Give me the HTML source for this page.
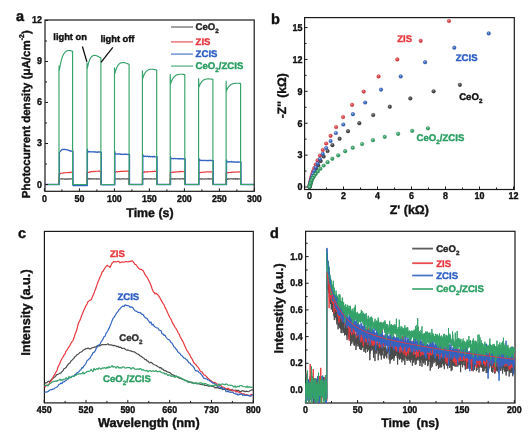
<!DOCTYPE html>
<html><head><meta charset="utf-8"><style>
html,body{margin:0;padding:0;background:#fff;}
svg{display:block;font-family:"Liberation Sans", sans-serif;filter:blur(0.3px);}
</style></head><body>
<svg width="531" height="434" viewBox="0 0 531 434" text-rendering="geometricPrecision">
<rect width="531" height="434" fill="#fff"/>
<defs>
<radialGradient id="gk" cx="0.4" cy="0.35" r="0.65"><stop offset="0" stop-color="#9a9a9a"/><stop offset="0.45" stop-color="#505050"/><stop offset="1" stop-color="#303030"/></radialGradient>
<radialGradient id="gr" cx="0.4" cy="0.35" r="0.65"><stop offset="0" stop-color="#f4a0a4"/><stop offset="0.45" stop-color="#e4474f"/><stop offset="1" stop-color="#c8333b"/></radialGradient>
<radialGradient id="gb" cx="0.4" cy="0.35" r="0.65"><stop offset="0" stop-color="#a8c0ec"/><stop offset="0.45" stop-color="#3f6ec6"/><stop offset="1" stop-color="#2d58a8"/></radialGradient>
<radialGradient id="gg" cx="0.4" cy="0.35" r="0.65"><stop offset="0" stop-color="#a4dcbc"/><stop offset="0.45" stop-color="#3ca56a"/><stop offset="1" stop-color="#2c8a56"/></radialGradient>
<clipPath id="clipA"><rect x="45.0" y="20.0" width="209.2" height="171.3"/></clipPath>
<clipPath id="clipC"><rect x="44.4" y="231.4" width="208.9" height="171.49999999999997"/></clipPath>
<clipPath id="clipD"><rect x="305.6" y="231.3" width="209.39999999999998" height="171.7"/></clipPath>
</defs>
<g clip-path="url(#clipA)">
<polyline points="45.00,184.50 59.00,184.50 59.00,178.90 59.34,178.85 59.68,178.94 60.02,179.04 60.36,178.97 60.70,179.06 61.04,178.89 61.38,178.68 61.72,178.98 62.06,179.00 62.40,178.81 62.74,178.84 63.08,178.88 63.42,179.05 63.76,178.90 64.10,178.78 64.44,179.12 64.78,178.97 65.12,179.21 65.46,179.11 65.80,179.20 66.14,178.93 66.48,179.10 66.82,178.85 67.16,178.87 67.50,178.93 67.84,179.31 68.18,178.98 68.52,178.90 68.86,178.88 69.20,179.15 69.54,178.97 69.88,179.06 70.22,179.03 70.56,178.72 70.90,179.03 71.24,178.90 71.58,178.75 71.92,178.99 72.26,178.91 72.60,178.88 72.60,184.50 87.00,184.50 87.00,184.50 87.00,178.88 87.35,179.10 87.69,178.88 88.04,178.67 88.39,179.15 88.74,178.75 89.09,178.88 89.43,179.00 89.78,178.57 90.13,178.77 90.47,179.09 90.82,178.88 91.17,178.80 91.52,178.93 91.87,178.78 92.21,178.91 92.56,178.79 92.91,178.66 93.25,179.01 93.60,178.86 93.95,178.97 94.30,178.87 94.65,179.09 94.99,178.99 95.34,178.93 95.69,178.75 96.03,178.71 96.38,179.11 96.73,179.03 97.08,178.79 97.43,179.22 97.77,178.97 98.12,178.91 98.47,178.69 98.81,178.78 99.16,178.95 99.51,178.96 99.86,178.94 100.21,178.65 100.55,178.97 100.90,178.95 100.90,184.50 114.50,184.50 114.50,184.50 114.50,178.84 114.86,178.92 115.23,178.93 115.59,179.08 115.96,178.90 116.33,178.97 116.69,178.70 117.05,178.79 117.42,178.90 117.78,178.79 118.15,178.95 118.52,178.72 118.88,178.90 119.25,178.80 119.61,179.11 119.97,178.84 120.34,179.17 120.70,179.23 121.07,178.95 121.44,179.04 121.80,178.87 122.16,178.53 122.53,179.03 122.89,179.00 123.26,178.86 123.62,178.81 123.99,178.92 124.35,178.93 124.72,178.78 125.08,178.81 125.45,179.06 125.81,178.91 126.18,178.89 126.55,179.07 126.91,178.85 127.27,179.04 127.64,178.74 128.00,178.86 128.37,178.88 128.73,178.99 129.10,178.91 129.10,184.50 142.40,184.50 142.40,184.50 142.40,179.22 142.76,179.08 143.12,178.84 143.47,179.24 143.83,178.76 144.19,179.18 144.55,178.77 144.90,179.03 145.26,178.77 145.62,178.87 145.97,179.15 146.33,178.69 146.69,178.66 147.05,178.91 147.41,178.94 147.76,178.92 148.12,179.06 148.48,178.72 148.84,178.98 149.19,178.90 149.55,179.03 149.91,179.00 150.26,179.10 150.62,178.69 150.98,178.92 151.34,178.74 151.69,178.89 152.05,179.01 152.41,178.95 152.77,178.99 153.12,178.89 153.48,178.96 153.84,178.94 154.20,179.12 154.55,179.03 154.91,178.62 155.27,179.01 155.63,179.07 155.98,178.84 156.34,178.66 156.70,179.13 156.70,184.50 170.20,184.50 170.20,184.50 170.20,178.93 170.56,179.00 170.93,179.18 171.29,178.77 171.66,178.90 172.02,178.88 172.39,179.02 172.75,178.82 173.12,178.98 173.48,178.92 173.85,179.08 174.22,179.09 174.58,178.68 174.94,178.98 175.31,178.85 175.68,178.90 176.04,178.97 176.41,178.98 176.77,178.79 177.13,178.94 177.50,178.92 177.87,178.89 178.23,178.70 178.59,178.78 178.96,178.83 179.32,178.99 179.69,179.12 180.06,178.74 180.42,178.74 180.78,178.92 181.15,178.81 181.52,178.77 181.88,178.76 182.25,178.74 182.61,178.97 182.98,178.65 183.34,179.10 183.71,178.75 184.07,178.81 184.44,178.75 184.80,178.59 184.80,184.50 198.60,184.50 198.60,184.50 198.60,178.65 198.96,179.08 199.31,179.17 199.67,178.76 200.03,179.06 200.39,178.90 200.75,178.76 201.10,179.16 201.46,179.24 201.82,178.85 202.18,178.89 202.53,178.94 202.89,178.89 203.25,179.04 203.60,179.14 203.96,178.92 204.32,179.05 204.68,179.16 205.03,178.81 205.39,178.91 205.75,178.83 206.11,179.06 206.47,179.00 206.82,179.06 207.18,179.04 207.54,178.86 207.90,179.02 208.25,178.84 208.61,178.84 208.97,178.56 209.32,179.12 209.68,178.75 210.04,178.91 210.40,178.90 210.75,179.13 211.11,178.97 211.47,178.77 211.83,178.91 212.19,178.88 212.54,178.94 212.90,178.71 212.90,184.50 226.10,184.50 226.10,184.50 226.10,178.90 226.46,179.26 226.82,179.01 227.19,179.22 227.55,179.43 227.91,178.98 228.28,178.68 228.64,178.89 229.00,179.09 229.36,179.05 229.72,178.71 230.09,178.87 230.45,178.89 230.81,178.90 231.17,178.89 231.54,178.76 231.90,178.80 232.26,178.86 232.62,179.07 232.99,178.81 233.35,179.01 233.71,178.72 234.07,179.10 234.44,178.92 234.80,178.90 235.16,179.11 235.53,178.61 235.89,178.66 236.25,178.97 236.61,178.77 236.97,178.83 237.34,179.32 237.70,178.85 238.06,178.91 238.42,178.88 238.79,179.07 239.15,178.94 239.51,178.92 239.88,178.70 240.24,178.84 240.60,178.90 240.60,184.50 254.20,184.50" fill="none" stroke="#4d4d4d" stroke-width="1.1" stroke-linejoin="round" opacity="1.0"/>
<polyline points="45.00,184.50 59.00,184.50 59.00,173.72 59.34,173.96 59.68,173.83 60.02,173.97 60.36,173.32 60.70,173.34 61.04,173.26 61.38,173.23 61.72,173.25 62.06,173.17 62.40,173.18 62.74,173.12 63.08,173.02 63.42,172.73 63.76,172.84 64.10,172.90 64.44,172.94 64.78,172.91 65.12,172.50 65.46,172.65 65.80,172.69 66.14,172.72 66.48,172.82 66.82,172.62 67.16,172.44 67.50,172.63 67.84,172.58 68.18,172.55 68.52,172.48 68.86,172.74 69.20,172.50 69.54,172.58 69.88,172.28 70.22,172.54 70.56,172.31 70.90,172.14 71.24,172.43 71.58,172.46 71.92,172.32 72.26,172.34 72.60,172.50 72.60,184.50 87.00,184.50 87.00,184.50 87.00,172.67 87.35,172.30 87.69,172.58 88.04,172.47 88.39,172.52 88.74,172.21 89.09,172.39 89.43,172.29 89.78,171.83 90.13,172.12 90.47,171.74 90.82,171.61 91.17,171.76 91.52,171.66 91.87,171.38 92.21,171.69 92.56,171.71 92.91,171.80 93.25,171.53 93.60,171.26 93.95,171.31 94.30,171.59 94.65,171.55 94.99,171.46 95.34,171.31 95.69,171.36 96.03,171.27 96.38,171.24 96.73,171.32 97.08,171.26 97.43,171.20 97.77,171.23 98.12,171.12 98.47,170.88 98.81,171.07 99.16,171.15 99.51,171.42 99.86,171.07 100.21,171.44 100.55,171.34 100.90,170.96 100.90,184.50 114.50,184.50 114.50,184.50 114.50,172.08 114.86,172.15 115.23,172.34 115.59,172.05 115.96,172.04 116.33,171.77 116.69,171.45 117.05,171.74 117.42,171.86 117.78,171.88 118.15,171.65 118.52,171.63 118.88,171.76 119.25,171.52 119.61,171.69 119.97,171.29 120.34,171.27 120.70,171.24 121.07,171.47 121.44,171.28 121.80,171.37 122.16,171.39 122.53,171.36 122.89,171.50 123.26,171.51 123.62,171.13 123.99,171.27 124.35,171.19 124.72,171.05 125.08,171.48 125.45,171.32 125.81,171.15 126.18,171.10 126.55,171.22 126.91,170.98 127.27,171.10 127.64,171.33 128.00,171.28 128.37,170.98 128.73,171.03 129.10,171.41 129.10,184.50 142.40,184.50 142.40,184.50 142.40,172.25 142.76,172.30 143.12,172.11 143.47,172.33 143.83,172.26 144.19,172.34 144.55,171.68 144.90,172.08 145.26,171.74 145.62,172.06 145.97,171.89 146.33,172.15 146.69,171.90 147.05,171.65 147.41,171.98 147.76,171.57 148.12,171.66 148.48,171.86 148.84,171.75 149.19,171.72 149.55,171.63 149.91,171.69 150.26,171.72 150.62,171.61 150.98,171.71 151.34,171.74 151.69,171.52 152.05,171.35 152.41,171.74 152.77,171.47 153.12,171.57 153.48,171.61 153.84,171.30 154.20,171.52 154.55,171.18 154.91,171.54 155.27,171.34 155.63,171.43 155.98,171.51 156.34,171.29 156.70,171.40 156.70,184.50 170.20,184.50 170.20,184.50 170.20,172.51 170.56,172.54 170.93,172.65 171.29,172.42 171.66,172.34 172.02,172.13 172.39,172.38 172.75,172.19 173.12,172.42 173.48,171.99 173.85,172.23 174.22,172.31 174.58,171.99 174.94,171.76 175.31,172.16 175.68,172.06 176.04,171.98 176.41,172.01 176.77,171.74 177.13,171.91 177.50,171.88 177.87,171.64 178.23,171.84 178.59,171.63 178.96,171.84 179.32,171.86 179.69,171.95 180.06,171.33 180.42,171.68 180.78,171.57 181.15,171.60 181.52,171.56 181.88,171.57 182.25,171.25 182.61,171.73 182.98,171.80 183.34,171.71 183.71,171.75 184.07,171.40 184.44,171.39 184.80,171.67 184.80,184.50 198.60,184.50 198.60,184.50 198.60,172.97 198.96,172.74 199.31,172.39 199.67,173.03 200.03,172.43 200.39,172.64 200.75,172.25 201.10,172.55 201.46,172.38 201.82,172.54 202.18,172.42 202.53,172.00 202.89,172.06 203.25,172.23 203.60,172.28 203.96,172.42 204.32,172.15 204.68,172.07 205.03,172.05 205.39,172.03 205.75,172.18 206.11,171.99 206.47,171.97 206.82,171.74 207.18,171.63 207.54,171.94 207.90,172.03 208.25,171.90 208.61,171.98 208.97,171.99 209.32,171.87 209.68,172.02 210.04,171.74 210.40,171.85 210.75,171.78 211.11,171.85 211.47,171.93 211.83,171.96 212.19,171.84 212.54,171.88 212.90,171.75 212.90,184.50 226.10,184.50 226.10,184.50 226.10,172.88 226.46,173.04 226.82,172.75 227.19,172.92 227.55,172.75 227.91,172.65 228.28,172.89 228.64,172.50 229.00,172.45 229.36,172.46 229.72,172.47 230.09,172.42 230.45,172.49 230.81,172.34 231.17,172.36 231.54,172.23 231.90,172.42 232.26,172.16 232.62,172.15 232.99,172.18 233.35,172.21 233.71,172.03 234.07,172.37 234.44,172.01 234.80,172.03 235.16,172.01 235.53,171.98 235.89,172.14 236.25,172.06 236.61,171.90 236.97,171.93 237.34,171.95 237.70,172.23 238.06,171.88 238.42,171.77 238.79,171.79 239.15,171.91 239.51,172.20 239.88,171.78 240.24,171.95 240.60,172.34 240.60,184.50 254.20,184.50" fill="none" stroke="#e8393f" stroke-width="1.1" stroke-linejoin="round" opacity="1.0"/>
<polyline points="45.00,184.50 59.40,184.50 59.40,152.04 59.74,151.99 60.08,151.61 60.42,151.16 60.76,150.53 61.10,150.50 61.44,150.12 61.78,149.65 62.12,149.47 62.46,149.59 62.80,149.50 63.14,149.60 63.48,149.48 63.82,149.31 64.16,149.34 64.50,149.43 64.84,149.32 65.18,149.66 65.52,149.59 65.86,149.52 66.20,149.61 66.54,149.59 66.88,149.77 67.22,149.96 67.56,149.92 67.90,150.22 68.24,150.41 68.58,150.13 68.92,150.32 69.26,150.35 69.60,150.77 69.94,150.65 70.28,150.79 70.62,150.93 70.96,151.26 71.30,151.05 71.64,150.96 71.98,151.15 72.32,151.42 72.66,151.44 73.00,151.43 73.00,185.59 87.40,185.59 87.40,185.59 87.40,149.23 87.75,152.29 88.09,151.86 88.44,151.76 88.79,151.74 89.14,151.58 89.49,151.68 89.83,151.83 90.18,151.83 90.53,151.76 90.88,151.99 91.22,151.91 91.57,151.76 91.92,151.60 92.27,151.95 92.61,151.94 92.96,151.91 93.31,151.72 93.66,151.96 94.00,151.72 94.35,152.12 94.70,152.00 95.05,152.01 95.39,151.86 95.74,151.82 96.09,152.25 96.44,152.16 96.78,151.96 97.13,152.13 97.48,152.28 97.83,151.86 98.17,151.96 98.52,151.97 98.87,152.13 99.22,151.89 99.56,152.11 99.91,151.89 100.26,152.23 100.61,152.23 100.95,152.06 101.30,152.22 101.30,184.77 114.90,184.77 114.90,184.77 114.90,151.69 115.27,153.92 115.63,153.99 116.00,154.20 116.36,154.04 116.73,154.12 117.09,153.93 117.45,154.19 117.82,154.17 118.19,153.91 118.55,153.75 118.92,153.80 119.28,154.13 119.65,154.11 120.01,153.91 120.38,154.19 120.74,154.34 121.11,154.17 121.47,154.13 121.84,154.35 122.20,154.49 122.56,154.47 122.93,154.13 123.30,154.38 123.66,154.29 124.03,154.24 124.39,154.18 124.75,154.35 125.12,154.22 125.48,154.46 125.85,154.38 126.22,154.50 126.58,154.16 126.95,154.36 127.31,154.49 127.67,154.43 128.04,154.42 128.41,154.28 128.77,154.67 129.13,154.59 129.50,154.49 129.50,184.50 142.80,184.50 142.80,184.50 142.80,154.43 143.16,155.93 143.52,156.20 143.87,156.39 144.23,156.26 144.59,156.05 144.95,156.44 145.30,156.47 145.66,156.22 146.02,156.35 146.38,156.33 146.73,156.54 147.09,156.15 147.45,156.19 147.81,156.39 148.16,156.38 148.52,156.84 148.88,156.41 149.24,156.56 149.59,156.46 149.95,156.43 150.31,156.61 150.66,156.84 151.02,156.52 151.38,156.71 151.74,156.65 152.09,156.71 152.45,156.67 152.81,157.01 153.17,156.44 153.53,156.61 153.88,156.48 154.24,156.34 154.60,156.67 154.95,156.98 155.31,156.85 155.67,156.91 156.03,156.80 156.38,156.72 156.74,157.07 157.10,156.69 157.10,184.50 170.60,184.50 170.60,184.50 170.60,156.89 170.97,158.79 171.33,158.50 171.69,158.58 172.06,158.62 172.43,158.59 172.79,158.68 173.16,158.70 173.52,158.89 173.88,158.62 174.25,158.33 174.62,158.31 174.98,158.43 175.34,158.54 175.71,158.78 176.07,158.44 176.44,158.70 176.81,158.71 177.17,158.76 177.53,158.71 177.90,158.80 178.27,158.76 178.63,158.93 179.00,158.82 179.36,158.40 179.73,158.79 180.09,158.83 180.46,158.72 180.82,158.70 181.19,159.01 181.55,158.87 181.92,158.69 182.28,158.81 182.65,158.85 183.01,158.62 183.38,159.00 183.74,158.88 184.11,158.99 184.47,158.67 184.84,159.25 185.20,159.05 185.20,184.50 199.00,184.50 199.00,184.50 199.00,158.53 199.36,160.40 199.72,160.21 200.07,160.23 200.43,160.10 200.79,160.60 201.15,160.22 201.50,160.40 201.86,160.47 202.22,160.28 202.57,160.52 202.93,160.72 203.29,160.45 203.65,160.64 204.00,160.51 204.36,160.35 204.72,160.36 205.08,160.16 205.44,160.46 205.79,160.69 206.15,160.56 206.51,160.60 206.87,160.65 207.22,160.39 207.58,160.57 207.94,160.80 208.30,160.37 208.65,160.51 209.01,160.44 209.37,160.48 209.73,160.41 210.08,160.51 210.44,160.32 210.80,160.46 211.16,160.47 211.51,160.48 211.87,160.79 212.23,160.58 212.59,160.61 212.94,160.54 213.30,160.80 213.30,184.50 226.50,184.50 226.50,184.50 226.50,159.89 226.86,161.41 227.22,161.67 227.59,161.90 227.95,161.99 228.31,161.77 228.68,161.75 229.04,161.86 229.40,161.74 229.76,161.87 230.12,161.68 230.49,161.90 230.85,161.80 231.21,161.64 231.57,161.39 231.94,161.99 232.30,161.91 232.66,161.98 233.03,161.73 233.39,162.05 233.75,161.96 234.11,161.89 234.47,162.06 234.84,162.06 235.20,162.00 235.56,162.27 235.93,162.17 236.29,162.02 236.65,161.93 237.01,162.00 237.38,162.27 237.74,162.07 238.10,161.87 238.46,161.92 238.82,162.03 239.19,162.18 239.55,161.94 239.91,162.15 240.28,162.25 240.64,162.20 241.00,161.84 241.00,184.50 254.20,184.50" fill="none" stroke="#3565c0" stroke-width="1.3" stroke-linejoin="round" opacity="1.0"/>
<polyline points="45.00,184.50 59.00,184.50 59.00,65.98 59.34,70.13 59.68,68.05 60.02,66.15 60.36,64.43 60.70,62.86 61.04,61.43 61.38,60.14 61.72,58.97 62.06,57.91 62.40,56.96 62.74,56.10 63.08,55.32 63.42,54.63 63.76,54.01 64.10,53.46 64.44,52.97 64.78,52.54 65.12,52.16 65.46,51.83 65.80,51.55 66.14,51.30 66.48,51.10 66.82,50.93 67.16,50.79 67.50,50.68 67.84,50.60 68.18,50.54 68.52,50.51 68.86,50.50 69.20,50.50 69.54,50.53 69.88,50.57 70.22,50.62 70.56,50.70 70.90,50.78 71.24,50.87 71.58,50.98 71.92,51.10 72.26,51.22 72.60,51.35 72.60,184.50 87.00,184.50 87.00,184.50 87.00,62.84 87.35,68.39 87.69,66.64 88.04,65.08 88.39,63.69 88.74,62.46 89.09,61.38 89.43,60.42 89.78,59.58 90.13,58.84 90.47,58.20 90.82,57.65 91.17,57.17 91.52,56.77 91.87,56.43 92.21,56.15 92.56,55.92 92.91,55.73 93.25,55.59 93.60,55.49 93.95,55.43 94.30,55.39 94.65,55.39 94.99,55.41 95.34,55.46 95.69,55.52 96.03,55.61 96.38,55.71 96.73,55.83 97.08,55.96 97.43,56.11 97.77,56.26 98.12,56.43 98.47,56.61 98.81,56.79 99.16,56.99 99.51,57.19 99.86,57.40 100.21,57.61 100.55,57.83 100.90,58.05 100.90,184.50 114.50,184.50 114.50,184.50 114.50,67.76 114.86,73.65 115.23,72.19 115.59,70.89 115.96,69.74 116.33,68.71 116.69,67.80 117.05,66.99 117.42,66.28 117.78,65.66 118.15,65.12 118.52,64.64 118.88,64.23 119.25,63.88 119.61,63.58 119.97,63.33 120.34,63.12 120.70,62.94 121.07,62.81 121.44,62.70 121.80,62.63 122.16,62.58 122.53,62.55 122.89,62.55 123.26,62.56 123.62,62.60 123.99,62.64 124.35,62.71 124.72,62.78 125.08,62.87 125.45,62.97 125.81,63.07 126.18,63.19 126.55,63.31 126.91,63.44 127.27,63.58 127.64,63.72 128.00,63.87 128.37,64.02 128.73,64.18 129.10,64.34 129.10,184.50 142.40,184.50 142.40,184.50 142.40,70.77 142.76,78.51 143.12,77.36 143.47,76.34 143.83,75.42 144.19,74.60 144.55,73.87 144.90,73.22 145.26,72.64 145.62,72.13 145.97,71.68 146.33,71.29 146.69,70.94 147.05,70.64 147.41,70.37 147.76,70.15 148.12,69.95 148.48,69.79 148.84,69.65 149.19,69.54 149.55,69.45 149.91,69.37 150.26,69.32 150.62,69.28 150.98,69.26 151.34,69.25 151.69,69.26 152.05,69.27 152.41,69.29 152.77,69.33 153.12,69.37 153.48,69.42 153.84,69.47 154.20,69.53 154.55,69.60 154.91,69.67 155.27,69.74 155.63,69.82 155.98,69.91 156.34,69.99 156.70,70.08 156.70,184.50 170.20,184.50 170.20,184.50 170.20,74.59 170.56,83.87 170.93,82.74 171.29,81.73 171.66,80.83 172.02,80.01 172.39,79.29 172.75,78.63 173.12,78.05 173.48,77.54 173.85,77.07 174.22,76.66 174.58,76.30 174.94,75.98 175.31,75.70 175.68,75.45 176.04,75.23 176.41,75.04 176.77,74.88 177.13,74.74 177.50,74.62 177.87,74.52 178.23,74.44 178.59,74.37 178.96,74.32 179.32,74.28 179.69,74.25 180.06,74.23 180.42,74.22 180.78,74.22 181.15,74.23 181.52,74.24 181.88,74.26 182.25,74.29 182.61,74.32 182.98,74.36 183.34,74.40 183.71,74.44 184.07,74.49 184.44,74.54 184.80,74.59 184.80,184.50 198.60,184.50 198.60,184.50 198.60,78.69 198.96,87.17 199.31,86.18 199.67,85.30 200.03,84.51 200.39,83.80 200.75,83.17 201.10,82.60 201.46,82.10 201.82,81.65 202.18,81.26 202.53,80.90 202.89,80.59 203.25,80.32 203.60,80.08 203.96,79.87 204.32,79.69 204.68,79.53 205.03,79.40 205.39,79.29 205.75,79.19 206.11,79.12 206.47,79.05 206.82,79.00 207.18,78.97 207.54,78.94 207.90,78.93 208.25,78.92 208.61,78.92 208.97,78.93 209.32,78.95 209.68,78.97 210.04,79.00 210.40,79.04 210.75,79.07 211.11,79.12 211.47,79.16 211.83,79.21 212.19,79.26 212.54,79.32 212.90,79.38 212.90,184.50 226.10,184.50 226.10,184.50 226.10,81.15 226.46,90.96 226.82,90.07 227.19,89.28 227.55,88.56 227.91,87.91 228.28,87.34 228.64,86.82 229.00,86.36 229.36,85.94 229.72,85.58 230.09,85.25 230.45,84.96 230.81,84.70 231.17,84.47 231.54,84.27 231.90,84.10 232.26,83.95 232.62,83.81 232.99,83.70 233.35,83.60 233.71,83.52 234.07,83.45 234.44,83.39 234.80,83.34 235.16,83.31 235.53,83.28 235.89,83.26 236.25,83.25 236.61,83.24 236.97,83.24 237.34,83.25 237.70,83.26 238.06,83.27 238.42,83.29 238.79,83.32 239.15,83.34 239.51,83.37 239.88,83.41 240.24,83.44 240.60,83.48 240.60,184.50 254.20,184.50" fill="none" stroke="#36a36a" stroke-width="1.15" stroke-linejoin="round" opacity="1.0"/>
</g>
<rect x="45.00" y="20.00" width="209.20" height="171.30" fill="none" stroke="#1a1a1a" stroke-width="1.2"/>
<line x1="44.40" y1="191.30" x2="44.40" y2="188.30" stroke="#1a1a1a" stroke-width="1"/>
<line x1="79.40" y1="191.30" x2="79.40" y2="188.30" stroke="#1a1a1a" stroke-width="1"/>
<line x1="114.40" y1="191.30" x2="114.40" y2="188.30" stroke="#1a1a1a" stroke-width="1"/>
<line x1="149.40" y1="191.30" x2="149.40" y2="188.30" stroke="#1a1a1a" stroke-width="1"/>
<line x1="184.40" y1="191.30" x2="184.40" y2="188.30" stroke="#1a1a1a" stroke-width="1"/>
<line x1="219.40" y1="191.30" x2="219.40" y2="188.30" stroke="#1a1a1a" stroke-width="1"/>
<line x1="254.40" y1="191.30" x2="254.40" y2="188.30" stroke="#1a1a1a" stroke-width="1"/>
<line x1="61.90" y1="191.30" x2="61.90" y2="189.30" stroke="#1a1a1a" stroke-width="1"/>
<line x1="96.90" y1="191.30" x2="96.90" y2="189.30" stroke="#1a1a1a" stroke-width="1"/>
<line x1="131.90" y1="191.30" x2="131.90" y2="189.30" stroke="#1a1a1a" stroke-width="1"/>
<line x1="166.90" y1="191.30" x2="166.90" y2="189.30" stroke="#1a1a1a" stroke-width="1"/>
<line x1="201.90" y1="191.30" x2="201.90" y2="189.30" stroke="#1a1a1a" stroke-width="1"/>
<line x1="236.90" y1="191.30" x2="236.90" y2="189.30" stroke="#1a1a1a" stroke-width="1"/>
<line x1="45.00" y1="184.50" x2="48.00" y2="184.50" stroke="#1a1a1a" stroke-width="1"/>
<line x1="45.00" y1="143.49" x2="48.00" y2="143.49" stroke="#1a1a1a" stroke-width="1"/>
<line x1="45.00" y1="102.48" x2="48.00" y2="102.48" stroke="#1a1a1a" stroke-width="1"/>
<line x1="45.00" y1="61.47" x2="48.00" y2="61.47" stroke="#1a1a1a" stroke-width="1"/>
<line x1="45.00" y1="20.46" x2="48.00" y2="20.46" stroke="#1a1a1a" stroke-width="1"/>
<line x1="45.00" y1="164.00" x2="47.00" y2="164.00" stroke="#1a1a1a" stroke-width="1"/>
<line x1="45.00" y1="122.98" x2="47.00" y2="122.98" stroke="#1a1a1a" stroke-width="1"/>
<line x1="45.00" y1="81.97" x2="47.00" y2="81.97" stroke="#1a1a1a" stroke-width="1"/>
<line x1="45.00" y1="40.97" x2="47.00" y2="40.97" stroke="#1a1a1a" stroke-width="1"/>
<text transform="translate(44.40,201.80) scale(0.9,1)" text-rendering="geometricPrecision" font-size="9.9" text-anchor="middle" fill="#111" stroke="#111" stroke-width="0.4" font-weight="bold">0</text>
<text transform="translate(79.40,201.80) scale(0.9,1)" text-rendering="geometricPrecision" font-size="9.9" text-anchor="middle" fill="#111" stroke="#111" stroke-width="0.4" font-weight="bold">50</text>
<text transform="translate(114.40,201.80) scale(0.9,1)" text-rendering="geometricPrecision" font-size="9.9" text-anchor="middle" fill="#111" stroke="#111" stroke-width="0.4" font-weight="bold">100</text>
<text transform="translate(149.40,201.80) scale(0.9,1)" text-rendering="geometricPrecision" font-size="9.9" text-anchor="middle" fill="#111" stroke="#111" stroke-width="0.4" font-weight="bold">150</text>
<text transform="translate(184.40,201.80) scale(0.9,1)" text-rendering="geometricPrecision" font-size="9.9" text-anchor="middle" fill="#111" stroke="#111" stroke-width="0.4" font-weight="bold">200</text>
<text transform="translate(219.40,201.80) scale(0.9,1)" text-rendering="geometricPrecision" font-size="9.9" text-anchor="middle" fill="#111" stroke="#111" stroke-width="0.4" font-weight="bold">250</text>
<text transform="translate(254.40,201.80) scale(0.9,1)" text-rendering="geometricPrecision" font-size="9.9" text-anchor="middle" fill="#111" stroke="#111" stroke-width="0.4" font-weight="bold">300</text>
<text transform="translate(42.00,187.50) scale(0.9,1)" text-rendering="geometricPrecision" font-size="9.9" text-anchor="end" fill="#111" stroke="#111" stroke-width="0.4" font-weight="bold">0</text>
<text transform="translate(42.00,146.49) scale(0.9,1)" text-rendering="geometricPrecision" font-size="9.9" text-anchor="end" fill="#111" stroke="#111" stroke-width="0.4" font-weight="bold">3</text>
<text transform="translate(42.00,105.48) scale(0.9,1)" text-rendering="geometricPrecision" font-size="9.9" text-anchor="end" fill="#111" stroke="#111" stroke-width="0.4" font-weight="bold">6</text>
<text transform="translate(42.00,64.47) scale(0.9,1)" text-rendering="geometricPrecision" font-size="9.9" text-anchor="end" fill="#111" stroke="#111" stroke-width="0.4" font-weight="bold">9</text>
<text transform="translate(42.00,23.46) scale(0.9,1)" text-rendering="geometricPrecision" font-size="9.9" text-anchor="end" fill="#111" stroke="#111" stroke-width="0.4" font-weight="bold">12</text>
<text x="126.30" y="216.70" font-size="12.4" text-anchor="start" fill="#111" stroke="#111" stroke-width="0.4" font-weight="bold" >Time (s)</text>
<text transform="translate(30.3,198.2) rotate(-90)" font-size="11.5" font-weight="bold" fill="#111" stroke="#111" stroke-width="0.4">Photocurrent density (μA/cm<tspan font-size="7" dy="-6.2">-2</tspan><tspan dy="6.2">)</tspan></text>
<text x="16.00" y="21.20" font-size="14.5" text-anchor="start" fill="#111" stroke="#111" stroke-width="0.4" font-weight="bold" >a</text>
<line x1="171" y1="27.0" x2="193" y2="27.0" stroke="#4d4d4d" stroke-width="1.4" stroke-opacity="0.75"/>
<text x="195.60" y="30.20" font-size="9.6" text-anchor="start" fill="#262626" stroke="#262626" stroke-width="0.4" font-weight="bold" >CeO<tspan font-size="6.2" dy="3">2</tspan></text>
<line x1="171" y1="41.9" x2="193" y2="41.9" stroke="#e8393f" stroke-width="1.4" stroke-opacity="0.75"/>
<text x="195.60" y="45.10" font-size="9.6" text-anchor="start" fill="#e63a40" stroke="#e63a40" stroke-width="0.4" font-weight="bold" >ZIS</text>
<line x1="171" y1="54.1" x2="193" y2="54.1" stroke="#3565c0" stroke-width="1.4" stroke-opacity="0.75"/>
<text x="195.60" y="57.30" font-size="9.6" text-anchor="start" fill="#2f5fc4" stroke="#2f5fc4" stroke-width="0.4" font-weight="bold" >ZCIS</text>
<line x1="171" y1="66.1" x2="193" y2="66.1" stroke="#36a36a" stroke-width="1.4" stroke-opacity="0.75"/>
<text x="195.60" y="69.30" font-size="9.6" text-anchor="start" fill="#2c9e62" stroke="#2c9e62" stroke-width="0.4" font-weight="bold" >CeO<tspan font-size="6.2" dy="3">2</tspan><tspan dy="-3">/ZCIS</tspan></text>
<text x="53.30" y="40.10" font-size="9.3" text-anchor="start" fill="#111" stroke="#111" stroke-width="0.4" font-weight="bold" >light on</text>
<text x="100.40" y="41.60" font-size="9.3" text-anchor="start" fill="#111" stroke="#111" stroke-width="0.4" font-weight="bold" >light off</text>
<line x1="82.4" y1="46.5" x2="86.9" y2="61.9" stroke="#111" stroke-width="1.3"/>
<line x1="112.8" y1="47.3" x2="101" y2="62.4" stroke="#111" stroke-width="1.3"/>
<rect x="304.60" y="17.60" width="209.70" height="171.90" fill="none" stroke="#1a1a1a" stroke-width="1.2"/>
<line x1="309.50" y1="189.50" x2="309.50" y2="186.50" stroke="#1a1a1a" stroke-width="1"/>
<line x1="343.50" y1="189.50" x2="343.50" y2="186.50" stroke="#1a1a1a" stroke-width="1"/>
<line x1="377.50" y1="189.50" x2="377.50" y2="186.50" stroke="#1a1a1a" stroke-width="1"/>
<line x1="411.50" y1="189.50" x2="411.50" y2="186.50" stroke="#1a1a1a" stroke-width="1"/>
<line x1="445.50" y1="189.50" x2="445.50" y2="186.50" stroke="#1a1a1a" stroke-width="1"/>
<line x1="479.50" y1="189.50" x2="479.50" y2="186.50" stroke="#1a1a1a" stroke-width="1"/>
<line x1="513.50" y1="189.50" x2="513.50" y2="186.50" stroke="#1a1a1a" stroke-width="1"/>
<line x1="326.50" y1="189.50" x2="326.50" y2="187.50" stroke="#1a1a1a" stroke-width="1"/>
<line x1="360.50" y1="189.50" x2="360.50" y2="187.50" stroke="#1a1a1a" stroke-width="1"/>
<line x1="394.50" y1="189.50" x2="394.50" y2="187.50" stroke="#1a1a1a" stroke-width="1"/>
<line x1="428.50" y1="189.50" x2="428.50" y2="187.50" stroke="#1a1a1a" stroke-width="1"/>
<line x1="462.50" y1="189.50" x2="462.50" y2="187.50" stroke="#1a1a1a" stroke-width="1"/>
<line x1="496.50" y1="189.50" x2="496.50" y2="187.50" stroke="#1a1a1a" stroke-width="1"/>
<line x1="304.60" y1="187.00" x2="307.60" y2="187.00" stroke="#1a1a1a" stroke-width="1"/>
<line x1="304.60" y1="155.11" x2="307.60" y2="155.11" stroke="#1a1a1a" stroke-width="1"/>
<line x1="304.60" y1="123.22" x2="307.60" y2="123.22" stroke="#1a1a1a" stroke-width="1"/>
<line x1="304.60" y1="91.33" x2="307.60" y2="91.33" stroke="#1a1a1a" stroke-width="1"/>
<line x1="304.60" y1="59.44" x2="307.60" y2="59.44" stroke="#1a1a1a" stroke-width="1"/>
<line x1="304.60" y1="27.55" x2="307.60" y2="27.55" stroke="#1a1a1a" stroke-width="1"/>
<line x1="304.60" y1="171.06" x2="306.60" y2="171.06" stroke="#1a1a1a" stroke-width="1"/>
<line x1="304.60" y1="139.16" x2="306.60" y2="139.16" stroke="#1a1a1a" stroke-width="1"/>
<line x1="304.60" y1="107.27" x2="306.60" y2="107.27" stroke="#1a1a1a" stroke-width="1"/>
<line x1="304.60" y1="75.38" x2="306.60" y2="75.38" stroke="#1a1a1a" stroke-width="1"/>
<line x1="304.60" y1="43.49" x2="306.60" y2="43.49" stroke="#1a1a1a" stroke-width="1"/>
<text transform="translate(309.50,199.30) scale(0.9,1)" text-rendering="geometricPrecision" font-size="9.9" text-anchor="middle" fill="#111" stroke="#111" stroke-width="0.4" font-weight="bold">0</text>
<text transform="translate(343.50,199.30) scale(0.9,1)" text-rendering="geometricPrecision" font-size="9.9" text-anchor="middle" fill="#111" stroke="#111" stroke-width="0.4" font-weight="bold">2</text>
<text transform="translate(377.50,199.30) scale(0.9,1)" text-rendering="geometricPrecision" font-size="9.9" text-anchor="middle" fill="#111" stroke="#111" stroke-width="0.4" font-weight="bold">4</text>
<text transform="translate(411.50,199.30) scale(0.9,1)" text-rendering="geometricPrecision" font-size="9.9" text-anchor="middle" fill="#111" stroke="#111" stroke-width="0.4" font-weight="bold">6</text>
<text transform="translate(445.50,199.30) scale(0.9,1)" text-rendering="geometricPrecision" font-size="9.9" text-anchor="middle" fill="#111" stroke="#111" stroke-width="0.4" font-weight="bold">8</text>
<text transform="translate(479.50,199.30) scale(0.9,1)" text-rendering="geometricPrecision" font-size="9.9" text-anchor="middle" fill="#111" stroke="#111" stroke-width="0.4" font-weight="bold">10</text>
<text transform="translate(513.50,199.30) scale(0.9,1)" text-rendering="geometricPrecision" font-size="9.9" text-anchor="middle" fill="#111" stroke="#111" stroke-width="0.4" font-weight="bold">12</text>
<text transform="translate(302.50,190.30) scale(0.9,1)" text-rendering="geometricPrecision" font-size="9.9" text-anchor="end" fill="#111" stroke="#111" stroke-width="0.4" font-weight="bold">0</text>
<text transform="translate(302.50,158.41) scale(0.9,1)" text-rendering="geometricPrecision" font-size="9.9" text-anchor="end" fill="#111" stroke="#111" stroke-width="0.4" font-weight="bold">3</text>
<text transform="translate(302.50,126.52) scale(0.9,1)" text-rendering="geometricPrecision" font-size="9.9" text-anchor="end" fill="#111" stroke="#111" stroke-width="0.4" font-weight="bold">6</text>
<text transform="translate(302.50,94.63) scale(0.9,1)" text-rendering="geometricPrecision" font-size="9.9" text-anchor="end" fill="#111" stroke="#111" stroke-width="0.4" font-weight="bold">9</text>
<text transform="translate(302.50,62.74) scale(0.9,1)" text-rendering="geometricPrecision" font-size="9.9" text-anchor="end" fill="#111" stroke="#111" stroke-width="0.4" font-weight="bold">12</text>
<text transform="translate(302.50,30.85) scale(0.9,1)" text-rendering="geometricPrecision" font-size="9.9" text-anchor="end" fill="#111" stroke="#111" stroke-width="0.4" font-weight="bold">15</text>
<text x="389.80" y="213.50" font-size="12.4" text-anchor="start" fill="#111" stroke="#111" stroke-width="0.4" font-weight="bold" >Z' (kΩ)</text>
<text transform="translate(285.8,118.2) rotate(-90)" font-size="12.1" font-weight="bold" fill="#111" stroke="#111" stroke-width="0.4">-Z'' (kΩ)</text>
<text x="271.00" y="23.60" font-size="14.5" text-anchor="start" fill="#111" stroke="#111" stroke-width="0.4" font-weight="bold" >b</text>
<circle cx="459.90" cy="84.80" r="1.85" fill="url(#gk)" stroke="#2a2a2a" stroke-width="0.3"/>
<circle cx="433.60" cy="91.30" r="1.85" fill="url(#gk)" stroke="#2a2a2a" stroke-width="0.3"/>
<circle cx="410.30" cy="98.40" r="1.85" fill="url(#gk)" stroke="#2a2a2a" stroke-width="0.3"/>
<circle cx="389.80" cy="106.70" r="1.85" fill="url(#gk)" stroke="#2a2a2a" stroke-width="0.3"/>
<circle cx="373.20" cy="115.00" r="1.85" fill="url(#gk)" stroke="#2a2a2a" stroke-width="0.3"/>
<circle cx="359.30" cy="123.20" r="1.85" fill="url(#gk)" stroke="#2a2a2a" stroke-width="0.3"/>
<circle cx="348.00" cy="131.20" r="1.85" fill="url(#gk)" stroke="#2a2a2a" stroke-width="0.3"/>
<circle cx="339.60" cy="138.70" r="1.85" fill="url(#gk)" stroke="#2a2a2a" stroke-width="0.3"/>
<circle cx="332.40" cy="145.20" r="1.85" fill="url(#gk)" stroke="#2a2a2a" stroke-width="0.3"/>
<circle cx="327.60" cy="151.00" r="1.85" fill="url(#gk)" stroke="#2a2a2a" stroke-width="0.3"/>
<circle cx="323.70" cy="156.50" r="1.85" fill="url(#gk)" stroke="#2a2a2a" stroke-width="0.3"/>
<circle cx="320.70" cy="161.10" r="1.85" fill="url(#gk)" stroke="#2a2a2a" stroke-width="0.3"/>
<circle cx="318.20" cy="165.20" r="1.85" fill="url(#gk)" stroke="#2a2a2a" stroke-width="0.3"/>
<circle cx="316.13" cy="168.84" r="1.85" fill="url(#gk)" stroke="#2a2a2a" stroke-width="0.3"/>
<circle cx="314.55" cy="172.01" r="1.85" fill="url(#gk)" stroke="#2a2a2a" stroke-width="0.3"/>
<circle cx="313.34" cy="174.78" r="1.85" fill="url(#gk)" stroke="#2a2a2a" stroke-width="0.3"/>
<circle cx="312.39" cy="177.22" r="1.85" fill="url(#gk)" stroke="#2a2a2a" stroke-width="0.3"/>
<circle cx="311.63" cy="179.38" r="1.85" fill="url(#gk)" stroke="#2a2a2a" stroke-width="0.3"/>
<circle cx="311.05" cy="181.23" r="1.85" fill="url(#gk)" stroke="#2a2a2a" stroke-width="0.3"/>
<circle cx="310.59" cy="182.81" r="1.85" fill="url(#gk)" stroke="#2a2a2a" stroke-width="0.3"/>
<circle cx="310.22" cy="184.19" r="1.85" fill="url(#gk)" stroke="#2a2a2a" stroke-width="0.3"/>
<circle cx="309.92" cy="185.40" r="1.85" fill="url(#gk)" stroke="#2a2a2a" stroke-width="0.3"/>
<circle cx="309.68" cy="186.45" r="1.85" fill="url(#gk)" stroke="#2a2a2a" stroke-width="0.3"/>
<circle cx="309.60" cy="186.80" r="1.85" fill="url(#gk)" stroke="#2a2a2a" stroke-width="0.3"/>
<circle cx="449.00" cy="21.00" r="1.85" fill="url(#gr)" stroke="#b8323a" stroke-width="0.3"/>
<circle cx="420.70" cy="40.80" r="1.85" fill="url(#gr)" stroke="#b8323a" stroke-width="0.3"/>
<circle cx="397.30" cy="59.40" r="1.85" fill="url(#gr)" stroke="#b8323a" stroke-width="0.3"/>
<circle cx="378.60" cy="76.40" r="1.85" fill="url(#gr)" stroke="#b8323a" stroke-width="0.3"/>
<circle cx="363.70" cy="91.60" r="1.85" fill="url(#gr)" stroke="#b8323a" stroke-width="0.3"/>
<circle cx="352.10" cy="104.80" r="1.85" fill="url(#gr)" stroke="#b8323a" stroke-width="0.3"/>
<circle cx="343.10" cy="117.00" r="1.85" fill="url(#gr)" stroke="#b8323a" stroke-width="0.3"/>
<circle cx="336.10" cy="127.00" r="1.85" fill="url(#gr)" stroke="#b8323a" stroke-width="0.3"/>
<circle cx="330.60" cy="135.80" r="1.85" fill="url(#gr)" stroke="#b8323a" stroke-width="0.3"/>
<circle cx="326.20" cy="143.50" r="1.85" fill="url(#gr)" stroke="#b8323a" stroke-width="0.3"/>
<circle cx="322.80" cy="150.00" r="1.85" fill="url(#gr)" stroke="#b8323a" stroke-width="0.3"/>
<circle cx="319.90" cy="155.60" r="1.85" fill="url(#gr)" stroke="#b8323a" stroke-width="0.3"/>
<circle cx="317.50" cy="160.40" r="1.85" fill="url(#gr)" stroke="#b8323a" stroke-width="0.3"/>
<circle cx="315.70" cy="164.50" r="1.85" fill="url(#gr)" stroke="#b8323a" stroke-width="0.3"/>
<circle cx="314.23" cy="168.09" r="1.85" fill="url(#gr)" stroke="#b8323a" stroke-width="0.3"/>
<circle cx="313.12" cy="171.19" r="1.85" fill="url(#gr)" stroke="#b8323a" stroke-width="0.3"/>
<circle cx="312.25" cy="173.95" r="1.85" fill="url(#gr)" stroke="#b8323a" stroke-width="0.3"/>
<circle cx="311.60" cy="176.29" r="1.85" fill="url(#gr)" stroke="#b8323a" stroke-width="0.3"/>
<circle cx="311.10" cy="178.32" r="1.85" fill="url(#gr)" stroke="#b8323a" stroke-width="0.3"/>
<circle cx="310.71" cy="180.08" r="1.85" fill="url(#gr)" stroke="#b8323a" stroke-width="0.3"/>
<circle cx="310.41" cy="181.63" r="1.85" fill="url(#gr)" stroke="#b8323a" stroke-width="0.3"/>
<circle cx="310.17" cy="182.96" r="1.85" fill="url(#gr)" stroke="#b8323a" stroke-width="0.3"/>
<circle cx="309.99" cy="184.06" r="1.85" fill="url(#gr)" stroke="#b8323a" stroke-width="0.3"/>
<circle cx="309.84" cy="185.04" r="1.85" fill="url(#gr)" stroke="#b8323a" stroke-width="0.3"/>
<circle cx="309.71" cy="185.92" r="1.85" fill="url(#gr)" stroke="#b8323a" stroke-width="0.3"/>
<circle cx="309.62" cy="186.62" r="1.85" fill="url(#gr)" stroke="#b8323a" stroke-width="0.3"/>
<circle cx="309.60" cy="186.80" r="1.85" fill="url(#gr)" stroke="#b8323a" stroke-width="0.3"/>
<circle cx="488.70" cy="33.40" r="1.85" fill="url(#gb)" stroke="#2a4f98" stroke-width="0.3"/>
<circle cx="454.30" cy="47.70" r="1.85" fill="url(#gb)" stroke="#2a4f98" stroke-width="0.3"/>
<circle cx="425.10" cy="62.20" r="1.85" fill="url(#gb)" stroke="#2a4f98" stroke-width="0.3"/>
<circle cx="400.70" cy="76.40" r="1.85" fill="url(#gb)" stroke="#2a4f98" stroke-width="0.3"/>
<circle cx="381.00" cy="89.60" r="1.85" fill="url(#gb)" stroke="#2a4f98" stroke-width="0.3"/>
<circle cx="365.20" cy="102.50" r="1.85" fill="url(#gb)" stroke="#2a4f98" stroke-width="0.3"/>
<circle cx="352.90" cy="114.20" r="1.85" fill="url(#gb)" stroke="#2a4f98" stroke-width="0.3"/>
<circle cx="343.30" cy="124.50" r="1.85" fill="url(#gb)" stroke="#2a4f98" stroke-width="0.3"/>
<circle cx="335.90" cy="133.00" r="1.85" fill="url(#gb)" stroke="#2a4f98" stroke-width="0.3"/>
<circle cx="330.60" cy="141.00" r="1.85" fill="url(#gb)" stroke="#2a4f98" stroke-width="0.3"/>
<circle cx="326.20" cy="148.00" r="1.85" fill="url(#gb)" stroke="#2a4f98" stroke-width="0.3"/>
<circle cx="322.80" cy="153.90" r="1.85" fill="url(#gb)" stroke="#2a4f98" stroke-width="0.3"/>
<circle cx="319.90" cy="159.00" r="1.85" fill="url(#gb)" stroke="#2a4f98" stroke-width="0.3"/>
<circle cx="317.60" cy="163.40" r="1.85" fill="url(#gb)" stroke="#2a4f98" stroke-width="0.3"/>
<circle cx="315.80" cy="167.30" r="1.85" fill="url(#gb)" stroke="#2a4f98" stroke-width="0.3"/>
<circle cx="314.31" cy="170.73" r="1.85" fill="url(#gb)" stroke="#2a4f98" stroke-width="0.3"/>
<circle cx="313.17" cy="173.69" r="1.85" fill="url(#gb)" stroke="#2a4f98" stroke-width="0.3"/>
<circle cx="312.29" cy="176.26" r="1.85" fill="url(#gb)" stroke="#2a4f98" stroke-width="0.3"/>
<circle cx="311.59" cy="178.51" r="1.85" fill="url(#gb)" stroke="#2a4f98" stroke-width="0.3"/>
<circle cx="311.04" cy="180.44" r="1.85" fill="url(#gb)" stroke="#2a4f98" stroke-width="0.3"/>
<circle cx="310.61" cy="182.14" r="1.85" fill="url(#gb)" stroke="#2a4f98" stroke-width="0.3"/>
<circle cx="310.26" cy="183.60" r="1.85" fill="url(#gb)" stroke="#2a4f98" stroke-width="0.3"/>
<circle cx="309.99" cy="184.86" r="1.85" fill="url(#gb)" stroke="#2a4f98" stroke-width="0.3"/>
<circle cx="309.77" cy="185.93" r="1.85" fill="url(#gb)" stroke="#2a4f98" stroke-width="0.3"/>
<circle cx="309.60" cy="186.80" r="1.85" fill="url(#gb)" stroke="#2a4f98" stroke-width="0.3"/>
<circle cx="427.90" cy="128.30" r="1.85" fill="url(#gg)" stroke="#2a8050" stroke-width="0.3"/>
<circle cx="412.20" cy="130.80" r="1.85" fill="url(#gg)" stroke="#2a8050" stroke-width="0.3"/>
<circle cx="398.10" cy="133.80" r="1.85" fill="url(#gg)" stroke="#2a8050" stroke-width="0.3"/>
<circle cx="384.70" cy="136.80" r="1.85" fill="url(#gg)" stroke="#2a8050" stroke-width="0.3"/>
<circle cx="372.90" cy="140.20" r="1.85" fill="url(#gg)" stroke="#2a8050" stroke-width="0.3"/>
<circle cx="362.10" cy="144.00" r="1.85" fill="url(#gg)" stroke="#2a8050" stroke-width="0.3"/>
<circle cx="352.70" cy="147.70" r="1.85" fill="url(#gg)" stroke="#2a8050" stroke-width="0.3"/>
<circle cx="345.20" cy="151.20" r="1.85" fill="url(#gg)" stroke="#2a8050" stroke-width="0.3"/>
<circle cx="338.20" cy="155.30" r="1.85" fill="url(#gg)" stroke="#2a8050" stroke-width="0.3"/>
<circle cx="332.30" cy="158.70" r="1.85" fill="url(#gg)" stroke="#2a8050" stroke-width="0.3"/>
<circle cx="327.60" cy="162.20" r="1.85" fill="url(#gg)" stroke="#2a8050" stroke-width="0.3"/>
<circle cx="323.70" cy="165.50" r="1.85" fill="url(#gg)" stroke="#2a8050" stroke-width="0.3"/>
<circle cx="320.40" cy="168.70" r="1.85" fill="url(#gg)" stroke="#2a8050" stroke-width="0.3"/>
<circle cx="317.80" cy="171.40" r="1.85" fill="url(#gg)" stroke="#2a8050" stroke-width="0.3"/>
<circle cx="315.70" cy="173.90" r="1.85" fill="url(#gg)" stroke="#2a8050" stroke-width="0.3"/>
<circle cx="314.00" cy="176.14" r="1.85" fill="url(#gg)" stroke="#2a8050" stroke-width="0.3"/>
<circle cx="312.74" cy="178.19" r="1.85" fill="url(#gg)" stroke="#2a8050" stroke-width="0.3"/>
<circle cx="311.78" cy="180.07" r="1.85" fill="url(#gg)" stroke="#2a8050" stroke-width="0.3"/>
<circle cx="311.09" cy="181.69" r="1.85" fill="url(#gg)" stroke="#2a8050" stroke-width="0.3"/>
<circle cx="310.56" cy="183.16" r="1.85" fill="url(#gg)" stroke="#2a8050" stroke-width="0.3"/>
<circle cx="310.18" cy="184.39" r="1.85" fill="url(#gg)" stroke="#2a8050" stroke-width="0.3"/>
<circle cx="309.89" cy="185.51" r="1.85" fill="url(#gg)" stroke="#2a8050" stroke-width="0.3"/>
<circle cx="309.67" cy="186.47" r="1.85" fill="url(#gg)" stroke="#2a8050" stroke-width="0.3"/>
<circle cx="309.60" cy="186.80" r="1.85" fill="url(#gg)" stroke="#2a8050" stroke-width="0.3"/>
<text x="397.20" y="42.00" font-size="9.6" text-anchor="start" fill="#e63a40" stroke="#e63a40" stroke-width="0.4" font-weight="bold" >ZIS</text>
<text x="455.70" y="61.10" font-size="9.6" text-anchor="start" fill="#2f5fc4" stroke="#2f5fc4" stroke-width="0.4" font-weight="bold" >ZCIS</text>
<text x="459.20" y="100.30" font-size="9.6" text-anchor="start" fill="#111" stroke="#111" stroke-width="0.4" font-weight="bold" >CeO<tspan font-size="6.2" dy="3">2</tspan></text>
<text x="416.60" y="141.10" font-size="9.6" text-anchor="start" fill="#2c9e62" stroke="#2c9e62" stroke-width="0.4" font-weight="bold" >CeO<tspan font-size="6.2" dy="3">2</tspan><tspan dy="-3">/ZCIS</tspan></text>
<rect x="44.40" y="231.40" width="208.90" height="171.50" fill="none" stroke="#1a1a1a" stroke-width="1.2"/>
<line x1="44.20" y1="402.90" x2="44.20" y2="399.90" stroke="#1a1a1a" stroke-width="1"/>
<line x1="86.02" y1="402.90" x2="86.02" y2="399.90" stroke="#1a1a1a" stroke-width="1"/>
<line x1="127.84" y1="402.90" x2="127.84" y2="399.90" stroke="#1a1a1a" stroke-width="1"/>
<line x1="169.66" y1="402.90" x2="169.66" y2="399.90" stroke="#1a1a1a" stroke-width="1"/>
<line x1="211.48" y1="402.90" x2="211.48" y2="399.90" stroke="#1a1a1a" stroke-width="1"/>
<line x1="253.30" y1="402.90" x2="253.30" y2="399.90" stroke="#1a1a1a" stroke-width="1"/>
<line x1="65.11" y1="402.90" x2="65.11" y2="400.90" stroke="#1a1a1a" stroke-width="1"/>
<line x1="106.93" y1="402.90" x2="106.93" y2="400.90" stroke="#1a1a1a" stroke-width="1"/>
<line x1="148.75" y1="402.90" x2="148.75" y2="400.90" stroke="#1a1a1a" stroke-width="1"/>
<line x1="190.57" y1="402.90" x2="190.57" y2="400.90" stroke="#1a1a1a" stroke-width="1"/>
<line x1="232.39" y1="402.90" x2="232.39" y2="400.90" stroke="#1a1a1a" stroke-width="1"/>
<text transform="translate(44.20,412.80) scale(0.9,1)" text-rendering="geometricPrecision" font-size="9.9" text-anchor="middle" fill="#111" stroke="#111" stroke-width="0.4" font-weight="bold">450</text>
<text transform="translate(86.02,412.80) scale(0.9,1)" text-rendering="geometricPrecision" font-size="9.9" text-anchor="middle" fill="#111" stroke="#111" stroke-width="0.4" font-weight="bold">520</text>
<text transform="translate(127.84,412.80) scale(0.9,1)" text-rendering="geometricPrecision" font-size="9.9" text-anchor="middle" fill="#111" stroke="#111" stroke-width="0.4" font-weight="bold">590</text>
<text transform="translate(169.66,412.80) scale(0.9,1)" text-rendering="geometricPrecision" font-size="9.9" text-anchor="middle" fill="#111" stroke="#111" stroke-width="0.4" font-weight="bold">660</text>
<text transform="translate(211.48,412.80) scale(0.9,1)" text-rendering="geometricPrecision" font-size="9.9" text-anchor="middle" fill="#111" stroke="#111" stroke-width="0.4" font-weight="bold">730</text>
<text transform="translate(253.30,412.80) scale(0.9,1)" text-rendering="geometricPrecision" font-size="9.9" text-anchor="middle" fill="#111" stroke="#111" stroke-width="0.4" font-weight="bold">800</text>
<text x="97.90" y="427.00" font-size="12.7" text-anchor="start" fill="#111" stroke="#111" stroke-width="0.4" font-weight="bold" >Wavelength (nm)</text>
<text transform="translate(30.1,355.8) rotate(-90)" font-size="12.75" font-weight="bold" fill="#111" stroke="#111" stroke-width="0.4">Intensity (a.u.)</text>
<text x="18.00" y="237.80" font-size="14.5" text-anchor="start" fill="#111" stroke="#111" stroke-width="0.4" font-weight="bold" >c</text>
<g clip-path="url(#clipC)">
<polyline points="44.00,383.78 45.00,383.61 46.00,382.55 47.00,382.55 48.00,381.52 49.00,381.19 50.00,381.59 51.00,380.15 52.00,378.88 53.00,378.20 54.00,377.51 55.00,376.99 56.00,375.59 57.00,374.48 58.00,374.32 59.00,373.75 60.00,373.11 61.00,372.86 62.00,371.64 63.00,370.65 64.00,368.81 65.00,368.33 66.00,367.59 67.00,365.96 68.00,364.64 69.00,363.50 70.00,362.97 71.00,360.92 72.00,360.11 73.00,359.20 74.00,358.20 75.00,356.69 76.00,355.85 77.00,354.77 78.00,354.20 79.00,353.39 80.00,352.32 81.00,352.00 82.00,351.60 83.00,350.24 84.00,349.77 85.00,349.38 86.00,348.47 87.00,348.72 88.00,348.09 89.00,348.67 90.00,348.89 91.00,348.59 92.00,347.62 93.00,347.76 94.00,347.24 95.00,346.92 96.00,347.12 97.00,345.81 98.00,346.34 99.00,345.65 100.00,345.85 101.00,345.12 102.00,344.51 103.00,344.60 104.00,344.76 105.00,344.51 106.00,344.67 107.00,344.32 108.00,343.75 109.00,344.82 110.00,344.74 111.00,344.82 112.00,345.07 113.00,345.68 114.00,345.43 115.00,345.62 116.00,346.07 117.00,346.83 118.00,346.22 119.00,347.46 120.00,347.15 121.00,347.33 122.00,348.49 123.00,348.35 124.00,348.27 125.00,348.94 126.00,349.73 127.00,350.14 128.00,349.90 129.00,350.52 130.00,350.95 131.00,350.80 132.00,351.48 133.00,351.67 134.00,351.81 135.00,352.34 136.00,353.13 137.00,353.70 138.00,354.09 139.00,354.73 140.00,355.85 141.00,356.13 142.00,356.96 143.00,357.74 144.00,358.34 145.00,359.73 146.00,359.46 147.00,360.84 148.00,361.19 149.00,362.44 150.00,362.88 151.00,362.10 152.00,362.93 153.00,364.00 154.00,364.54 155.00,365.01 156.00,365.26 157.00,366.04 158.00,366.71 159.00,367.06 160.00,368.05 161.00,367.50 162.00,369.11 163.00,369.13 164.00,370.43 165.00,370.62 166.00,370.94 167.00,371.88 168.00,371.93 169.00,372.43 170.00,372.70 171.00,373.74 172.00,374.42 173.00,375.11 174.00,375.20 175.00,376.11 176.00,376.24 177.00,376.69 178.00,377.42 179.00,378.08 180.00,378.09 181.00,378.62 182.00,379.05 183.00,379.52 184.00,379.56 185.00,380.62 186.00,380.51 187.00,381.19 188.00,381.13 189.00,381.93 190.00,382.13 191.00,382.04 192.00,383.09 193.00,382.71 194.00,383.39 195.00,383.30 196.00,382.93 197.00,383.22 198.00,383.70 199.00,383.79 200.00,384.11 201.00,384.31 202.00,384.10 203.00,384.92 204.00,384.42 205.00,385.53 206.00,385.35 207.00,385.55 208.00,385.92 209.00,386.30 210.00,385.90 211.00,385.99 212.00,386.43 213.00,386.29 214.00,386.86 215.00,387.96 216.00,387.23 217.00,388.03 218.00,387.52 219.00,388.31 220.00,388.29 221.00,388.59 222.00,389.01 223.00,389.63 224.00,389.29 225.00,389.45 226.00,389.16 227.00,389.80 228.00,389.60 229.00,390.07 230.00,389.86 231.00,390.58 232.00,389.37 233.00,390.06 234.00,390.58 235.00,390.25 236.00,390.21 237.00,390.50 238.00,390.21 239.00,390.85 240.00,391.76 241.00,391.40 242.00,390.71 243.00,390.88 244.00,391.14 245.00,391.73 246.00,391.18 247.00,391.32 248.00,391.75 249.00,391.48 250.00,390.78 251.00,390.26 252.00,389.85 253.00,389.88" fill="none" stroke="#4d4d4d" stroke-width="1.2" stroke-linejoin="round" opacity="1.0"/>
<polyline points="44.00,386.82 45.00,387.03 46.00,385.72 47.00,385.28 48.00,384.93 49.00,383.86 50.00,382.13 51.00,381.18 52.00,379.62 53.00,377.29 54.00,375.56 55.00,374.19 56.00,371.87 57.00,370.58 58.00,366.86 59.00,364.95 60.00,362.88 61.00,360.54 62.00,358.59 63.00,356.97 64.00,355.14 65.00,353.95 66.00,351.14 67.00,350.23 68.00,348.32 69.00,346.95 70.00,345.32 71.00,343.27 72.00,341.70 73.00,340.54 74.00,337.83 75.00,334.32 76.00,332.12 77.00,329.06 78.00,324.59 79.00,322.05 80.00,320.25 81.00,317.32 82.00,314.79 83.00,312.32 84.00,309.87 85.00,307.81 86.00,305.67 87.00,304.09 88.00,301.67 89.00,300.87 90.00,300.14 91.00,300.08 92.00,297.69 93.00,295.44 94.00,293.36 95.00,290.42 96.00,287.70 97.00,284.89 98.00,282.02 99.00,279.62 100.00,277.23 101.00,275.27 102.00,272.29 103.00,271.30 104.00,269.51 105.00,267.90 106.00,266.66 107.00,265.26 108.00,266.06 109.00,266.25 110.00,267.40 111.00,265.23 112.00,263.20 113.00,262.24 114.00,261.47 115.00,261.84 116.00,261.90 117.00,261.61 118.00,261.20 119.00,261.69 120.00,262.87 121.00,262.21 122.00,261.85 123.00,261.97 124.00,262.21 125.00,261.84 126.00,261.54 127.00,261.72 128.00,261.91 129.00,261.59 130.00,261.19 131.00,261.33 132.00,260.74 133.00,261.68 134.00,262.73 135.00,264.52 136.00,264.53 137.00,266.03 138.00,267.27 139.00,268.53 140.00,269.35 141.00,269.41 142.00,269.89 143.00,270.50 144.00,272.34 145.00,274.43 146.00,275.85 147.00,277.09 148.00,279.07 149.00,280.96 150.00,282.88 151.00,285.46 152.00,288.55 153.00,290.97 154.00,292.45 155.00,293.92 156.00,293.08 157.00,294.23 158.00,294.93 159.00,296.33 160.00,297.91 161.00,299.91 162.00,301.66 163.00,303.37 164.00,304.76 165.00,307.39 166.00,309.16 167.00,311.29 168.00,313.57 169.00,315.68 170.00,317.72 171.00,319.20 172.00,321.65 173.00,323.64 174.00,325.40 175.00,327.26 176.00,328.49 177.00,330.25 178.00,332.50 179.00,333.75 180.00,336.33 181.00,338.09 182.00,340.16 183.00,341.68 184.00,343.95 185.00,346.24 186.00,348.54 187.00,350.55 188.00,351.97 189.00,353.68 190.00,355.21 191.00,357.39 192.00,358.91 193.00,360.88 194.00,362.95 195.00,363.99 196.00,364.71 197.00,366.17 198.00,367.19 199.00,368.51 200.00,370.62 201.00,371.48 202.00,371.87 203.00,373.63 204.00,374.84 205.00,375.27 206.00,376.16 207.00,377.28 208.00,378.25 209.00,379.12 210.00,380.06 211.00,380.82 212.00,381.56 213.00,382.38 214.00,382.63 215.00,382.36 216.00,383.35 217.00,384.01 218.00,384.27 219.00,385.22 220.00,385.28 221.00,385.59 222.00,386.93 223.00,387.17 224.00,387.52 225.00,388.26 226.00,388.68 227.00,388.79 228.00,388.18 229.00,389.17 230.00,389.61 231.00,389.78 232.00,390.44 233.00,391.04 234.00,390.71 235.00,390.73 236.00,392.08 237.00,391.48 238.00,391.59 239.00,392.49 240.00,392.94 241.00,392.92 242.00,393.83 243.00,393.75 244.00,393.85 245.00,394.49 246.00,394.94 247.00,394.70 248.00,395.29 249.00,395.33 250.00,395.94 251.00,394.30 252.00,394.63" fill="none" stroke="#e8393f" stroke-width="1.2" stroke-linejoin="round" opacity="1.0"/>
<polyline points="44.00,392.48 45.00,392.07 46.00,392.08 47.00,391.79 48.00,391.58 49.00,390.79 50.00,390.00 51.00,389.66 52.00,389.71 53.00,389.12 54.00,388.86 55.00,387.80 56.00,387.47 57.00,387.06 58.00,385.83 59.00,384.47 60.00,383.94 61.00,383.07 62.00,383.68 63.00,381.82 64.00,382.00 65.00,380.95 66.00,380.71 67.00,379.63 68.00,378.51 69.00,377.97 70.00,377.60 71.00,377.15 72.00,376.34 73.00,376.07 74.00,376.32 75.00,374.33 76.00,374.42 77.00,372.89 78.00,372.38 79.00,371.68 80.00,370.27 81.00,369.65 82.00,367.58 83.00,367.80 84.00,365.70 85.00,364.85 86.00,363.24 87.00,360.59 88.00,360.00 89.00,359.03 90.00,358.22 91.00,356.25 92.00,354.82 93.00,352.66 94.00,352.47 95.00,351.17 96.00,348.90 97.00,347.32 98.00,345.21 99.00,344.87 100.00,344.22 101.00,341.88 102.00,340.68 103.00,338.92 104.00,336.79 105.00,336.39 106.00,333.42 107.00,331.99 108.00,330.31 109.00,328.40 110.00,325.94 111.00,323.67 112.00,320.91 113.00,318.42 114.00,317.54 115.00,315.70 116.00,313.94 117.00,312.47 118.00,311.38 119.00,309.77 120.00,308.99 121.00,307.46 122.00,306.78 123.00,305.94 124.00,306.56 125.00,304.88 126.00,305.14 127.00,305.75 128.00,305.50 129.00,305.94 130.00,307.34 131.00,306.91 132.00,307.03 133.00,307.86 134.00,309.69 135.00,310.76 136.00,311.08 137.00,311.50 138.00,312.43 139.00,312.69 140.00,312.39 141.00,313.29 142.00,314.34 143.00,314.36 144.00,316.10 145.00,317.51 146.00,318.14 147.00,318.36 148.00,320.11 149.00,321.49 150.00,322.78 151.00,322.00 152.00,325.08 153.00,324.21 154.00,325.95 155.00,326.88 156.00,327.56 157.00,327.99 158.00,328.20 159.00,329.97 160.00,330.35 161.00,330.52 162.00,333.91 163.00,333.94 164.00,335.42 165.00,335.21 166.00,337.30 167.00,338.37 168.00,339.38 169.00,339.69 170.00,340.63 171.00,342.56 172.00,343.12 173.00,344.81 174.00,347.04 175.00,347.58 176.00,348.97 177.00,350.02 178.00,351.95 179.00,352.77 180.00,353.45 181.00,355.30 182.00,355.69 183.00,356.84 184.00,358.27 185.00,358.17 186.00,359.47 187.00,359.87 188.00,361.39 189.00,362.93 190.00,363.03 191.00,364.63 192.00,365.30 193.00,366.35 194.00,367.48 195.00,369.85 196.00,371.01 197.00,370.92 198.00,371.13 199.00,372.52 200.00,372.80 201.00,374.06 202.00,375.33 203.00,376.83 204.00,378.47 205.00,378.44 206.00,379.02 207.00,378.93 208.00,380.00 209.00,380.06 210.00,381.13 211.00,381.39 212.00,382.48 213.00,383.25 214.00,383.03 215.00,383.92 216.00,384.48 217.00,385.74 218.00,386.68 219.00,386.81 220.00,386.78 221.00,388.10 222.00,387.28 223.00,389.25 224.00,388.90 225.00,388.56 226.00,391.62 227.00,391.76 228.00,391.16 229.00,391.95 230.00,392.03 231.00,392.42 232.00,391.96 233.00,392.57 234.00,393.34 235.00,393.48 236.00,394.16 237.00,393.91 238.00,395.18 239.00,394.05 240.00,394.73 241.00,393.88 242.00,394.32 243.00,395.61 244.00,394.72 245.00,395.52 246.00,395.39 247.00,395.10 248.00,395.57 249.00,395.65 250.00,395.82 251.00,396.11 252.00,395.50 253.00,394.40" fill="none" stroke="#3565c0" stroke-width="1.2" stroke-linejoin="round" opacity="1.0"/>
<polyline points="44.00,385.36 45.00,385.67 46.00,385.05 47.00,385.33 48.00,385.91 49.00,384.42 50.00,383.50 51.00,383.02 52.00,382.21 53.00,381.79 54.00,381.33 55.00,381.30 56.00,380.88 57.00,381.27 58.00,380.28 59.00,380.09 60.00,379.18 61.00,380.59 62.00,379.60 63.00,380.06 64.00,379.16 65.00,379.27 66.00,377.92 67.00,378.20 68.00,379.08 69.00,376.43 70.00,377.57 71.00,377.59 72.00,376.52 73.00,376.43 74.00,376.44 75.00,374.97 76.00,375.33 77.00,374.25 78.00,374.07 79.00,373.81 80.00,373.80 81.00,373.67 82.00,373.55 83.00,372.09 84.00,373.87 85.00,373.06 86.00,372.48 87.00,371.51 88.00,371.36 89.00,371.45 90.00,371.05 91.00,369.46 92.00,370.65 93.00,371.68 94.00,368.45 95.00,369.89 96.00,369.20 97.00,368.62 98.00,369.43 99.00,367.76 100.00,368.49 101.00,369.19 102.00,368.06 103.00,367.82 104.00,368.04 105.00,367.57 106.00,368.67 107.00,367.02 108.00,367.99 109.00,366.55 110.00,367.60 111.00,367.04 112.00,365.54 113.00,367.16 114.00,366.54 115.00,366.95 116.00,368.20 117.00,366.59 118.00,366.65 119.00,368.19 120.00,367.37 121.00,368.25 122.00,367.50 123.00,366.76 124.00,367.26 125.00,368.10 126.00,368.02 127.00,367.54 128.00,367.68 129.00,367.68 130.00,367.49 131.00,369.14 132.00,368.11 133.00,367.61 134.00,368.21 135.00,369.16 136.00,369.31 137.00,369.03 138.00,368.91 139.00,369.48 140.00,368.53 141.00,368.86 142.00,370.26 143.00,369.57 144.00,370.20 145.00,370.82 146.00,370.61 147.00,370.37 148.00,371.81 149.00,371.06 150.00,370.58 151.00,371.38 152.00,371.30 153.00,370.65 154.00,371.35 155.00,371.32 156.00,370.34 157.00,371.57 158.00,371.63 159.00,371.65 160.00,371.12 161.00,372.24 162.00,372.77 163.00,373.19 164.00,372.75 165.00,374.17 166.00,373.37 167.00,374.31 168.00,375.58 169.00,374.68 170.00,375.12 171.00,376.43 172.00,375.81 173.00,376.11 174.00,376.67 175.00,377.42 176.00,375.66 177.00,376.75 178.00,376.89 179.00,377.08 180.00,377.60 181.00,378.02 182.00,379.13 183.00,378.80 184.00,379.83 185.00,380.41 186.00,380.13 187.00,381.06 188.00,382.40 189.00,382.00 190.00,381.67 191.00,382.29 192.00,382.04 193.00,383.03 194.00,383.66 195.00,382.90 196.00,383.27 197.00,384.08 198.00,383.09 199.00,383.52 200.00,382.77 201.00,382.90 202.00,383.09 203.00,384.81 204.00,383.45 205.00,383.58 206.00,383.76 207.00,384.20 208.00,384.89 209.00,384.81 210.00,386.13 211.00,385.13 212.00,385.98 213.00,385.39 214.00,385.69 215.00,384.57 216.00,385.46 217.00,385.61 218.00,385.39 219.00,383.91 220.00,385.40 221.00,384.30 222.00,383.94 223.00,384.16 224.00,384.30 225.00,384.79 226.00,383.90 227.00,384.22 228.00,385.07 229.00,385.24 230.00,385.17 231.00,385.31 232.00,385.40 233.00,386.11 234.00,387.11 235.00,385.77 236.00,387.31 237.00,386.91 238.00,386.13 239.00,386.87 240.00,385.52 241.00,385.50 242.00,385.90 243.00,386.56 244.00,386.75 245.00,386.77 246.00,387.27 247.00,386.03 248.00,387.70 249.00,386.65 250.00,387.20 251.00,387.45 252.00,387.10 253.00,387.07" fill="none" stroke="#36a36a" stroke-width="1.2" stroke-linejoin="round" opacity="1.0"/>
</g>
<text x="110.00" y="256.90" font-size="9.6" text-anchor="start" fill="#e63a40" stroke="#e63a40" stroke-width="0.4" font-weight="bold" >ZIS</text>
<text x="117.40" y="300.00" font-size="9.6" text-anchor="start" fill="#2f5fc4" stroke="#2f5fc4" stroke-width="0.4" font-weight="bold" >ZCIS</text>
<text x="119.30" y="341.10" font-size="9.6" text-anchor="start" fill="#333" stroke="#333" stroke-width="0.4" font-weight="bold" >CeO<tspan font-size="6.2" dy="3">2</tspan></text>
<text x="103.10" y="381.90" font-size="9.6" text-anchor="start" fill="#2c9e62" stroke="#2c9e62" stroke-width="0.4" font-weight="bold" >CeO<tspan font-size="6.2" dy="3">2</tspan><tspan dy="-3">/ZCIS</tspan></text>
<rect x="305.60" y="231.30" width="209.40" height="171.70" fill="none" stroke="#1a1a1a" stroke-width="1.2"/>
<line x1="305.40" y1="403.00" x2="305.40" y2="400.00" stroke="#1a1a1a" stroke-width="1"/>
<line x1="357.62" y1="403.00" x2="357.62" y2="400.00" stroke="#1a1a1a" stroke-width="1"/>
<line x1="409.85" y1="403.00" x2="409.85" y2="400.00" stroke="#1a1a1a" stroke-width="1"/>
<line x1="462.07" y1="403.00" x2="462.07" y2="400.00" stroke="#1a1a1a" stroke-width="1"/>
<line x1="514.30" y1="403.00" x2="514.30" y2="400.00" stroke="#1a1a1a" stroke-width="1"/>
<line x1="331.51" y1="403.00" x2="331.51" y2="401.00" stroke="#1a1a1a" stroke-width="1"/>
<line x1="383.74" y1="403.00" x2="383.74" y2="401.00" stroke="#1a1a1a" stroke-width="1"/>
<line x1="435.96" y1="403.00" x2="435.96" y2="401.00" stroke="#1a1a1a" stroke-width="1"/>
<line x1="488.19" y1="403.00" x2="488.19" y2="401.00" stroke="#1a1a1a" stroke-width="1"/>
<line x1="305.60" y1="389.90" x2="308.60" y2="389.90" stroke="#1a1a1a" stroke-width="1"/>
<line x1="305.60" y1="363.24" x2="308.60" y2="363.24" stroke="#1a1a1a" stroke-width="1"/>
<line x1="305.60" y1="336.58" x2="308.60" y2="336.58" stroke="#1a1a1a" stroke-width="1"/>
<line x1="305.60" y1="309.92" x2="308.60" y2="309.92" stroke="#1a1a1a" stroke-width="1"/>
<line x1="305.60" y1="283.26" x2="308.60" y2="283.26" stroke="#1a1a1a" stroke-width="1"/>
<line x1="305.60" y1="256.60" x2="308.60" y2="256.60" stroke="#1a1a1a" stroke-width="1"/>
<line x1="305.60" y1="376.57" x2="307.60" y2="376.57" stroke="#1a1a1a" stroke-width="1"/>
<line x1="305.60" y1="349.91" x2="307.60" y2="349.91" stroke="#1a1a1a" stroke-width="1"/>
<line x1="305.60" y1="323.25" x2="307.60" y2="323.25" stroke="#1a1a1a" stroke-width="1"/>
<line x1="305.60" y1="296.59" x2="307.60" y2="296.59" stroke="#1a1a1a" stroke-width="1"/>
<line x1="305.60" y1="269.93" x2="307.60" y2="269.93" stroke="#1a1a1a" stroke-width="1"/>
<line x1="305.60" y1="243.27" x2="307.60" y2="243.27" stroke="#1a1a1a" stroke-width="1"/>
<text transform="translate(305.40,412.80) scale(0.9,1)" text-rendering="geometricPrecision" font-size="9.9" text-anchor="middle" fill="#111" stroke="#111" stroke-width="0.4" font-weight="bold">0</text>
<text transform="translate(357.62,412.80) scale(0.9,1)" text-rendering="geometricPrecision" font-size="9.9" text-anchor="middle" fill="#111" stroke="#111" stroke-width="0.4" font-weight="bold">50</text>
<text transform="translate(409.85,412.80) scale(0.9,1)" text-rendering="geometricPrecision" font-size="9.9" text-anchor="middle" fill="#111" stroke="#111" stroke-width="0.4" font-weight="bold">100</text>
<text transform="translate(462.07,412.80) scale(0.9,1)" text-rendering="geometricPrecision" font-size="9.9" text-anchor="middle" fill="#111" stroke="#111" stroke-width="0.4" font-weight="bold">150</text>
<text transform="translate(514.30,412.80) scale(0.9,1)" text-rendering="geometricPrecision" font-size="9.9" text-anchor="middle" fill="#111" stroke="#111" stroke-width="0.4" font-weight="bold">200</text>
<text transform="translate(302.70,393.10) scale(0.9,1)" text-rendering="geometricPrecision" font-size="9.9" text-anchor="end" fill="#111" stroke="#111" stroke-width="0.4" font-weight="bold">0.0</text>
<text transform="translate(302.70,366.44) scale(0.9,1)" text-rendering="geometricPrecision" font-size="9.9" text-anchor="end" fill="#111" stroke="#111" stroke-width="0.4" font-weight="bold">0.2</text>
<text transform="translate(302.70,339.78) scale(0.9,1)" text-rendering="geometricPrecision" font-size="9.9" text-anchor="end" fill="#111" stroke="#111" stroke-width="0.4" font-weight="bold">0.4</text>
<text transform="translate(302.70,313.12) scale(0.9,1)" text-rendering="geometricPrecision" font-size="9.9" text-anchor="end" fill="#111" stroke="#111" stroke-width="0.4" font-weight="bold">0.6</text>
<text transform="translate(302.70,286.46) scale(0.9,1)" text-rendering="geometricPrecision" font-size="9.9" text-anchor="end" fill="#111" stroke="#111" stroke-width="0.4" font-weight="bold">0.8</text>
<text transform="translate(302.70,259.80) scale(0.9,1)" text-rendering="geometricPrecision" font-size="9.9" text-anchor="end" fill="#111" stroke="#111" stroke-width="0.4" font-weight="bold">1.0</text>
<text x="381.3" y="427.3" font-size="12.3" font-weight="bold" fill="#111" stroke="#111" stroke-width="0.4" xml:space="preserve">Time  (ns)</text>
<text transform="translate(282.9,353.6) rotate(-90)" font-size="12.7" font-weight="bold" fill="#111" stroke="#111" stroke-width="0.4">Intenstity (a.u.)</text>
<text x="270.00" y="238.10" font-size="14.5" text-anchor="start" fill="#111" stroke="#111" stroke-width="0.4" font-weight="bold" >d</text>
<g clip-path="url(#clipD)">
<polyline points="305.40,395.93 305.50,389.97 305.61,386.36 305.71,386.52 305.82,395.87 305.92,394.65 306.03,395.42 306.13,387.20 306.24,402.12 306.34,382.47 306.44,392.81 306.55,394.60 306.65,387.86 306.76,377.51 306.86,385.79 306.97,383.59 307.07,389.09 307.18,382.52 307.28,382.43 307.38,390.50 307.49,381.27 307.59,388.91 307.70,389.38 307.80,395.43 307.91,391.63 308.01,385.24 308.12,397.77 308.22,386.00 308.32,387.81 308.43,388.24 308.53,403.14 308.64,390.52 308.74,386.01 308.85,394.48 308.95,389.36 309.06,404.16 309.16,385.87 309.26,393.87 309.37,384.67 309.47,400.95 309.58,385.75 309.68,391.32 309.79,385.06 309.89,395.45 310.00,393.61 310.10,376.45 310.20,394.88 310.31,394.14 310.41,391.56 310.52,396.03 310.62,382.76 310.73,379.55 310.83,394.12 310.94,400.25 311.04,382.87 311.14,383.25 311.25,384.97 311.35,382.96 311.46,395.10 311.56,390.91 311.67,398.20 311.77,398.41 311.88,384.01 311.98,393.93 312.08,376.23 312.19,389.46 312.29,393.74 312.40,385.11 312.50,379.10 312.61,386.98 312.71,397.20 312.82,387.67 312.92,381.65 313.02,392.86 313.13,399.18 313.23,383.80 313.34,389.06 313.44,403.13 313.55,392.18 313.65,398.97 313.76,388.12 313.86,389.24 313.96,383.00 314.07,385.64 314.17,399.28 314.28,387.46 314.38,379.14 314.49,387.17 314.59,383.72 314.70,393.20 314.80,395.60 314.90,384.32 315.01,396.29 315.11,402.85 315.22,383.75 315.32,394.24 315.43,391.74 315.53,398.29 315.64,397.85 315.74,403.78 315.84,392.06 315.95,385.46 316.05,403.68 316.16,380.88 316.26,396.99 316.37,396.30 316.47,385.83 316.58,390.35 316.68,399.12 316.79,378.84 316.89,395.06 316.99,388.42 317.10,388.70 317.20,381.43 317.31,392.63 317.41,377.81 317.52,394.35 317.62,376.44 317.73,394.48 317.83,392.07 317.93,378.53 318.04,388.00 318.14,389.24 318.25,376.45 318.35,387.73 318.46,394.80 318.56,385.49 318.67,396.99 318.77,383.13 318.87,382.67 318.98,393.34 319.08,393.67 319.19,388.84 319.29,389.73 319.40,401.63 319.50,386.49 319.61,402.15 319.71,395.09 319.81,394.75 319.92,393.18 320.02,388.06 320.13,397.27 320.23,386.37 320.34,390.98 320.44,397.70 320.55,398.10 320.65,397.00 320.75,387.74 320.86,395.68 320.96,389.51 321.07,383.53 321.17,377.51 321.28,380.54 321.38,391.68 321.49,396.41 321.59,383.78 321.69,388.04 321.80,383.16 321.90,389.83 322.01,382.73 322.11,384.82 322.22,385.60 322.32,386.88 322.43,385.13 322.53,388.50 322.63,388.54 322.74,383.96 322.84,392.97 322.95,379.49 323.05,390.54 323.16,383.99 323.26,390.44 323.37,391.38 323.47,377.71 323.57,391.76 323.68,397.56 323.78,394.18 323.89,391.80 323.99,376.97 324.10,388.66 324.20,384.29 324.31,395.91 324.41,387.78 324.51,385.87 324.62,379.09 324.72,394.08 324.83,386.28 324.93,388.08 325.04,396.03 325.14,390.02 325.25,391.48 325.35,403.85 325.45,386.31 325.56,386.66 325.66,392.53 325.77,397.93 325.87,381.02 325.98,388.30 326.08,383.80 326.19,381.44 326.29,393.02 326.39,385.03 326.50,391.35 326.60,390.28 326.71,390.41 326.81,389.91 326.92,276.70 327.02,281.15 327.13,282.91 327.23,284.08 327.33,282.47 327.44,287.77 327.54,286.97 327.65,285.94 327.75,288.50 327.86,287.45 327.96,289.90 328.07,280.74 328.17,283.84 328.27,287.70 328.38,290.14 328.48,282.32 328.59,289.83 328.69,291.89 328.80,290.96 328.90,291.46 329.01,287.84 329.11,293.67 329.21,286.24 329.32,297.85 329.42,292.43 329.53,299.22 329.63,289.15 329.74,297.61 329.84,297.03 329.95,293.80 330.05,292.99 330.15,302.24 330.26,299.79 330.36,304.11 330.47,298.79 330.57,300.07 330.68,301.38 330.78,303.02 330.89,302.28 330.99,304.00 331.09,299.60 331.20,296.28 331.30,309.50 331.41,303.08 331.51,304.55 331.62,301.50 331.72,307.22 331.83,304.55 331.93,308.22 332.03,302.06 332.14,304.61 332.24,305.90 332.35,304.23 332.45,306.85 332.56,312.03 332.66,302.09 332.77,305.76 332.87,307.71 332.97,303.76 333.08,303.17 333.18,312.09 333.29,311.21 333.39,302.80 333.50,303.56 333.60,311.89 333.71,313.82 333.81,312.06 333.91,311.81 334.02,316.13 334.12,310.25 334.23,315.52 334.33,320.03 334.44,307.83 334.54,314.06 334.65,312.03 334.75,309.66 334.85,309.22 334.96,313.76 335.06,312.58 335.17,316.07 335.27,306.70 335.38,311.04 335.48,317.81 335.59,313.92 335.69,311.50 335.79,310.81 335.90,307.79 336.00,309.72 336.11,317.08 336.21,315.62 336.32,320.29 336.42,314.80 336.53,315.38 336.63,306.07 336.73,316.01 336.84,324.40 336.94,319.31 337.05,316.17 337.15,321.90 337.26,320.66 337.36,318.99 337.47,316.55 337.57,318.65 337.68,321.55 337.78,315.49 337.88,320.64 337.99,320.68 338.09,329.31 338.20,322.14 338.30,316.97 338.41,325.63 338.51,320.04 338.62,314.61 338.72,322.97 338.82,319.44 338.93,324.69 339.03,315.81 339.14,312.67 339.24,320.19 339.35,327.80 339.45,325.33 339.56,317.96 339.66,315.38 339.76,320.84 339.87,312.81 339.97,324.56 340.08,323.88 340.18,322.63 340.29,321.23 340.39,328.68 340.50,319.63 340.60,318.37 340.70,327.76 340.81,328.69 340.91,322.49 341.02,326.40 341.12,332.97 341.23,321.26 341.33,323.86 341.44,326.37 341.54,316.86 341.64,324.39 341.75,327.87 341.85,324.84 341.96,333.13 342.06,328.36 342.17,324.23 342.27,329.95 342.38,327.65 342.48,319.89 342.58,323.05 342.69,323.41 342.79,324.58 342.90,324.89 343.00,321.40 343.11,327.06 343.21,320.20 343.32,330.82 343.42,328.36 343.52,332.69 343.63,330.25 343.73,325.89 343.84,322.54 343.94,330.57 344.05,328.21 344.15,329.70 344.26,331.25 344.36,333.07 344.46,328.53 344.57,335.36 344.67,328.20 344.78,329.07 344.88,331.74 344.99,333.18 345.09,334.70 345.20,322.68 345.30,334.80 345.40,318.29 345.51,327.80 345.61,331.52 345.72,334.60 345.82,322.62 345.93,324.07 346.03,334.13 346.14,331.88 346.24,326.96 346.34,329.75 346.45,323.66 346.55,333.37 346.66,329.33 346.76,336.14 346.87,323.77 346.97,334.43 347.08,340.06 347.18,332.40 347.28,332.56 347.39,325.01 347.49,333.53 347.60,332.43 347.70,328.06 347.81,326.68 347.91,332.94 348.02,328.94 348.12,330.99 348.22,334.14 348.33,332.85 348.43,333.13 348.54,336.77 348.64,328.92 348.75,338.73 348.85,329.29 348.96,326.64 349.06,334.56 349.16,336.82 349.27,334.91 349.37,332.40 349.48,331.49 349.58,333.30 349.69,330.76 349.79,336.64 349.90,333.79 350.00,340.61 350.10,329.16 350.21,334.38 350.31,336.60 350.42,330.81 350.52,332.66 350.63,345.84 350.73,335.28 350.84,340.95 350.94,331.63 351.04,326.41 351.15,337.73 351.25,335.61 351.36,336.91 351.46,334.76 351.57,331.34 351.67,331.44 351.78,343.70 351.88,324.69 351.98,339.98 352.09,335.56 352.19,332.36 352.30,334.11 352.40,340.36 352.51,339.56 352.61,340.47 352.72,337.30 352.82,332.91 352.92,342.10 353.03,335.62 353.13,332.89 353.24,335.44 353.34,335.86 353.45,332.02 353.55,335.95 353.66,331.45 353.76,335.82 353.86,331.31 353.97,345.18 354.07,328.59 354.18,339.22 354.28,339.37 354.39,345.63 354.49,345.45 354.60,339.98 354.70,343.76 354.80,336.86 354.91,344.27 355.01,333.51 355.12,337.91 355.22,339.93 355.33,341.72 355.43,342.09 355.54,343.44 355.64,341.33 355.74,339.34 355.85,340.10 355.95,350.07 356.06,340.57 356.16,342.99 356.27,339.13 356.37,332.83 356.48,337.53 356.58,341.10 356.68,346.06 356.79,345.35 356.89,346.43 357.00,337.50 357.10,343.13 357.21,340.11 357.31,342.73 357.42,340.13 357.52,335.31 357.62,343.16 357.73,341.94 357.83,343.75 357.94,337.54 358.04,344.69 358.15,345.16 358.25,346.17 358.36,346.31 358.46,339.36 358.57,331.59 358.67,344.96 358.77,337.76 358.88,340.43 358.98,345.55 359.09,343.56 359.19,342.42 359.30,344.19 359.40,334.47 359.51,348.85 359.61,340.37 359.71,340.62 359.82,344.08 359.92,341.42 360.03,338.76 360.13,341.52 360.24,340.59 360.34,339.62 360.45,349.85 360.55,336.81 360.65,333.88 360.76,338.78 360.86,338.71 360.97,347.81 361.07,343.05 361.18,345.69 361.28,344.91 361.39,339.16 361.49,345.83 361.59,343.37 361.70,350.06 361.80,343.58 361.91,342.71 362.01,345.73 362.12,345.84 362.22,336.16 362.33,347.77 362.43,347.23 362.53,346.38 362.64,338.94 362.74,335.62 362.85,342.28 362.95,346.25 363.06,345.22 363.16,339.70 363.27,347.12 363.37,338.35 363.47,338.54 363.58,343.61 363.68,341.51 363.79,341.17 363.89,338.22 364.00,351.92 364.10,339.71 364.21,345.57 364.31,347.08 364.41,343.88 364.52,345.11 364.62,348.05 364.73,350.37 364.83,347.97 364.94,339.08 365.04,337.22 365.15,342.17 365.25,340.22 365.35,346.62 365.46,345.31 365.56,343.72 365.67,352.90 365.77,348.57 365.88,344.55 365.98,346.16 366.09,348.98 366.19,342.17 366.29,346.08 366.40,341.33 366.50,345.20 366.61,347.47 366.71,344.80 366.82,345.96 366.92,347.85 367.03,346.90 367.13,342.65 367.23,343.07 367.34,340.73 367.44,351.89 367.55,347.08 367.65,347.20 367.76,345.06 367.86,349.12 367.97,347.70 368.07,342.90 368.17,345.20 368.28,350.26 368.38,340.97 368.49,342.27 368.59,348.17 368.70,342.96 368.80,348.85 368.91,341.95 369.01,347.00 369.11,349.22 369.22,347.66 369.32,349.16 369.43,345.63 369.53,345.73 369.64,346.16 369.74,348.54 369.85,360.16 369.95,346.19 370.05,353.65 370.16,345.70 370.26,338.21 370.37,345.67 370.47,348.18 370.58,347.44 370.68,347.80 370.79,350.94 370.89,349.06 370.99,350.36 371.10,342.52 371.20,347.05 371.31,343.45 371.41,347.99 371.52,346.56 371.62,347.77 371.73,345.44 371.83,344.12 371.93,346.34 372.04,349.79 372.14,350.22 372.25,341.15 372.35,348.43 372.46,348.50 372.56,336.51 372.67,343.42 372.77,345.53 372.87,349.04 372.98,330.02 373.08,346.15 373.19,343.57 373.29,348.33 373.40,353.00 373.50,357.72 373.61,346.27 373.71,346.36 373.81,348.75 373.92,352.26 374.02,353.30 374.13,349.18 374.23,353.42 374.34,344.67 374.44,343.75 374.55,337.53 374.65,344.84 374.75,350.36 374.86,351.44 374.96,361.10 375.07,350.47 375.17,348.94 375.28,344.70 375.38,346.06 375.49,346.18 375.59,347.61 375.69,345.97 375.80,343.06 375.90,352.47 376.01,350.23 376.11,353.74 376.22,342.55 376.32,343.78 376.43,345.84 376.53,353.15 376.63,348.07 376.74,349.62 376.84,348.47 376.95,349.50 377.05,346.89 377.16,350.33 377.26,345.70 377.37,348.02 377.47,350.04 377.57,349.40 377.68,350.65 377.78,342.96 377.89,350.08 377.99,347.99 378.10,352.05 378.20,360.24 378.31,345.80 378.41,353.16 378.51,346.70 378.62,347.70 378.72,355.48 378.83,352.85 378.93,351.27 379.04,352.44 379.14,353.82 379.25,343.91 379.35,350.36 379.46,348.05 379.56,352.73 379.66,348.40 379.77,352.38 379.87,349.70 379.98,347.45 380.08,349.49 380.19,351.39 380.29,353.76 380.40,348.48 380.50,347.19 380.60,350.75 380.71,355.56 380.81,347.82 380.92,340.60 381.02,351.02 381.13,348.66 381.23,348.54 381.34,359.55 381.44,349.54 381.54,352.66 381.65,344.88 381.75,351.02 381.86,353.00 381.96,350.94 382.07,349.53 382.17,352.27 382.28,350.40 382.38,355.28 382.48,351.94 382.59,347.38 382.69,342.96 382.80,345.06 382.90,349.34 383.01,345.96 383.11,346.60 383.22,344.22 383.32,346.41 383.42,350.92 383.53,349.54 383.63,349.86 383.74,349.43 383.84,349.83 383.95,353.52 384.05,358.48 384.16,353.16 384.26,358.24 384.36,350.44 384.47,350.71 384.57,357.00 384.68,348.20 384.78,347.56 384.89,350.46 384.99,344.62 385.10,343.88 385.20,355.39 385.30,347.04 385.41,349.29 385.51,349.40 385.62,347.49 385.72,353.69 385.83,355.45 385.93,354.14 386.04,353.89 386.14,351.47 386.24,356.54 386.35,355.05 386.45,349.01 386.56,351.45 386.66,349.78 386.77,358.29 386.87,354.18 386.98,353.35 387.08,351.18 387.18,353.51 387.29,347.86 387.39,351.80 387.50,351.33 387.60,351.36 387.71,348.79 387.81,353.22 387.92,347.29 388.02,349.78 388.12,350.95 388.23,351.39 388.33,349.63 388.44,347.80 388.54,348.08 388.65,350.23 388.75,348.38 388.86,351.23 388.96,347.02 389.06,351.82 389.17,359.49 389.27,346.77 389.38,351.38 389.48,356.18 389.59,352.57 389.69,355.15 389.80,344.03 389.90,348.17 390.00,363.62 390.11,349.89 390.21,353.44 390.32,344.82 390.42,355.92 390.53,360.40 390.63,351.79 390.74,353.36 390.84,353.63 390.94,360.09 391.05,350.53 391.15,345.89 391.26,359.28 391.36,347.81 391.47,354.32 391.57,343.45 391.68,350.61 391.78,352.96 391.88,348.16 391.99,350.34 392.09,354.53 392.20,349.69 392.30,354.27 392.41,359.06 392.51,344.82 392.62,353.73 392.72,354.71 392.82,351.20 392.93,358.30 393.03,357.55 393.14,354.39 393.24,354.48 393.35,352.29 393.45,348.39 393.56,354.37 393.66,350.78 393.76,350.39 393.87,360.75 393.97,351.82 394.08,356.22 394.18,348.75 394.29,351.04 394.39,352.69 394.50,357.77 394.60,352.36 394.70,355.68 394.81,350.20 394.91,353.30 395.02,355.90 395.12,349.43 395.23,350.21 395.33,355.14 395.44,348.61 395.54,354.08 395.64,354.14 395.75,352.54 395.85,355.83 395.96,354.69 396.06,354.26 396.17,341.65 396.27,347.50 396.38,354.08 396.48,347.12 396.58,353.47 396.69,351.75 396.79,349.89 396.90,352.12 397.00,344.21 397.11,352.34 397.21,357.73 397.32,348.41 397.42,354.84 397.52,354.45 397.63,364.50 397.73,349.62 397.84,350.32 397.94,350.41 398.05,349.76 398.15,347.11 398.26,353.62 398.36,349.96 398.46,356.26 398.57,356.14 398.67,349.57 398.78,352.07 398.88,358.53 398.99,350.87 399.09,354.27 399.20,356.66 399.30,352.00 399.40,355.15 399.51,359.52 399.61,357.82 399.72,347.09 399.82,359.37 399.93,352.90 400.03,351.47 400.14,351.38 400.24,358.35 400.35,355.00 400.45,353.29 400.55,350.85 400.66,356.26 400.76,358.21 400.87,350.14 400.97,349.78 401.08,352.54 401.18,356.21 401.29,352.44 401.39,353.56 401.49,350.86 401.60,358.67 401.70,353.59 401.81,354.63 401.91,362.34 402.02,353.27 402.12,353.96 402.23,357.17 402.33,352.65 402.43,359.44 402.54,354.36 402.64,352.57 402.75,353.13 402.85,350.19 402.96,358.71 403.06,359.87 403.17,353.37 403.27,352.58 403.37,346.38 403.48,352.01 403.58,357.59 403.69,348.33 403.79,360.67 403.90,359.92 404.00,344.66 404.11,353.19 404.21,351.76 404.31,352.34 404.42,347.70 404.52,353.42 404.63,349.95 404.73,358.34 404.84,364.92 404.94,349.22 405.05,343.55 405.15,352.67 405.25,353.75 405.36,353.99 405.46,357.19 405.57,348.90 405.67,349.74 405.78,352.78 405.88,353.28 405.99,350.79 406.09,352.84 406.19,351.96 406.30,359.12 406.40,352.87 406.51,346.62 406.61,356.74 406.72,355.30 406.82,351.50 406.93,351.28 407.03,352.53 407.13,360.92 407.24,353.02 407.34,359.33 407.45,358.01 407.55,352.90 407.66,356.07 407.76,348.93 407.87,343.24 407.97,352.11 408.07,352.33 408.18,358.38 408.28,357.46 408.39,359.04 408.49,359.06 408.60,359.18 408.70,357.58 408.81,355.91 408.91,358.88 409.01,360.46 409.12,360.26 409.22,353.50 409.33,354.99 409.43,351.40 409.54,351.35 409.64,356.53 409.75,352.77 409.85,360.67 409.95,346.78 410.06,350.86 410.16,356.14 410.27,359.69 410.37,353.95 410.48,362.36 410.58,358.31 410.69,352.62 410.79,355.15 410.89,357.28 411.00,351.91 411.10,359.35 411.21,354.43 411.31,357.36 411.42,358.68 411.52,353.81 411.63,359.26 411.73,348.47 411.83,357.76 411.94,348.17 412.04,359.69 412.15,353.37 412.25,360.12 412.36,365.67 412.46,355.08 412.57,353.16 412.67,360.46 412.77,351.30 412.88,358.71 412.98,355.26 413.09,354.34 413.19,353.56 413.30,362.50 413.40,349.77 413.51,353.73 413.61,357.43 413.71,359.67 413.82,362.19 413.92,360.96 414.03,353.86 414.13,357.18 414.24,360.15 414.34,357.91 414.45,350.12 414.55,357.20 414.65,358.17 414.76,350.96 414.86,354.29 414.97,355.86 415.07,358.31 415.18,361.85 415.28,364.81 415.39,357.88 415.49,356.92 415.59,354.79 415.70,354.07 415.80,354.48 415.91,355.34 416.01,359.94 416.12,364.23 416.22,358.15 416.33,359.78 416.43,358.67 416.53,357.27 416.64,360.91 416.74,360.42 416.85,356.67 416.95,355.88 417.06,358.77 417.16,354.48 417.27,357.17 417.37,360.17 417.47,356.23 417.58,349.37 417.68,358.93 417.79,352.07 417.89,351.29 418.00,345.27 418.10,359.54 418.21,348.96 418.31,356.06 418.41,357.46 418.52,357.38 418.62,354.29 418.73,356.36 418.83,357.23 418.94,351.79 419.04,359.29 419.15,360.50 419.25,353.66 419.35,354.01 419.46,348.48 419.56,360.67 419.67,352.64 419.77,354.89 419.88,350.13 419.98,366.04 420.09,355.92 420.19,357.79 420.29,362.70 420.40,359.45 420.50,348.38 420.61,358.56 420.71,359.52 420.82,353.59 420.92,353.16 421.03,353.18 421.13,359.82 421.24,357.11 421.34,353.06 421.44,359.37 421.55,359.73 421.65,353.86 421.76,351.13 421.86,361.27 421.97,366.68 422.07,362.42 422.18,360.80 422.28,357.54 422.38,354.75 422.49,357.60 422.59,362.30 422.70,356.51 422.80,360.69 422.91,357.29 423.01,359.52 423.12,347.14 423.22,354.11 423.32,360.29 423.43,360.90 423.53,358.83 423.64,363.35 423.74,359.95 423.85,359.99 423.95,350.65 424.06,358.86 424.16,360.23 424.26,362.30 424.37,361.70 424.47,357.81 424.58,358.14 424.68,353.11 424.79,359.71 424.89,353.42 425.00,356.43 425.10,357.42 425.20,364.91 425.31,362.24 425.41,351.91 425.52,352.24 425.62,356.70 425.73,354.64 425.83,359.02 425.94,358.90 426.04,360.00 426.14,353.90 426.25,356.27 426.35,358.44 426.46,358.80 426.56,355.51 426.67,356.40 426.77,360.72 426.88,351.23 426.98,356.69 427.08,357.62 427.19,352.16 427.29,353.86 427.40,358.03 427.50,355.71 427.61,361.72 427.71,360.13 427.82,366.19 427.92,353.21 428.02,364.86 428.13,355.25 428.23,360.91 428.34,361.47 428.44,358.56 428.55,356.85 428.65,355.57 428.76,351.26 428.86,355.21 428.96,351.32 429.07,360.15 429.17,355.26 429.28,357.37 429.38,359.68 429.49,358.32 429.59,358.21 429.70,357.28 429.80,356.51 429.90,361.82 430.01,360.80 430.11,355.25 430.22,370.72 430.32,360.38 430.43,352.29 430.53,368.20 430.64,360.70 430.74,355.56 430.84,364.30 430.95,348.45 431.05,367.82 431.16,352.81 431.26,352.38 431.37,354.78 431.47,359.04 431.58,356.90 431.68,361.59 431.78,355.23 431.89,362.45 431.99,359.30 432.10,354.58 432.20,366.63 432.31,361.04 432.41,357.72 432.52,363.35 432.62,354.01 432.72,357.10 432.83,364.04 432.93,358.57 433.04,361.30 433.14,360.88 433.25,358.15 433.35,361.10 433.46,354.86 433.56,361.11 433.66,354.82 433.77,358.66 433.87,355.32 433.98,360.55 434.08,360.43 434.19,362.85 434.29,356.41 434.40,355.08 434.50,350.68 434.60,353.79 434.71,357.69 434.81,359.42 434.92,357.19 435.02,358.76 435.13,353.21 435.23,355.16 435.34,361.82 435.44,361.27 435.54,353.62 435.65,357.58 435.75,359.61 435.86,354.33 435.96,360.22 436.07,359.83 436.17,360.52 436.28,366.13 436.38,355.60 436.48,363.35 436.59,360.97 436.69,361.64 436.80,356.16 436.90,359.14 437.01,358.84 437.11,365.18 437.22,359.25 437.32,364.45 437.42,356.66 437.53,357.59 437.63,359.04 437.74,351.36 437.84,357.03 437.95,354.56 438.05,358.49 438.16,359.76 438.26,355.45 438.36,354.95 438.47,368.79 438.57,355.15 438.68,357.18 438.78,355.53 438.89,357.39 438.99,363.78 439.10,363.53 439.20,352.35 439.30,358.23 439.41,364.48 439.51,357.90 439.62,360.57 439.72,366.11 439.83,367.79 439.93,365.23 440.04,358.25 440.14,359.46 440.24,360.22 440.35,358.24 440.45,357.07 440.56,367.17 440.66,360.46 440.77,362.44 440.87,363.97 440.98,361.42 441.08,359.85 441.18,360.39 441.29,364.84 441.39,361.23 441.50,351.91 441.60,367.32 441.71,365.76 441.81,358.45 441.92,357.26 442.02,357.77 442.13,363.69 442.23,355.80 442.33,362.47 442.44,363.79 442.54,361.83 442.65,360.39 442.75,356.92 442.86,357.27 442.96,359.69 443.07,356.14 443.17,359.33 443.27,356.30 443.38,364.90 443.48,365.55 443.59,356.79 443.69,364.89 443.80,360.83 443.90,360.09 444.01,361.55 444.11,363.13 444.21,354.56 444.32,369.21 444.42,356.48 444.53,351.23 444.63,359.72 444.74,359.89 444.84,357.12 444.95,353.02 445.05,364.29 445.15,359.54 445.26,360.58 445.36,357.80 445.47,359.31 445.57,354.99 445.68,361.50 445.78,359.76 445.89,362.46 445.99,362.44 446.09,360.51 446.20,361.05 446.30,364.38 446.41,354.15 446.51,360.53 446.62,365.20 446.72,355.94 446.83,365.65 446.93,358.18 447.03,360.15 447.14,359.16 447.24,359.47 447.35,362.27 447.45,359.98 447.56,352.56 447.66,368.51 447.77,359.92 447.87,358.56 447.97,364.12 448.08,365.32 448.18,352.16 448.29,361.62 448.39,352.48 448.50,358.26 448.60,359.70 448.71,358.50 448.81,355.55 448.91,355.90 449.02,358.69 449.12,359.79 449.23,359.02 449.33,355.30 449.44,357.31 449.54,367.85 449.65,362.76 449.75,359.16 449.85,362.74 449.96,361.83 450.06,367.57 450.17,361.42 450.27,358.88 450.38,353.04 450.48,360.45 450.59,352.75 450.69,360.79 450.79,348.60 450.90,356.79 451.00,358.69 451.11,362.42 451.21,371.11 451.32,361.16 451.42,359.26 451.53,353.43 451.63,365.76 451.73,353.51 451.84,361.57 451.94,357.95 452.05,370.14 452.15,360.15 452.26,361.97 452.36,355.60 452.47,360.37 452.57,364.98 452.67,357.20 452.78,358.15 452.88,358.53 452.99,357.00 453.09,356.67 453.20,360.87 453.30,365.87 453.41,365.98 453.51,355.79 453.61,358.18 453.72,360.47 453.82,362.48 453.93,360.75 454.03,360.79 454.14,362.15 454.24,363.52 454.35,352.84 454.45,360.08 454.55,363.20 454.66,365.81 454.76,366.38 454.87,358.29 454.97,358.16 455.08,361.81 455.18,360.82 455.29,362.16 455.39,365.17 455.49,356.19 455.60,358.28 455.70,351.83 455.81,366.73 455.91,361.61 456.02,357.81 456.12,362.95 456.23,366.31 456.33,364.68 456.43,360.77 456.54,358.60 456.64,361.53 456.75,353.69 456.85,357.49 456.96,360.00 457.06,361.12 457.17,363.12 457.27,357.13 457.37,354.39 457.48,361.04 457.58,359.60 457.69,362.50 457.79,366.57 457.90,365.05 458.00,358.47 458.11,359.67 458.21,355.41 458.31,361.15 458.42,358.14 458.52,356.44 458.63,357.68 458.73,363.68 458.84,362.10 458.94,360.94 459.05,365.12 459.15,359.68 459.25,357.64 459.36,365.06 459.46,354.12 459.57,363.67 459.67,362.26 459.78,362.41 459.88,364.17 459.99,359.98 460.09,361.48 460.19,355.36 460.30,359.31 460.40,359.58 460.51,362.43 460.61,372.17 460.72,361.96 460.82,364.81 460.93,358.09 461.03,361.77 461.13,355.45 461.24,358.93 461.34,355.45 461.45,360.84 461.55,360.93 461.66,359.29 461.76,358.29 461.87,364.40 461.97,359.92 462.07,351.99 462.18,362.11 462.28,362.75 462.39,364.39 462.49,367.22 462.60,357.39 462.70,361.61 462.81,360.73 462.91,354.97 463.02,352.51 463.12,365.20 463.22,357.96 463.33,359.58 463.43,360.42 463.54,360.14 463.64,362.02 463.75,356.01 463.85,359.66 463.96,360.68 464.06,352.66 464.16,358.64 464.27,360.28 464.37,360.79 464.48,348.90 464.58,360.13 464.69,362.37 464.79,365.25 464.90,363.35 465.00,365.99 465.10,361.68 465.21,361.14 465.31,369.76 465.42,362.05 465.52,359.71 465.63,361.52 465.73,365.71 465.84,357.43 465.94,364.77 466.04,366.77 466.15,366.23 466.25,362.26 466.36,358.55 466.46,357.88 466.57,361.46 466.67,366.71 466.78,364.72 466.88,365.63 466.98,362.95 467.09,368.92 467.19,361.90 467.30,359.92 467.40,362.89 467.51,360.63 467.61,365.86 467.72,367.80 467.82,364.76 467.92,358.07 468.03,358.56 468.13,364.12 468.24,357.93 468.34,363.65 468.45,356.80 468.55,360.66 468.66,364.16 468.76,359.51 468.86,365.38 468.97,366.00 469.07,367.93 469.18,361.56 469.28,362.74 469.39,362.84 469.49,365.62 469.60,351.84 469.70,364.16 469.80,365.29 469.91,357.95 470.01,357.31 470.12,361.36 470.22,369.13 470.33,364.89 470.43,360.37 470.54,362.60 470.64,356.88 470.74,367.79 470.85,357.64 470.95,365.05 471.06,357.79 471.16,363.02 471.27,358.90 471.37,365.17 471.48,368.03 471.58,366.92 471.68,365.05 471.79,366.63 471.89,358.33 472.00,357.82 472.10,361.81 472.21,366.70 472.31,363.30 472.42,365.43 472.52,357.45 472.62,361.71 472.73,361.07 472.83,365.89 472.94,370.43 473.04,365.81 473.15,371.28 473.25,361.57 473.36,362.60 473.46,365.97 473.56,365.89 473.67,357.15 473.77,366.59 473.88,366.44 473.98,363.88 474.09,365.65 474.19,364.65 474.30,361.08 474.40,356.61 474.50,369.72 474.61,363.16 474.71,362.95 474.82,363.74 474.92,363.82 475.03,364.41 475.13,359.40 475.24,364.89 475.34,364.12 475.44,363.18 475.55,362.79 475.65,363.84 475.76,359.48 475.86,363.25 475.97,362.58 476.07,363.43 476.18,367.00 476.28,366.36 476.38,371.11 476.49,362.57 476.59,365.96 476.70,367.27 476.80,362.43 476.91,361.37 477.01,369.91 477.12,357.04 477.22,363.24 477.32,363.76 477.43,359.40 477.53,363.13 477.64,365.66 477.74,355.22 477.85,367.43 477.95,363.80 478.06,360.28 478.16,367.45 478.26,363.85 478.37,362.03 478.47,354.52 478.58,366.83 478.68,363.69 478.79,361.06 478.89,363.23 479.00,372.52 479.10,362.03 479.20,363.16 479.31,361.91 479.41,359.36 479.52,359.81 479.62,362.08 479.73,362.45 479.83,367.72 479.94,364.14 480.04,362.82 480.14,365.15 480.25,363.30 480.35,366.76 480.46,357.96 480.56,355.67 480.67,365.16 480.77,362.22 480.88,364.60 480.98,354.31 481.08,362.13 481.19,363.47 481.29,364.61 481.40,363.31 481.50,367.53 481.61,361.28 481.71,366.48 481.82,359.83 481.92,363.35 482.02,355.67 482.13,363.92 482.23,356.23 482.34,367.32 482.44,361.61 482.55,364.73 482.65,363.18 482.76,363.65 482.86,360.43 482.96,371.48 483.07,362.74 483.17,369.54 483.28,359.46 483.38,371.34 483.49,367.74 483.59,370.25 483.70,357.89 483.80,368.83 483.91,363.61 484.01,366.04 484.11,370.77 484.22,366.58 484.32,361.60 484.43,365.46 484.53,360.58 484.64,365.45 484.74,364.09 484.85,365.56 484.95,362.85 485.05,357.06 485.16,362.80 485.26,363.44 485.37,366.48 485.47,367.01 485.58,358.73 485.68,368.36 485.79,367.63 485.89,364.59 485.99,367.42 486.10,356.95 486.20,373.09 486.31,362.92 486.41,361.62 486.52,368.47 486.62,366.71 486.73,362.69 486.83,352.16 486.93,371.20 487.04,370.23 487.14,360.72 487.25,352.99 487.35,365.62 487.46,372.64 487.56,353.55 487.67,365.14 487.77,356.02 487.87,364.58 487.98,365.83 488.08,366.13 488.19,358.95 488.29,359.11 488.40,372.45 488.50,371.47 488.61,357.86 488.71,365.87 488.81,369.59 488.92,364.51 489.02,364.94 489.13,364.91 489.23,366.34 489.34,365.72 489.44,366.28 489.55,363.34 489.65,367.63 489.75,365.69 489.86,365.15 489.96,359.75 490.07,363.24 490.17,365.05 490.28,362.65 490.38,363.15 490.49,360.62 490.59,362.80 490.69,358.00 490.80,359.69 490.90,364.87 491.01,366.27 491.11,361.44 491.22,362.82 491.32,365.11 491.43,370.28 491.53,371.62 491.63,363.49 491.74,361.92 491.84,361.81 491.95,369.62 492.05,360.96 492.16,366.83 492.26,363.40 492.37,363.30 492.47,367.86 492.57,367.08 492.68,372.62 492.78,368.32 492.89,371.63 492.99,363.28 493.10,364.70 493.20,361.53 493.31,363.62 493.41,367.33 493.51,363.67 493.62,366.43 493.72,362.71 493.83,363.82 493.93,368.70 494.04,365.01 494.14,364.61 494.25,366.19 494.35,361.71 494.45,358.66 494.56,366.44 494.66,366.39 494.77,373.48 494.87,365.58 494.98,366.73 495.08,373.18 495.19,364.05 495.29,362.93 495.39,367.89 495.50,366.55 495.60,368.77 495.71,362.33 495.81,370.85 495.92,366.36 496.02,357.92 496.13,364.83 496.23,363.48 496.33,365.78 496.44,369.63 496.54,365.38 496.65,363.75 496.75,369.09 496.86,364.01 496.96,360.65 497.07,361.31 497.17,371.22 497.27,368.96 497.38,371.36 497.48,361.35 497.59,363.08 497.69,362.74 497.80,368.65 497.90,369.74 498.01,365.11 498.11,365.03 498.21,368.60 498.32,364.89 498.42,363.03 498.53,363.74 498.63,369.33 498.74,373.35 498.84,366.44 498.95,364.87 499.05,366.46 499.15,367.10 499.26,368.09 499.36,362.85 499.47,365.72 499.57,365.08 499.68,369.17 499.78,367.87 499.89,364.96 499.99,369.33 500.09,370.29 500.20,366.83 500.30,356.64 500.41,364.90 500.51,354.73 500.62,366.13 500.72,366.80 500.83,370.85 500.93,367.82 501.03,360.32 501.14,363.24 501.24,362.96 501.35,363.07 501.45,365.75 501.56,367.25 501.66,365.29 501.77,363.24 501.87,364.04 501.97,363.93 502.08,365.20 502.18,368.66 502.29,366.77 502.39,369.31 502.50,362.06 502.60,373.67 502.71,366.64 502.81,356.93 502.91,367.12 503.02,370.09 503.12,365.94 503.23,361.07 503.33,366.49 503.44,363.61 503.54,365.16 503.65,367.31 503.75,354.17 503.85,365.67 503.96,367.95 504.06,367.78 504.17,364.54 504.27,364.45 504.38,363.10 504.48,365.47 504.59,371.35 504.69,364.03 504.80,367.17 504.90,368.17 505.00,371.58 505.11,368.19 505.21,368.77 505.32,366.21 505.42,371.50 505.53,365.90 505.63,365.63 505.74,370.29 505.84,368.45 505.94,369.33 506.05,362.75 506.15,375.58 506.26,367.44 506.36,372.36 506.47,367.79 506.57,363.02 506.68,368.55 506.78,365.69 506.88,369.37 506.99,358.98 507.09,359.41 507.20,362.03 507.30,371.21 507.41,370.37 507.51,362.24 507.62,367.00 507.72,367.25 507.82,365.05 507.93,370.99 508.03,360.55 508.14,366.26 508.24,364.55 508.35,368.85 508.45,364.44 508.56,368.99 508.66,362.81 508.76,362.17 508.87,362.99 508.97,364.47 509.08,364.04 509.18,376.52 509.29,363.31 509.39,367.46 509.50,366.09 509.60,368.58 509.70,371.66 509.81,370.50 509.91,364.03 510.02,361.20 510.12,368.83 510.23,369.89 510.33,361.10 510.44,369.83 510.54,358.80 510.64,366.36 510.75,373.15 510.85,362.90 510.96,360.26 511.06,371.94 511.17,360.78 511.27,367.66 511.38,361.07 511.48,369.47 511.58,372.52 511.69,364.77 511.79,363.19 511.90,358.84 512.00,360.24 512.11,364.09 512.21,367.58 512.32,368.64 512.42,367.81 512.52,369.82 512.63,367.75 512.73,376.23 512.84,366.08 512.94,366.97 513.05,357.19 513.15,363.94 513.26,368.58 513.36,364.68 513.46,371.38 513.57,371.31 513.67,373.79 513.78,361.47 513.88,364.62 513.99,371.24 514.09,367.08 514.20,363.32 514.30,365.03" fill="none" stroke="#4d4d4d" stroke-width="1.0" stroke-linejoin="round" opacity="1.0"/>
<polyline points="305.40,389.66 305.50,402.31 305.61,389.00 305.71,389.97 305.82,386.03 305.92,391.91 306.03,389.29 306.13,394.32 306.24,392.68 306.34,400.54 306.44,389.16 306.55,380.61 306.65,388.92 306.76,387.71 306.86,395.79 306.97,372.73 307.07,394.50 307.18,385.09 307.28,389.26 307.38,395.65 307.49,383.74 307.59,389.81 307.70,388.83 307.80,384.48 307.91,390.03 308.01,392.17 308.12,387.10 308.22,392.33 308.32,389.51 308.43,393.91 308.53,398.84 308.64,393.94 308.74,392.87 308.85,389.81 308.95,382.80 309.06,400.03 309.16,389.13 309.26,403.17 309.37,396.17 309.47,392.94 309.58,403.42 309.68,401.04 309.79,388.98 309.89,389.43 310.00,390.58 310.10,394.72 310.20,364.05 310.31,390.87 310.41,395.07 310.52,379.83 310.62,382.53 310.73,392.13 310.83,382.75 310.94,388.96 311.04,382.18 311.14,388.49 311.25,396.07 311.35,384.07 311.46,387.97 311.56,395.95 311.67,394.48 311.77,378.44 311.88,392.12 311.98,389.62 312.08,385.97 312.19,389.13 312.29,399.06 312.40,386.08 312.50,384.27 312.61,384.70 312.71,380.20 312.82,387.71 312.92,380.58 313.02,380.37 313.13,391.64 313.23,369.07 313.34,379.49 313.44,385.20 313.55,378.86 313.65,384.79 313.76,395.18 313.86,383.08 313.96,387.94 314.07,387.42 314.17,388.97 314.28,381.74 314.38,386.59 314.49,394.07 314.59,386.99 314.70,385.53 314.80,394.25 314.90,392.50 315.01,392.20 315.11,393.54 315.22,387.81 315.32,383.80 315.43,378.55 315.53,382.73 315.64,383.77 315.74,383.04 315.84,381.89 315.95,392.16 316.05,385.74 316.16,387.97 316.26,391.45 316.37,392.63 316.47,392.93 316.58,391.51 316.68,397.31 316.79,386.77 316.89,390.03 316.99,389.26 317.10,387.87 317.20,385.55 317.31,393.45 317.41,390.54 317.52,399.55 317.62,403.22 317.73,401.54 317.83,380.68 317.93,400.86 318.04,387.07 318.14,381.04 318.25,392.65 318.35,380.12 318.46,378.82 318.56,384.23 318.67,375.67 318.77,386.16 318.87,394.27 318.98,386.76 319.08,392.54 319.19,397.70 319.29,397.53 319.40,376.01 319.50,393.12 319.61,390.01 319.71,393.84 319.81,389.03 319.92,391.28 320.02,392.31 320.13,397.11 320.23,398.31 320.34,394.30 320.44,388.07 320.55,377.37 320.65,383.50 320.75,367.86 320.86,386.90 320.96,390.77 321.07,397.76 321.17,389.79 321.28,402.67 321.38,391.60 321.49,380.03 321.59,387.82 321.69,383.02 321.80,392.08 321.90,398.04 322.01,392.65 322.11,392.16 322.22,382.54 322.32,377.92 322.43,394.21 322.53,391.92 322.63,390.64 322.74,391.85 322.84,397.22 322.95,388.50 323.05,387.58 323.16,387.44 323.26,396.99 323.37,390.43 323.47,400.18 323.57,384.27 323.68,395.86 323.78,391.39 323.89,392.43 323.99,393.24 324.10,396.09 324.20,400.34 324.31,379.34 324.41,388.19 324.51,388.13 324.62,377.13 324.72,390.33 324.83,386.41 324.93,389.59 325.04,382.60 325.14,386.71 325.25,387.83 325.35,391.25 325.45,388.04 325.56,382.73 325.66,402.17 325.77,390.48 325.87,392.22 325.98,391.51 326.08,401.56 326.19,385.32 326.29,394.78 326.39,392.23 326.50,392.73 326.60,399.72 326.71,392.38 326.81,400.75 326.92,278.55 327.02,277.04 327.13,276.61 327.23,277.04 327.33,278.33 327.44,271.05 327.54,277.54 327.65,283.86 327.75,282.32 327.86,283.03 327.96,281.92 328.07,283.93 328.17,285.32 328.27,277.16 328.38,283.22 328.48,285.04 328.59,285.23 328.69,285.58 328.80,280.47 328.90,284.09 329.01,282.31 329.11,308.14 329.21,285.95 329.32,283.83 329.42,281.08 329.53,288.23 329.63,300.52 329.74,287.10 329.84,291.61 329.95,296.13 330.05,292.44 330.15,287.01 330.26,286.87 330.36,286.28 330.47,295.39 330.57,283.39 330.68,296.51 330.78,293.07 330.89,298.15 330.99,284.22 331.09,292.26 331.20,291.05 331.30,294.14 331.41,295.00 331.51,294.47 331.62,301.93 331.72,292.25 331.83,292.83 331.93,297.65 332.03,296.63 332.14,295.84 332.24,291.72 332.35,295.95 332.45,297.29 332.56,299.77 332.66,303.49 332.77,300.62 332.87,298.18 332.97,299.96 333.08,299.09 333.18,297.03 333.29,298.36 333.39,299.17 333.50,298.10 333.60,299.98 333.71,300.98 333.81,299.49 333.91,313.18 334.02,297.26 334.12,306.31 334.23,299.18 334.33,302.27 334.44,298.71 334.54,302.66 334.65,306.28 334.75,299.51 334.85,302.82 334.96,303.27 335.06,303.62 335.17,300.65 335.27,301.50 335.38,303.75 335.48,310.14 335.59,306.38 335.69,304.82 335.79,299.18 335.90,304.27 336.00,306.27 336.11,301.87 336.21,306.60 336.32,306.52 336.42,306.07 336.53,312.01 336.63,303.70 336.73,305.73 336.84,308.38 336.94,311.55 337.05,307.05 337.15,303.13 337.26,310.39 337.36,312.03 337.47,307.08 337.57,314.26 337.68,316.61 337.78,310.63 337.88,311.66 337.99,310.41 338.09,311.54 338.20,308.65 338.30,311.32 338.41,312.23 338.51,313.31 338.62,308.32 338.72,307.35 338.82,304.38 338.93,308.60 339.03,322.61 339.14,314.82 339.24,312.61 339.35,310.97 339.45,317.45 339.56,307.08 339.66,311.12 339.76,316.43 339.87,311.93 339.97,313.85 340.08,315.44 340.18,311.21 340.29,314.70 340.39,318.17 340.50,315.63 340.60,313.98 340.70,317.48 340.81,304.94 340.91,317.81 341.02,308.10 341.12,311.24 341.23,317.75 341.33,314.18 341.44,310.68 341.54,315.58 341.64,319.20 341.75,314.82 341.85,301.33 341.96,320.65 342.06,313.71 342.17,315.74 342.27,316.32 342.38,317.40 342.48,317.29 342.58,312.72 342.69,314.38 342.79,320.04 342.90,311.32 343.00,321.35 343.11,314.69 343.21,316.48 343.32,308.70 343.42,316.14 343.52,313.85 343.63,317.72 343.73,314.39 343.84,316.70 343.94,310.57 344.05,320.56 344.15,314.13 344.26,316.78 344.36,317.91 344.46,320.60 344.57,317.21 344.67,323.99 344.78,323.75 344.88,316.66 344.99,324.64 345.09,314.39 345.20,320.44 345.30,317.62 345.40,319.46 345.51,318.38 345.61,320.92 345.72,321.34 345.82,320.62 345.93,316.66 346.03,316.48 346.14,316.11 346.24,319.37 346.34,321.44 346.45,326.68 346.55,318.74 346.66,318.17 346.76,322.59 346.87,318.50 346.97,316.94 347.08,321.19 347.18,317.96 347.28,320.66 347.39,327.85 347.49,323.58 347.60,323.47 347.70,320.31 347.81,325.25 347.91,323.88 348.02,325.79 348.12,322.70 348.22,322.42 348.33,319.39 348.43,320.10 348.54,322.40 348.64,322.23 348.75,322.79 348.85,322.87 348.96,318.00 349.06,340.43 349.16,324.17 349.27,321.22 349.37,319.83 349.48,327.64 349.58,322.74 349.69,321.05 349.79,325.67 349.90,330.84 350.00,325.56 350.10,332.47 350.21,322.25 350.31,327.54 350.42,318.51 350.52,324.29 350.63,327.66 350.73,326.71 350.84,328.83 350.94,322.17 351.04,320.06 351.15,326.06 351.25,322.20 351.36,331.75 351.46,324.51 351.57,317.68 351.67,335.22 351.78,321.56 351.88,321.85 351.98,332.52 352.09,331.06 352.19,329.55 352.30,322.90 352.40,329.04 352.51,327.00 352.61,324.05 352.72,326.18 352.82,325.89 352.92,327.86 353.03,318.77 353.13,329.61 353.24,321.19 353.34,328.24 353.45,329.92 353.55,324.99 353.66,325.75 353.76,334.25 353.86,326.70 353.97,332.22 354.07,330.50 354.18,324.97 354.28,330.76 354.39,326.62 354.49,329.24 354.60,321.31 354.70,328.41 354.80,332.23 354.91,332.06 355.01,331.45 355.12,327.25 355.22,328.47 355.33,325.17 355.43,328.03 355.54,328.23 355.64,327.63 355.74,329.27 355.85,327.88 355.95,326.26 356.06,326.33 356.16,331.00 356.27,335.31 356.37,332.06 356.48,328.35 356.58,338.02 356.68,331.11 356.79,327.98 356.89,331.56 357.00,333.55 357.10,323.66 357.21,325.01 357.31,330.77 357.42,325.36 357.52,325.51 357.62,333.99 357.73,320.86 357.83,336.50 357.94,331.19 358.04,334.14 358.15,330.14 358.25,335.03 358.36,330.57 358.46,326.85 358.57,329.93 358.67,331.65 358.77,325.44 358.88,333.97 358.98,327.57 359.09,332.04 359.19,330.30 359.30,331.01 359.40,330.73 359.51,331.42 359.61,334.01 359.71,335.13 359.82,329.90 359.92,331.86 360.03,335.58 360.13,334.05 360.24,334.07 360.34,331.92 360.45,330.40 360.55,331.54 360.65,334.18 360.76,331.91 360.86,336.78 360.97,342.09 361.07,332.34 361.18,337.94 361.28,335.55 361.39,336.51 361.49,330.21 361.59,336.64 361.70,331.55 361.80,334.26 361.91,341.08 362.01,338.14 362.12,331.14 362.22,331.46 362.33,330.18 362.43,326.57 362.53,331.00 362.64,332.06 362.74,333.52 362.85,332.78 362.95,334.41 363.06,336.36 363.16,326.40 363.27,346.21 363.37,331.60 363.47,331.94 363.58,333.01 363.68,336.92 363.79,334.30 363.89,335.29 364.00,337.47 364.10,333.96 364.21,335.27 364.31,335.83 364.41,331.60 364.52,341.34 364.62,332.55 364.73,336.24 364.83,332.70 364.94,333.99 365.04,333.45 365.15,337.73 365.25,337.07 365.35,337.40 365.46,333.88 365.56,331.95 365.67,330.85 365.77,336.37 365.88,334.39 365.98,340.33 366.09,342.46 366.19,340.85 366.29,337.18 366.40,340.30 366.50,341.13 366.61,333.18 366.71,337.85 366.82,340.94 366.92,327.14 367.03,334.63 367.13,336.37 367.23,332.97 367.34,337.99 367.44,329.92 367.55,340.78 367.65,344.61 367.76,336.03 367.86,338.25 367.97,325.97 368.07,341.24 368.17,338.27 368.28,334.97 368.38,333.89 368.49,332.42 368.59,334.74 368.70,328.36 368.80,337.66 368.91,335.46 369.01,333.15 369.11,338.45 369.22,337.21 369.32,337.85 369.43,338.51 369.53,340.23 369.64,338.29 369.74,341.77 369.85,335.15 369.95,342.01 370.05,329.42 370.16,330.73 370.26,332.82 370.37,337.41 370.47,338.75 370.58,332.54 370.68,335.71 370.79,334.92 370.89,339.38 370.99,329.72 371.10,339.74 371.20,336.65 371.31,343.03 371.41,339.36 371.52,333.84 371.62,338.74 371.73,338.76 371.83,334.54 371.93,337.55 372.04,333.05 372.14,345.72 372.25,335.46 372.35,335.71 372.46,342.83 372.56,342.02 372.67,334.54 372.77,341.30 372.87,339.85 372.98,335.62 373.08,338.87 373.19,336.12 373.29,340.80 373.40,336.81 373.50,334.14 373.61,336.79 373.71,345.53 373.81,334.13 373.92,337.82 374.02,344.50 374.13,333.29 374.23,344.15 374.34,331.70 374.44,340.39 374.55,332.81 374.65,338.43 374.75,342.90 374.86,337.88 374.96,337.24 375.07,336.55 375.17,334.79 375.28,341.59 375.38,335.31 375.49,336.02 375.59,340.66 375.69,341.86 375.80,341.96 375.90,336.11 376.01,335.10 376.11,341.63 376.22,343.42 376.32,334.56 376.43,344.23 376.53,338.35 376.63,341.72 376.74,345.03 376.84,338.58 376.95,339.70 377.05,334.11 377.16,331.27 377.26,339.79 377.37,335.63 377.47,335.60 377.57,341.04 377.68,342.26 377.78,333.75 377.89,340.60 377.99,339.46 378.10,340.41 378.20,339.89 378.31,341.55 378.41,336.92 378.51,335.20 378.62,340.85 378.72,344.35 378.83,339.45 378.93,344.79 379.04,341.90 379.14,335.48 379.25,331.75 379.35,338.49 379.46,343.49 379.56,337.16 379.66,347.63 379.77,342.30 379.87,334.69 379.98,337.40 380.08,344.76 380.19,345.77 380.29,337.11 380.40,340.62 380.50,342.17 380.60,338.73 380.71,342.16 380.81,346.84 380.92,337.46 381.02,342.51 381.13,343.76 381.23,344.93 381.34,339.50 381.44,343.17 381.54,338.27 381.65,342.49 381.75,333.22 381.86,341.85 381.96,342.80 382.07,347.36 382.17,344.39 382.28,338.15 382.38,330.12 382.48,345.00 382.59,344.30 382.69,339.58 382.80,339.13 382.90,345.67 383.01,340.56 383.11,346.40 383.22,343.14 383.32,337.81 383.42,335.31 383.53,342.32 383.63,341.90 383.74,339.47 383.84,337.24 383.95,339.41 384.05,343.70 384.16,339.91 384.26,337.83 384.36,343.66 384.47,345.83 384.57,339.50 384.68,340.02 384.78,337.97 384.89,341.03 384.99,343.58 385.10,342.90 385.20,344.96 385.30,344.71 385.41,343.40 385.51,343.16 385.62,337.68 385.72,345.78 385.83,341.74 385.93,343.63 386.04,336.50 386.14,340.75 386.24,342.97 386.35,338.90 386.45,341.44 386.56,343.40 386.66,336.49 386.77,339.36 386.87,335.87 386.98,337.87 387.08,339.21 387.18,341.45 387.29,345.67 387.39,339.51 387.50,341.73 387.60,337.51 387.71,342.06 387.81,344.44 387.92,345.55 388.02,339.70 388.12,337.68 388.23,343.15 388.33,340.62 388.44,337.44 388.54,345.11 388.65,343.43 388.75,346.14 388.86,338.25 388.96,340.68 389.06,343.95 389.17,348.09 389.27,343.03 389.38,339.00 389.48,343.48 389.59,343.94 389.69,340.30 389.80,346.78 389.90,342.34 390.00,340.52 390.11,345.29 390.21,345.48 390.32,341.80 390.42,343.02 390.53,343.51 390.63,342.01 390.74,341.98 390.84,345.96 390.94,345.09 391.05,341.28 391.15,338.99 391.26,338.21 391.36,345.81 391.47,339.15 391.57,340.33 391.68,343.30 391.78,341.31 391.88,340.16 391.99,336.89 392.09,346.68 392.20,341.01 392.30,343.58 392.41,343.84 392.51,339.21 392.62,340.36 392.72,346.69 392.82,344.19 392.93,341.79 393.03,348.12 393.14,340.32 393.24,343.57 393.35,342.78 393.45,342.21 393.56,331.08 393.66,343.28 393.76,338.15 393.87,337.48 393.97,345.20 394.08,345.30 394.18,348.28 394.29,339.83 394.39,342.63 394.50,341.97 394.60,342.58 394.70,344.10 394.81,346.35 394.91,346.36 395.02,342.22 395.12,343.30 395.23,338.15 395.33,349.09 395.44,345.47 395.54,347.32 395.64,339.11 395.75,348.09 395.85,341.24 395.96,338.98 396.06,344.41 396.17,341.47 396.27,351.27 396.38,345.32 396.48,349.70 396.58,343.45 396.69,344.03 396.79,346.72 396.90,340.87 397.00,342.91 397.11,345.95 397.21,345.93 397.32,349.24 397.42,344.86 397.52,336.98 397.63,346.70 397.73,342.84 397.84,346.19 397.94,341.58 398.05,342.85 398.15,345.17 398.26,350.51 398.36,346.18 398.46,340.33 398.57,345.30 398.67,342.33 398.78,346.15 398.88,350.92 398.99,341.72 399.09,343.48 399.20,346.58 399.30,345.89 399.40,343.64 399.51,348.80 399.61,343.50 399.72,345.40 399.82,352.80 399.93,345.24 400.03,346.81 400.14,347.66 400.24,343.43 400.35,346.50 400.45,343.00 400.55,341.13 400.66,344.40 400.76,350.22 400.87,347.44 400.97,341.83 401.08,345.87 401.18,347.76 401.29,345.33 401.39,343.32 401.49,344.18 401.60,342.87 401.70,347.93 401.81,346.07 401.91,346.95 402.02,345.24 402.12,352.37 402.23,346.02 402.33,349.83 402.43,335.80 402.54,339.94 402.64,339.53 402.75,342.54 402.85,347.00 402.96,342.07 403.06,346.06 403.17,343.30 403.27,348.51 403.37,347.45 403.48,343.86 403.58,333.40 403.69,345.58 403.79,337.80 403.90,336.10 404.00,354.40 404.11,345.67 404.21,352.18 404.31,346.10 404.42,347.47 404.52,345.89 404.63,342.37 404.73,342.48 404.84,344.83 404.94,345.73 405.05,345.35 405.15,344.97 405.25,343.83 405.36,345.80 405.46,344.12 405.57,350.35 405.67,343.16 405.78,339.91 405.88,345.29 405.99,355.68 406.09,341.33 406.19,347.11 406.30,356.24 406.40,346.77 406.51,343.97 406.61,344.74 406.72,341.83 406.82,343.97 406.93,345.69 407.03,352.91 407.13,349.98 407.24,345.57 407.34,343.88 407.45,349.74 407.55,348.34 407.66,344.65 407.76,352.83 407.87,352.97 407.97,347.11 408.07,345.48 408.18,348.00 408.28,354.25 408.39,346.32 408.49,350.98 408.60,344.20 408.70,346.81 408.81,345.57 408.91,342.14 409.01,348.33 409.12,340.91 409.22,342.29 409.33,345.22 409.43,342.04 409.54,348.77 409.64,343.50 409.75,345.73 409.85,350.06 409.95,346.97 410.06,348.53 410.16,348.63 410.27,346.46 410.37,343.13 410.48,347.88 410.58,346.39 410.69,351.87 410.79,346.49 410.89,342.91 411.00,344.11 411.10,343.69 411.21,348.74 411.31,350.30 411.42,347.29 411.52,351.58 411.63,351.24 411.73,343.79 411.83,350.20 411.94,340.90 412.04,351.99 412.15,345.63 412.25,351.15 412.36,346.55 412.46,350.73 412.57,347.04 412.67,347.74 412.77,348.77 412.88,345.49 412.98,342.08 413.09,349.31 413.19,344.26 413.30,347.03 413.40,347.44 413.51,339.83 413.61,354.83 413.71,352.11 413.82,353.63 413.92,349.63 414.03,348.24 414.13,334.39 414.24,346.30 414.34,335.22 414.45,343.07 414.55,349.06 414.65,345.92 414.76,341.86 414.86,346.46 414.97,346.23 415.07,345.92 415.18,352.83 415.28,350.47 415.39,346.55 415.49,344.02 415.59,350.90 415.70,348.87 415.80,348.20 415.91,348.32 416.01,345.44 416.12,347.47 416.22,347.29 416.33,357.64 416.43,351.51 416.53,346.81 416.64,353.41 416.74,347.03 416.85,350.25 416.95,353.62 417.06,345.79 417.16,350.36 417.27,351.00 417.37,350.39 417.47,347.90 417.58,338.67 417.68,355.42 417.79,348.22 417.89,349.00 418.00,344.92 418.10,349.49 418.21,356.73 418.31,339.20 418.41,352.02 418.52,348.50 418.62,353.02 418.73,352.10 418.83,350.06 418.94,345.42 419.04,345.49 419.15,350.47 419.25,346.71 419.35,349.73 419.46,348.09 419.56,347.96 419.67,346.38 419.77,350.65 419.88,349.01 419.98,347.82 420.09,348.06 420.19,351.35 420.29,342.70 420.40,350.24 420.50,346.06 420.61,347.99 420.71,344.50 420.82,356.25 420.92,341.68 421.03,349.50 421.13,353.02 421.24,348.36 421.34,341.05 421.44,345.45 421.55,353.10 421.65,352.16 421.76,344.30 421.86,353.75 421.97,349.55 422.07,349.97 422.18,341.51 422.28,349.99 422.38,344.48 422.49,351.36 422.59,351.81 422.70,345.60 422.80,346.94 422.91,355.05 423.01,346.91 423.12,346.92 423.22,351.27 423.32,348.41 423.43,348.26 423.53,350.88 423.64,351.24 423.74,351.56 423.85,350.20 423.95,353.86 424.06,349.45 424.16,354.47 424.26,349.08 424.37,349.65 424.47,352.94 424.58,346.46 424.68,342.75 424.79,344.87 424.89,354.15 425.00,345.08 425.10,348.10 425.20,349.98 425.31,353.74 425.41,349.56 425.52,344.78 425.62,347.70 425.73,351.02 425.83,351.92 425.94,351.06 426.04,347.63 426.14,343.25 426.25,353.32 426.35,349.71 426.46,351.04 426.56,352.33 426.67,347.14 426.77,347.88 426.88,354.66 426.98,353.37 427.08,345.72 427.19,347.78 427.29,348.07 427.40,351.60 427.50,351.20 427.61,348.34 427.71,351.64 427.82,353.76 427.92,349.97 428.02,346.88 428.13,353.54 428.23,346.39 428.34,347.63 428.44,353.02 428.55,350.05 428.65,350.23 428.76,347.93 428.86,347.84 428.96,354.61 429.07,359.53 429.17,346.64 429.28,349.81 429.38,348.78 429.49,349.08 429.59,344.99 429.70,354.41 429.80,346.54 429.90,353.11 430.01,347.82 430.11,345.73 430.22,355.09 430.32,347.72 430.43,351.34 430.53,351.40 430.64,350.27 430.74,354.04 430.84,353.76 430.95,348.22 431.05,347.59 431.16,352.45 431.26,355.51 431.37,342.60 431.47,346.79 431.58,349.34 431.68,354.12 431.78,352.60 431.89,349.80 431.99,353.93 432.10,345.17 432.20,350.21 432.31,349.35 432.41,354.24 432.52,353.84 432.62,353.44 432.72,349.82 432.83,351.69 432.93,351.79 433.04,349.74 433.14,350.06 433.25,345.78 433.35,351.54 433.46,354.34 433.56,350.94 433.66,345.92 433.77,352.82 433.87,350.78 433.98,352.19 434.08,349.60 434.19,350.12 434.29,353.79 434.40,352.71 434.50,347.84 434.60,347.33 434.71,347.94 434.81,348.16 434.92,352.25 435.02,352.38 435.13,347.98 435.23,345.23 435.34,351.38 435.44,357.53 435.54,352.51 435.65,353.64 435.75,355.36 435.86,349.29 435.96,353.79 436.07,352.55 436.17,352.20 436.28,353.84 436.38,346.51 436.48,353.05 436.59,350.72 436.69,355.85 436.80,353.03 436.90,352.54 437.01,352.50 437.11,353.46 437.22,351.00 437.32,346.20 437.42,351.97 437.53,352.01 437.63,352.88 437.74,342.93 437.84,346.09 437.95,349.70 438.05,346.93 438.16,354.05 438.26,352.17 438.36,350.95 438.47,351.28 438.57,354.61 438.68,354.37 438.78,349.98 438.89,350.69 438.99,358.93 439.10,351.47 439.20,347.47 439.30,354.01 439.41,351.01 439.51,356.79 439.62,346.31 439.72,359.57 439.83,356.15 439.93,352.99 440.04,343.87 440.14,354.02 440.24,356.25 440.35,350.41 440.45,351.21 440.56,340.85 440.66,356.34 440.77,357.46 440.87,353.13 440.98,350.79 441.08,350.88 441.18,348.42 441.29,357.20 441.39,354.94 441.50,352.60 441.60,349.32 441.71,350.57 441.81,353.64 441.92,355.69 442.02,349.24 442.13,349.03 442.23,343.05 442.33,352.89 442.44,346.79 442.54,356.43 442.65,354.18 442.75,354.65 442.86,353.94 442.96,355.36 443.07,354.25 443.17,352.60 443.27,353.96 443.38,350.21 443.48,352.75 443.59,352.49 443.69,347.49 443.80,351.44 443.90,352.00 444.01,352.61 444.11,352.35 444.21,350.63 444.32,355.32 444.42,348.72 444.53,347.29 444.63,348.72 444.74,354.33 444.84,358.08 444.95,354.17 445.05,351.76 445.15,349.91 445.26,353.36 445.36,353.78 445.47,347.61 445.57,355.06 445.68,349.18 445.78,349.75 445.89,361.97 445.99,351.91 446.09,354.76 446.20,356.10 446.30,359.18 446.41,358.23 446.51,351.52 446.62,354.65 446.72,352.04 446.83,356.59 446.93,354.08 447.03,353.93 447.14,363.62 447.24,358.69 447.35,351.56 447.45,352.57 447.56,356.26 447.66,353.45 447.77,350.87 447.87,346.92 447.97,356.17 448.08,351.08 448.18,338.90 448.29,352.98 448.39,348.24 448.50,362.01 448.60,348.33 448.71,353.30 448.81,359.65 448.91,350.65 449.02,349.75 449.12,349.22 449.23,349.27 449.33,353.46 449.44,355.92 449.54,354.96 449.65,353.53 449.75,352.05 449.85,355.08 449.96,353.29 450.06,350.49 450.17,352.38 450.27,345.71 450.38,346.19 450.48,357.44 450.59,355.48 450.69,358.02 450.79,357.54 450.90,351.74 451.00,356.99 451.11,357.19 451.21,354.56 451.32,350.94 451.42,354.88 451.53,354.91 451.63,350.58 451.73,352.12 451.84,352.19 451.94,350.53 452.05,357.21 452.15,353.05 452.26,358.22 452.36,350.32 452.47,351.06 452.57,357.40 452.67,349.31 452.78,357.86 452.88,349.91 452.99,353.21 453.09,356.90 453.20,361.66 453.30,355.00 453.41,354.06 453.51,356.41 453.61,350.27 453.72,358.79 453.82,354.06 453.93,354.05 454.03,360.45 454.14,353.03 454.24,358.41 454.35,362.63 454.45,356.22 454.55,355.81 454.66,351.08 454.76,355.84 454.87,349.17 454.97,349.30 455.08,350.50 455.18,349.72 455.29,353.06 455.39,356.17 455.49,352.07 455.60,351.00 455.70,353.50 455.81,355.17 455.91,365.16 456.02,349.85 456.12,353.18 456.23,358.84 456.33,354.07 456.43,351.96 456.54,354.81 456.64,351.78 456.75,351.89 456.85,364.68 456.96,355.53 457.06,352.86 457.17,351.40 457.27,349.73 457.37,361.12 457.48,354.81 457.58,352.15 457.69,350.42 457.79,348.85 457.90,357.84 458.00,355.93 458.11,358.28 458.21,349.19 458.31,359.23 458.42,350.67 458.52,351.53 458.63,353.08 458.73,362.19 458.84,357.10 458.94,352.23 459.05,359.66 459.15,355.64 459.25,355.20 459.36,351.81 459.46,353.90 459.57,353.95 459.67,356.41 459.78,354.90 459.88,355.39 459.99,352.45 460.09,355.58 460.19,351.44 460.30,360.81 460.40,350.90 460.51,355.61 460.61,351.18 460.72,354.77 460.82,352.14 460.93,349.97 461.03,357.00 461.13,354.84 461.24,355.71 461.34,354.43 461.45,360.71 461.55,355.76 461.66,356.05 461.76,357.90 461.87,355.89 461.97,360.52 462.07,350.47 462.18,353.74 462.28,342.49 462.39,358.29 462.49,359.31 462.60,354.36 462.70,361.06 462.81,354.59 462.91,357.78 463.02,356.54 463.12,354.54 463.22,355.27 463.33,349.06 463.43,353.29 463.54,359.89 463.64,352.13 463.75,360.09 463.85,355.22 463.96,359.80 464.06,358.38 464.16,351.06 464.27,357.48 464.37,357.80 464.48,357.53 464.58,356.69 464.69,350.70 464.79,359.69 464.90,359.91 465.00,353.70 465.10,361.17 465.21,356.97 465.31,351.86 465.42,355.75 465.52,357.41 465.63,358.22 465.73,358.94 465.84,357.84 465.94,355.37 466.04,351.59 466.15,352.56 466.25,357.82 466.36,358.40 466.46,353.54 466.57,368.52 466.67,357.45 466.78,357.08 466.88,359.79 466.98,359.41 467.09,354.83 467.19,361.70 467.30,359.18 467.40,358.29 467.51,355.81 467.61,360.80 467.72,352.41 467.82,357.20 467.92,358.13 468.03,357.42 468.13,358.50 468.24,359.57 468.34,352.30 468.45,355.55 468.55,356.64 468.66,352.88 468.76,358.74 468.86,352.23 468.97,356.26 469.07,362.66 469.18,353.77 469.28,361.50 469.39,354.18 469.49,359.45 469.60,355.04 469.70,351.74 469.80,354.53 469.91,358.55 470.01,356.95 470.12,357.78 470.22,360.55 470.33,364.37 470.43,356.43 470.54,354.76 470.64,362.64 470.74,356.88 470.85,354.92 470.95,356.29 471.06,360.10 471.16,353.17 471.27,360.87 471.37,354.52 471.48,351.29 471.58,370.97 471.68,355.91 471.79,355.73 471.89,356.05 472.00,359.45 472.10,359.28 472.21,361.63 472.31,356.44 472.42,355.07 472.52,359.19 472.62,360.09 472.73,358.56 472.83,357.00 472.94,356.78 473.04,357.35 473.15,356.78 473.25,361.49 473.36,366.34 473.46,354.96 473.56,347.72 473.67,361.92 473.77,359.38 473.88,356.10 473.98,353.90 474.09,353.07 474.19,352.83 474.30,357.37 474.40,355.79 474.50,354.75 474.61,358.70 474.71,353.16 474.82,355.14 474.92,353.95 475.03,358.62 475.13,353.81 475.24,360.90 475.34,356.00 475.44,366.23 475.55,360.80 475.65,354.88 475.76,358.93 475.86,356.57 475.97,362.93 476.07,352.19 476.18,355.43 476.28,357.56 476.38,356.07 476.49,356.39 476.59,352.71 476.70,356.80 476.80,367.87 476.91,358.42 477.01,353.22 477.12,355.65 477.22,359.03 477.32,355.55 477.43,357.23 477.53,355.58 477.64,363.04 477.74,360.72 477.85,355.43 477.95,358.45 478.06,356.52 478.16,351.09 478.26,358.80 478.37,356.94 478.47,359.66 478.58,359.90 478.68,358.65 478.79,362.74 478.89,364.96 479.00,353.21 479.10,358.20 479.20,354.06 479.31,357.47 479.41,357.39 479.52,355.64 479.62,355.49 479.73,366.43 479.83,353.86 479.94,361.25 480.04,357.29 480.14,349.34 480.25,357.74 480.35,352.38 480.46,360.73 480.56,355.97 480.67,357.89 480.77,356.66 480.88,360.98 480.98,361.21 481.08,356.98 481.19,363.42 481.29,361.00 481.40,355.99 481.50,360.25 481.61,361.19 481.71,361.95 481.82,357.72 481.92,361.03 482.02,357.73 482.13,358.89 482.23,346.08 482.34,359.76 482.44,364.92 482.55,357.92 482.65,358.32 482.76,357.81 482.86,363.78 482.96,354.54 483.07,358.93 483.17,358.54 483.28,363.76 483.38,356.82 483.49,358.65 483.59,353.88 483.70,359.86 483.80,362.65 483.91,358.05 484.01,361.59 484.11,356.05 484.22,362.19 484.32,358.98 484.43,359.32 484.53,358.69 484.64,360.32 484.74,364.41 484.85,358.81 484.95,360.58 485.05,358.12 485.16,359.57 485.26,366.24 485.37,358.89 485.47,354.01 485.58,357.69 485.68,356.70 485.79,357.20 485.89,360.33 485.99,363.25 486.10,356.05 486.20,355.24 486.31,356.90 486.41,357.39 486.52,357.50 486.62,358.94 486.73,357.94 486.83,358.83 486.93,357.79 487.04,362.07 487.14,361.02 487.25,357.02 487.35,360.07 487.46,367.05 487.56,358.55 487.67,366.63 487.77,352.59 487.87,356.60 487.98,356.77 488.08,363.80 488.19,362.81 488.29,360.80 488.40,359.00 488.50,361.65 488.61,358.56 488.71,356.81 488.81,357.12 488.92,362.59 489.02,366.36 489.13,359.14 489.23,361.36 489.34,357.69 489.44,353.72 489.55,353.74 489.65,358.26 489.75,355.54 489.86,348.62 489.96,359.10 490.07,358.36 490.17,356.44 490.28,359.40 490.38,360.96 490.49,361.80 490.59,359.58 490.69,361.39 490.80,356.70 490.90,360.46 491.01,354.51 491.11,355.36 491.22,363.50 491.32,355.82 491.43,360.75 491.53,354.88 491.63,357.73 491.74,360.03 491.84,357.23 491.95,361.31 492.05,358.39 492.16,358.21 492.26,359.99 492.37,358.23 492.47,362.83 492.57,357.69 492.68,367.81 492.78,357.50 492.89,358.01 492.99,357.23 493.10,361.43 493.20,349.57 493.31,360.36 493.41,359.12 493.51,362.12 493.62,350.42 493.72,361.20 493.83,356.38 493.93,362.78 494.04,358.65 494.14,360.91 494.25,356.63 494.35,360.67 494.45,362.56 494.56,358.24 494.66,363.67 494.77,362.90 494.87,357.23 494.98,372.28 495.08,357.28 495.19,361.11 495.29,362.81 495.39,359.01 495.50,357.75 495.60,361.75 495.71,360.42 495.81,357.22 495.92,357.39 496.02,360.04 496.13,362.41 496.23,363.00 496.33,361.86 496.44,357.69 496.54,358.03 496.65,358.94 496.75,355.38 496.86,360.94 496.96,361.21 497.07,361.24 497.17,353.72 497.27,366.74 497.38,359.06 497.48,358.56 497.59,359.83 497.69,352.39 497.80,356.21 497.90,355.12 498.01,363.01 498.11,358.45 498.21,361.31 498.32,359.95 498.42,359.45 498.53,361.69 498.63,358.06 498.74,349.57 498.84,356.76 498.95,359.45 499.05,366.48 499.15,356.63 499.26,356.67 499.36,360.83 499.47,361.77 499.57,358.07 499.68,362.87 499.78,357.64 499.89,363.78 499.99,363.27 500.09,360.22 500.20,365.03 500.30,360.29 500.41,358.57 500.51,364.61 500.62,357.31 500.72,362.17 500.83,358.56 500.93,359.67 501.03,361.86 501.14,362.09 501.24,365.96 501.35,362.68 501.45,362.93 501.56,355.08 501.66,357.13 501.77,364.91 501.87,357.86 501.97,355.20 502.08,361.73 502.18,359.00 502.29,357.94 502.39,362.38 502.50,361.43 502.60,360.01 502.71,363.76 502.81,359.97 502.91,360.85 503.02,362.81 503.12,363.34 503.23,358.66 503.33,357.79 503.44,359.57 503.54,363.44 503.65,358.24 503.75,360.13 503.85,358.77 503.96,353.17 504.06,363.65 504.17,361.19 504.27,362.68 504.38,363.59 504.48,354.27 504.59,354.70 504.69,366.52 504.80,359.42 504.90,362.62 505.00,353.39 505.11,360.57 505.21,361.42 505.32,360.40 505.42,359.64 505.53,360.79 505.63,361.62 505.74,361.36 505.84,359.27 505.94,364.60 506.05,360.96 506.15,361.35 506.26,362.55 506.36,358.60 506.47,365.18 506.57,362.20 506.68,363.79 506.78,359.27 506.88,362.57 506.99,360.91 507.09,359.83 507.20,366.26 507.30,359.64 507.41,363.54 507.51,361.95 507.62,361.50 507.72,358.53 507.82,358.78 507.93,355.46 508.03,360.62 508.14,362.74 508.24,362.84 508.35,359.11 508.45,356.05 508.56,360.15 508.66,363.13 508.76,360.39 508.87,360.46 508.97,361.09 509.08,363.72 509.18,369.54 509.29,363.08 509.39,357.94 509.50,360.68 509.60,368.52 509.70,361.37 509.81,367.38 509.91,354.97 510.02,360.81 510.12,369.23 510.23,358.87 510.33,363.99 510.44,359.66 510.54,361.42 510.64,365.32 510.75,359.36 510.85,365.86 510.96,357.20 511.06,361.16 511.17,364.89 511.27,367.44 511.38,356.36 511.48,356.90 511.58,365.68 511.69,356.30 511.79,361.10 511.90,362.36 512.00,361.94 512.11,362.54 512.21,357.05 512.32,361.21 512.42,367.67 512.52,354.95 512.63,358.88 512.73,365.27 512.84,362.91 512.94,364.70 513.05,361.63 513.15,360.52 513.26,361.04 513.36,363.76 513.46,364.42 513.57,359.10 513.67,362.18 513.78,354.59 513.88,364.50 513.99,359.34 514.09,361.75 514.20,364.38 514.30,357.52" fill="none" stroke="#e8393f" stroke-width="1.0" stroke-linejoin="round" opacity="1.0"/>
<polyline points="305.40,390.86 305.50,405.64 305.61,399.56 305.71,387.96 305.82,390.93 305.92,396.30 306.03,390.26 306.13,394.82 306.24,386.75 306.34,391.38 306.44,387.59 306.55,391.54 306.65,385.45 306.76,390.76 306.86,390.02 306.97,396.77 307.07,389.10 307.18,400.59 307.28,373.96 307.38,394.04 307.49,389.36 307.59,392.80 307.70,395.87 307.80,385.20 307.91,396.16 308.01,392.53 308.12,398.23 308.22,395.51 308.32,396.98 308.43,379.17 308.53,397.98 308.64,396.41 308.74,388.82 308.85,381.41 308.95,400.14 309.06,399.27 309.16,389.23 309.26,386.02 309.37,398.48 309.47,400.79 309.58,395.76 309.68,385.51 309.79,390.25 309.89,385.53 310.00,390.64 310.10,390.50 310.20,386.32 310.31,390.72 310.41,388.59 310.52,395.48 310.62,393.61 310.73,387.20 310.83,391.45 310.94,394.50 311.04,386.07 311.14,386.74 311.25,390.06 311.35,394.57 311.46,384.64 311.56,375.04 311.67,394.95 311.77,408.64 311.88,394.70 311.98,395.62 312.08,397.61 312.19,397.12 312.29,384.95 312.40,384.88 312.50,381.15 312.61,381.21 312.71,392.90 312.82,383.53 312.92,393.71 313.02,392.12 313.13,397.08 313.23,382.69 313.34,383.98 313.44,392.83 313.55,391.91 313.65,389.84 313.76,387.79 313.86,384.99 313.96,389.66 314.07,387.65 314.17,399.05 314.28,391.87 314.38,400.81 314.49,379.37 314.59,381.70 314.70,385.77 314.80,383.40 314.90,378.05 315.01,384.43 315.11,399.62 315.22,391.31 315.32,404.19 315.43,394.96 315.53,405.18 315.64,390.13 315.74,387.75 315.84,401.40 315.95,391.78 316.05,388.41 316.16,391.03 316.26,391.16 316.37,404.51 316.47,392.74 316.58,385.35 316.68,388.55 316.79,398.99 316.89,391.74 316.99,387.12 317.10,395.95 317.20,386.06 317.31,394.92 317.41,392.10 317.52,390.77 317.62,376.76 317.73,392.04 317.83,397.18 317.93,385.82 318.04,392.94 318.14,388.96 318.25,403.64 318.35,388.33 318.46,390.24 318.56,397.86 318.67,381.98 318.77,391.55 318.87,391.30 318.98,398.00 319.08,399.87 319.19,393.53 319.29,399.26 319.40,387.18 319.50,384.91 319.61,393.93 319.71,409.66 319.81,392.49 319.92,396.49 320.02,389.13 320.13,389.05 320.23,392.69 320.34,389.69 320.44,383.89 320.55,379.92 320.65,393.27 320.75,385.80 320.86,391.56 320.96,396.48 321.07,382.45 321.17,387.79 321.28,389.30 321.38,388.02 321.49,391.12 321.59,396.46 321.69,379.50 321.80,384.75 321.90,388.57 322.01,384.36 322.11,382.44 322.22,391.35 322.32,386.63 322.43,392.09 322.53,386.28 322.63,391.67 322.74,375.55 322.84,392.29 322.95,387.05 323.05,387.37 323.16,394.41 323.26,384.53 323.37,390.65 323.47,392.62 323.57,390.14 323.68,394.65 323.78,382.97 323.89,386.40 323.99,384.26 324.10,398.25 324.20,388.53 324.31,394.76 324.41,389.63 324.51,382.51 324.62,388.61 324.72,391.20 324.83,383.43 324.93,384.09 325.04,379.06 325.14,401.31 325.25,388.19 325.35,392.65 325.45,395.39 325.56,389.46 325.66,404.34 325.77,403.55 325.87,395.56 325.98,391.72 326.08,378.95 326.19,394.48 326.29,397.16 326.39,414.12 326.50,392.26 326.60,391.59 326.71,389.26 326.81,398.82 326.92,247.94 327.02,262.41 327.13,255.34 327.23,262.69 327.33,268.05 327.44,255.76 327.54,259.23 327.65,260.94 327.75,262.08 327.86,267.98 327.96,261.75 328.07,270.14 328.17,260.89 328.27,267.71 328.38,275.84 328.48,267.36 328.59,264.43 328.69,274.05 328.80,269.30 328.90,274.56 329.01,276.80 329.11,284.36 329.21,271.89 329.32,280.14 329.42,276.33 329.53,282.28 329.63,282.19 329.74,275.83 329.84,281.70 329.95,282.39 330.05,285.99 330.15,281.50 330.26,280.12 330.36,285.00 330.47,284.62 330.57,293.12 330.68,280.19 330.78,287.73 330.89,286.64 330.99,280.77 331.09,287.89 331.20,292.98 331.30,291.28 331.41,289.77 331.51,282.79 331.62,288.00 331.72,290.64 331.83,287.41 331.93,286.18 332.03,293.76 332.14,286.54 332.24,288.94 332.35,289.30 332.45,300.93 332.56,292.39 332.66,288.59 332.77,294.76 332.87,286.12 332.97,294.26 333.08,298.40 333.18,293.13 333.29,294.51 333.39,292.96 333.50,297.84 333.60,291.96 333.71,298.76 333.81,296.67 333.91,301.78 334.02,300.53 334.12,297.32 334.23,300.62 334.33,300.18 334.44,299.62 334.54,298.30 334.65,296.78 334.75,297.05 334.85,296.42 334.96,299.55 335.06,304.43 335.17,306.34 335.27,302.27 335.38,304.09 335.48,307.91 335.59,296.04 335.69,308.49 335.79,301.05 335.90,300.59 336.00,304.50 336.11,293.95 336.21,303.17 336.32,306.16 336.42,297.53 336.53,306.73 336.63,309.18 336.73,307.90 336.84,306.85 336.94,304.65 337.05,303.84 337.15,310.58 337.26,304.23 337.36,297.83 337.47,308.38 337.57,306.54 337.68,303.84 337.78,302.25 337.88,309.03 337.99,313.72 338.09,310.62 338.20,303.42 338.30,304.31 338.41,315.27 338.51,315.37 338.62,312.39 338.72,313.50 338.82,306.98 338.93,307.83 339.03,301.89 339.14,306.17 339.24,308.71 339.35,300.00 339.45,312.64 339.56,314.59 339.66,309.73 339.76,303.50 339.87,315.89 339.97,307.22 340.08,307.51 340.18,312.47 340.29,309.76 340.39,312.00 340.50,310.92 340.60,308.53 340.70,314.36 340.81,308.03 340.91,308.79 341.02,308.82 341.12,319.11 341.23,318.88 341.33,310.05 341.44,314.71 341.54,315.23 341.64,315.64 341.75,317.83 341.85,314.26 341.96,315.95 342.06,315.86 342.17,312.02 342.27,318.01 342.38,310.04 342.48,321.97 342.58,305.46 342.69,319.22 342.79,312.52 342.90,311.50 343.00,314.87 343.11,312.37 343.21,315.52 343.32,321.48 343.42,314.20 343.52,311.52 343.63,317.63 343.73,321.81 343.84,318.08 343.94,314.94 344.05,315.16 344.15,312.46 344.26,314.52 344.36,314.83 344.46,323.81 344.57,309.01 344.67,316.83 344.78,314.08 344.88,318.48 344.99,317.92 345.09,317.29 345.20,306.58 345.30,312.40 345.40,315.69 345.51,310.98 345.61,319.51 345.72,316.40 345.82,319.96 345.93,313.90 346.03,318.46 346.14,315.25 346.24,312.73 346.34,326.26 346.45,311.38 346.55,318.04 346.66,320.41 346.76,326.17 346.87,320.57 346.97,327.75 347.08,319.42 347.18,320.44 347.28,313.49 347.39,321.22 347.49,316.37 347.60,316.15 347.70,313.07 347.81,321.37 347.91,317.90 348.02,326.09 348.12,324.74 348.22,321.88 348.33,321.10 348.43,325.43 348.54,322.69 348.64,318.84 348.75,323.05 348.85,322.08 348.96,324.79 349.06,316.83 349.16,315.51 349.27,321.20 349.37,322.43 349.48,316.21 349.58,318.85 349.69,324.70 349.79,327.21 349.90,324.61 350.00,314.81 350.10,324.81 350.21,312.54 350.31,322.90 350.42,323.76 350.52,318.38 350.63,324.05 350.73,321.92 350.84,327.06 350.94,327.87 351.04,326.17 351.15,322.84 351.25,326.09 351.36,330.79 351.46,320.53 351.57,324.58 351.67,325.07 351.78,326.35 351.88,332.26 351.98,318.69 352.09,326.14 352.19,322.64 352.30,319.65 352.40,320.67 352.51,323.34 352.61,324.82 352.72,323.85 352.82,321.80 352.92,323.05 353.03,328.38 353.13,322.08 353.24,324.01 353.34,322.96 353.45,324.07 353.55,320.73 353.66,324.96 353.76,322.60 353.86,325.68 353.97,327.96 354.07,329.36 354.18,326.64 354.28,322.35 354.39,317.22 354.49,326.63 354.60,328.24 354.70,328.27 354.80,321.95 354.91,326.24 355.01,328.47 355.12,324.13 355.22,331.54 355.33,326.50 355.43,327.14 355.54,327.54 355.64,331.24 355.74,323.72 355.85,321.30 355.95,332.06 356.06,327.00 356.16,325.21 356.27,319.55 356.37,329.12 356.48,331.08 356.58,327.82 356.68,320.70 356.79,327.68 356.89,327.05 357.00,321.75 357.10,335.72 357.21,335.90 357.31,325.04 357.42,325.58 357.52,333.33 357.62,326.63 357.73,328.39 357.83,327.06 357.94,331.53 358.04,330.35 358.15,331.92 358.25,328.69 358.36,329.75 358.46,323.02 358.57,326.83 358.67,334.72 358.77,327.71 358.88,324.16 358.98,328.32 359.09,325.52 359.19,329.56 359.30,327.00 359.40,332.89 359.51,326.84 359.61,339.49 359.71,325.16 359.82,335.19 359.92,337.39 360.03,328.05 360.13,330.61 360.24,329.65 360.34,328.60 360.45,330.27 360.55,333.38 360.65,329.54 360.76,329.12 360.86,328.66 360.97,323.41 361.07,333.14 361.18,330.35 361.28,328.65 361.39,332.29 361.49,335.02 361.59,334.85 361.70,323.31 361.80,331.89 361.91,328.81 362.01,333.65 362.12,329.51 362.22,333.55 362.33,334.20 362.43,330.86 362.53,331.13 362.64,326.13 362.74,337.20 362.85,329.67 362.95,325.80 363.06,326.74 363.16,333.00 363.27,334.11 363.37,333.50 363.47,330.73 363.58,331.18 363.68,330.66 363.79,329.83 363.89,339.61 364.00,336.07 364.10,336.47 364.21,341.70 364.31,332.56 364.41,331.16 364.52,314.31 364.62,330.47 364.73,332.35 364.83,327.42 364.94,335.12 365.04,331.36 365.15,329.15 365.25,329.87 365.35,331.27 365.46,334.00 365.56,337.22 365.67,333.40 365.77,335.02 365.88,330.50 365.98,333.48 366.09,331.05 366.19,338.81 366.29,329.68 366.40,336.22 366.50,338.79 366.61,338.17 366.71,335.56 366.82,329.38 366.92,330.89 367.03,337.64 367.13,333.21 367.23,333.93 367.34,339.18 367.44,337.17 367.55,340.94 367.65,336.83 367.76,343.20 367.86,336.66 367.97,337.20 368.07,336.75 368.17,336.89 368.28,329.90 368.38,335.29 368.49,333.24 368.59,331.46 368.70,330.98 368.80,331.81 368.91,336.23 369.01,338.21 369.11,337.12 369.22,336.07 369.32,334.42 369.43,334.79 369.53,330.63 369.64,334.93 369.74,328.25 369.85,330.99 369.95,336.40 370.05,331.68 370.16,344.97 370.26,329.93 370.37,333.40 370.47,333.49 370.58,340.91 370.68,326.04 370.79,335.92 370.89,335.57 370.99,331.11 371.10,335.83 371.20,338.20 371.31,332.88 371.41,338.85 371.52,332.66 371.62,334.85 371.73,331.38 371.83,339.71 371.93,331.04 372.04,334.45 372.14,328.53 372.25,337.88 372.35,329.03 372.46,333.15 372.56,332.89 372.67,340.88 372.77,333.78 372.87,333.42 372.98,338.78 373.08,339.97 373.19,338.65 373.29,330.76 373.40,335.43 373.50,332.70 373.61,335.04 373.71,335.27 373.81,335.35 373.92,337.63 374.02,331.88 374.13,325.67 374.23,335.48 374.34,341.22 374.44,335.26 374.55,338.78 374.65,338.20 374.75,332.78 374.86,340.36 374.96,337.24 375.07,334.34 375.17,332.52 375.28,338.47 375.38,335.54 375.49,335.69 375.59,340.74 375.69,344.36 375.80,350.47 375.90,334.72 376.01,336.52 376.11,341.66 376.22,339.22 376.32,338.40 376.43,338.28 376.53,337.16 376.63,329.27 376.74,339.89 376.84,336.64 376.95,339.91 377.05,339.45 377.16,340.37 377.26,338.10 377.37,339.28 377.47,336.12 377.57,336.63 377.68,340.58 377.78,330.66 377.89,341.63 377.99,336.26 378.10,329.87 378.20,340.11 378.31,332.92 378.41,332.62 378.51,336.48 378.62,344.26 378.72,332.71 378.83,337.45 378.93,339.74 379.04,333.32 379.14,340.44 379.25,334.13 379.35,339.87 379.46,336.07 379.56,341.81 379.66,339.43 379.77,341.30 379.87,340.61 379.98,337.46 380.08,338.76 380.19,337.52 380.29,329.13 380.40,338.65 380.50,344.86 380.60,339.32 380.71,338.05 380.81,334.76 380.92,334.74 381.02,335.06 381.13,339.26 381.23,336.20 381.34,343.62 381.44,333.97 381.54,337.02 381.65,336.81 381.75,339.98 381.86,338.47 381.96,341.06 382.07,336.72 382.17,348.16 382.28,335.34 382.38,336.89 382.48,331.67 382.59,339.01 382.69,339.23 382.80,338.24 382.90,338.83 383.01,339.36 383.11,342.92 383.22,342.96 383.32,341.08 383.42,340.13 383.53,343.33 383.63,343.27 383.74,340.19 383.84,336.59 383.95,340.59 384.05,336.87 384.16,335.85 384.26,336.60 384.36,340.84 384.47,340.81 384.57,346.01 384.68,341.85 384.78,337.81 384.89,343.34 384.99,334.73 385.10,334.47 385.20,340.88 385.30,336.34 385.41,344.64 385.51,343.37 385.62,342.32 385.72,339.68 385.83,341.05 385.93,342.82 386.04,332.83 386.14,338.79 386.24,338.83 386.35,337.46 386.45,339.28 386.56,340.74 386.66,341.92 386.77,345.77 386.87,334.72 386.98,343.29 387.08,345.94 387.18,342.94 387.29,351.45 387.39,333.08 387.50,338.87 387.60,335.20 387.71,335.07 387.81,338.23 387.92,338.24 388.02,342.85 388.12,340.62 388.23,342.48 388.33,340.22 388.44,342.87 388.54,335.94 388.65,337.74 388.75,340.85 388.86,346.41 388.96,338.10 389.06,337.42 389.17,340.82 389.27,345.06 389.38,339.10 389.48,336.94 389.59,354.24 389.69,338.70 389.80,347.15 389.90,340.47 390.00,334.60 390.11,340.48 390.21,339.13 390.32,341.99 390.42,340.90 390.53,332.59 390.63,336.21 390.74,337.89 390.84,342.32 390.94,340.94 391.05,333.27 391.15,340.31 391.26,337.14 391.36,342.39 391.47,345.62 391.57,336.47 391.68,341.44 391.78,343.97 391.88,343.67 391.99,343.62 392.09,345.56 392.20,346.73 392.30,337.08 392.41,339.99 392.51,337.92 392.62,342.60 392.72,340.19 392.82,340.85 392.93,337.32 393.03,338.61 393.14,340.24 393.24,343.82 393.35,345.80 393.45,347.22 393.56,343.84 393.66,343.53 393.76,350.37 393.87,335.82 393.97,340.75 394.08,348.83 394.18,345.60 394.29,346.49 394.39,340.95 394.50,338.06 394.60,345.31 394.70,339.68 394.81,342.86 394.91,337.86 395.02,337.12 395.12,340.86 395.23,339.45 395.33,342.01 395.44,343.34 395.54,346.14 395.64,340.92 395.75,342.34 395.85,343.47 395.96,342.41 396.06,342.81 396.17,345.83 396.27,344.06 396.38,338.21 396.48,343.07 396.58,337.37 396.69,346.35 396.79,347.08 396.90,341.45 397.00,336.91 397.11,347.00 397.21,340.21 397.32,339.15 397.42,338.68 397.52,343.26 397.63,342.68 397.73,348.32 397.84,342.46 397.94,341.58 398.05,337.63 398.15,351.54 398.26,345.60 398.36,349.68 398.46,339.52 398.57,351.57 398.67,346.52 398.78,335.51 398.88,340.46 398.99,347.45 399.09,343.02 399.20,339.86 399.30,340.92 399.40,343.65 399.51,345.67 399.61,340.00 399.72,342.96 399.82,340.12 399.93,341.59 400.03,344.64 400.14,337.97 400.24,344.79 400.35,341.56 400.45,345.30 400.55,343.92 400.66,344.01 400.76,345.47 400.87,342.34 400.97,338.61 401.08,336.71 401.18,338.21 401.29,343.86 401.39,338.18 401.49,341.84 401.60,337.03 401.70,347.75 401.81,338.18 401.91,345.48 402.02,339.36 402.12,345.06 402.23,340.26 402.33,344.46 402.43,350.06 402.54,346.90 402.64,344.38 402.75,343.47 402.85,351.40 402.96,347.78 403.06,346.17 403.17,344.38 403.27,342.89 403.37,346.55 403.48,349.00 403.58,342.66 403.69,344.90 403.79,340.66 403.90,345.62 404.00,341.55 404.11,346.93 404.21,342.91 404.31,343.55 404.42,342.32 404.52,347.17 404.63,344.35 404.73,346.91 404.84,344.53 404.94,341.82 405.05,333.59 405.15,343.91 405.25,341.55 405.36,343.67 405.46,340.13 405.57,342.50 405.67,340.48 405.78,342.91 405.88,335.80 405.99,339.38 406.09,350.15 406.19,343.18 406.30,343.70 406.40,351.96 406.51,347.29 406.61,345.91 406.72,346.89 406.82,343.89 406.93,350.62 407.03,341.78 407.13,341.70 407.24,343.19 407.34,345.59 407.45,344.44 407.55,346.10 407.66,340.51 407.76,342.76 407.87,337.60 407.97,345.84 408.07,339.52 408.18,346.60 408.28,345.21 408.39,348.27 408.49,342.83 408.60,344.88 408.70,340.35 408.81,339.52 408.91,344.93 409.01,343.43 409.12,338.49 409.22,344.99 409.33,346.71 409.43,343.58 409.54,343.10 409.64,342.15 409.75,341.99 409.85,347.23 409.95,343.38 410.06,340.66 410.16,346.58 410.27,343.72 410.37,347.15 410.48,344.44 410.58,339.00 410.69,344.46 410.79,348.44 410.89,343.90 411.00,344.37 411.10,341.26 411.21,349.93 411.31,351.52 411.42,345.71 411.52,350.61 411.63,341.28 411.73,352.29 411.83,348.16 411.94,350.42 412.04,347.59 412.15,342.54 412.25,343.25 412.36,342.15 412.46,343.29 412.57,352.47 412.67,344.37 412.77,351.86 412.88,347.21 412.98,346.84 413.09,347.39 413.19,343.81 413.30,348.35 413.40,339.54 413.51,343.49 413.61,341.49 413.71,342.98 413.82,342.53 413.92,345.80 414.03,338.84 414.13,349.34 414.24,344.10 414.34,345.71 414.45,346.52 414.55,344.65 414.65,348.38 414.76,339.73 414.86,343.09 414.97,345.50 415.07,343.29 415.18,349.48 415.28,352.17 415.39,347.92 415.49,346.75 415.59,337.29 415.70,346.76 415.80,338.78 415.91,340.10 416.01,338.69 416.12,345.63 416.22,343.79 416.33,346.75 416.43,349.10 416.53,349.60 416.64,348.85 416.74,341.19 416.85,345.18 416.95,346.72 417.06,346.14 417.16,350.11 417.27,346.36 417.37,346.51 417.47,344.01 417.58,343.13 417.68,351.99 417.79,345.53 417.89,341.58 418.00,349.91 418.10,347.25 418.21,345.82 418.31,338.75 418.41,344.37 418.52,347.22 418.62,344.74 418.73,342.90 418.83,345.16 418.94,340.08 419.04,345.08 419.15,350.21 419.25,349.30 419.35,347.07 419.46,347.34 419.56,344.48 419.67,345.42 419.77,334.73 419.88,343.87 419.98,336.36 420.09,349.37 420.19,348.22 420.29,344.38 420.40,346.46 420.50,344.61 420.61,345.94 420.71,348.98 420.82,340.93 420.92,342.90 421.03,352.27 421.13,349.03 421.24,346.83 421.34,344.57 421.44,347.39 421.55,351.69 421.65,344.10 421.76,347.72 421.86,342.84 421.97,344.87 422.07,343.57 422.18,341.21 422.28,334.68 422.38,348.86 422.49,343.55 422.59,346.42 422.70,351.47 422.80,348.53 422.91,348.35 423.01,345.57 423.12,342.40 423.22,351.09 423.32,344.74 423.43,347.49 423.53,350.94 423.64,344.41 423.74,352.51 423.85,351.46 423.95,344.73 424.06,344.25 424.16,349.66 424.26,343.74 424.37,343.94 424.47,349.22 424.58,340.53 424.68,347.66 424.79,345.84 424.89,355.75 425.00,345.31 425.10,349.67 425.20,344.41 425.31,353.48 425.41,343.58 425.52,342.56 425.62,341.07 425.73,357.84 425.83,342.41 425.94,346.47 426.04,358.13 426.14,350.22 426.25,348.00 426.35,342.80 426.46,350.62 426.56,347.04 426.67,347.96 426.77,346.51 426.88,350.43 426.98,344.72 427.08,344.46 427.19,352.55 427.29,343.98 427.40,350.46 427.50,348.84 427.61,344.01 427.71,347.58 427.82,345.94 427.92,345.22 428.02,345.89 428.13,349.84 428.23,351.28 428.34,345.65 428.44,345.40 428.55,346.80 428.65,348.70 428.76,345.10 428.86,348.17 428.96,352.83 429.07,347.14 429.17,344.48 429.28,345.46 429.38,351.24 429.49,350.77 429.59,347.04 429.70,351.11 429.80,348.45 429.90,344.98 430.01,346.88 430.11,341.95 430.22,347.26 430.32,336.27 430.43,344.62 430.53,339.51 430.64,348.26 430.74,348.62 430.84,343.83 430.95,350.13 431.05,349.96 431.16,347.52 431.26,347.08 431.37,353.24 431.47,347.53 431.58,349.49 431.68,348.52 431.78,347.84 431.89,349.12 431.99,340.79 432.10,346.80 432.20,349.14 432.31,348.24 432.41,341.05 432.52,345.82 432.62,344.18 432.72,349.19 432.83,348.09 432.93,341.65 433.04,348.72 433.14,342.82 433.25,345.71 433.35,350.11 433.46,353.46 433.56,346.47 433.66,351.10 433.77,351.13 433.87,354.66 433.98,344.63 434.08,348.38 434.19,348.66 434.29,347.41 434.40,347.94 434.50,348.47 434.60,347.03 434.71,349.77 434.81,357.73 434.92,346.32 435.02,347.41 435.13,348.81 435.23,343.44 435.34,353.72 435.44,358.90 435.54,343.83 435.65,347.54 435.75,354.64 435.86,350.41 435.96,346.89 436.07,353.21 436.17,347.14 436.28,341.78 436.38,344.30 436.48,349.21 436.59,348.01 436.69,352.40 436.80,347.88 436.90,350.31 437.01,352.60 437.11,353.82 437.22,337.63 437.32,348.94 437.42,352.77 437.53,350.72 437.63,344.16 437.74,343.72 437.84,351.43 437.95,348.66 438.05,346.28 438.16,350.56 438.26,353.43 438.36,352.75 438.47,348.98 438.57,352.09 438.68,353.91 438.78,350.28 438.89,346.28 438.99,347.15 439.10,350.30 439.20,342.97 439.30,352.25 439.41,349.82 439.51,354.28 439.62,346.92 439.72,350.05 439.83,360.85 439.93,352.50 440.04,336.96 440.14,347.20 440.24,349.32 440.35,343.42 440.45,355.23 440.56,352.60 440.66,354.33 440.77,352.63 440.87,351.12 440.98,348.00 441.08,346.37 441.18,346.49 441.29,340.64 441.39,351.59 441.50,349.97 441.60,348.17 441.71,352.79 441.81,350.95 441.92,348.57 442.02,353.03 442.13,348.39 442.23,345.81 442.33,353.88 442.44,357.92 442.54,349.79 442.65,353.68 442.75,348.60 442.86,351.68 442.96,349.10 443.07,346.27 443.17,347.37 443.27,351.43 443.38,354.24 443.48,358.78 443.59,357.74 443.69,353.02 443.80,349.34 443.90,352.65 444.01,352.40 444.11,355.87 444.21,356.08 444.32,356.36 444.42,348.31 444.53,357.29 444.63,348.18 444.74,353.64 444.84,348.71 444.95,349.76 445.05,348.02 445.15,346.55 445.26,353.37 445.36,354.04 445.47,352.23 445.57,353.41 445.68,348.50 445.78,351.20 445.89,350.71 445.99,349.42 446.09,352.50 446.20,347.12 446.30,357.25 446.41,350.14 446.51,349.24 446.62,353.62 446.72,353.39 446.83,344.76 446.93,353.21 447.03,357.68 447.14,355.73 447.24,347.62 447.35,354.15 447.45,342.09 447.56,346.43 447.66,351.86 447.77,349.31 447.87,354.05 447.97,352.61 448.08,353.65 448.18,349.22 448.29,355.69 448.39,351.74 448.50,351.14 448.60,349.54 448.71,365.98 448.81,357.53 448.91,354.41 449.02,352.17 449.12,350.93 449.23,350.77 449.33,344.50 449.44,349.21 449.54,349.46 449.65,353.18 449.75,348.82 449.85,349.15 449.96,349.24 450.06,351.96 450.17,349.44 450.27,346.35 450.38,357.15 450.48,359.08 450.59,348.83 450.69,349.14 450.79,352.48 450.90,353.23 451.00,342.22 451.11,353.34 451.21,355.95 451.32,353.41 451.42,350.06 451.53,353.91 451.63,353.16 451.73,350.78 451.84,353.33 451.94,351.43 452.05,352.03 452.15,359.27 452.26,351.67 452.36,355.93 452.47,348.74 452.57,355.17 452.67,352.80 452.78,358.25 452.88,353.55 452.99,356.33 453.09,346.91 453.20,352.48 453.30,350.28 453.41,358.11 453.51,356.37 453.61,352.71 453.72,356.81 453.82,348.23 453.93,353.56 454.03,351.68 454.14,351.16 454.24,353.33 454.35,349.58 454.45,354.57 454.55,351.01 454.66,348.18 454.76,351.57 454.87,351.89 454.97,353.48 455.08,352.15 455.18,350.05 455.29,353.22 455.39,358.16 455.49,351.85 455.60,352.94 455.70,350.84 455.81,352.32 455.91,347.09 456.02,356.61 456.12,355.83 456.23,350.29 456.33,356.06 456.43,351.44 456.54,352.63 456.64,359.30 456.75,350.32 456.85,347.94 456.96,351.31 457.06,357.43 457.17,349.98 457.27,359.88 457.37,353.11 457.48,351.30 457.58,355.39 457.69,364.38 457.79,353.83 457.90,352.92 458.00,355.70 458.11,355.47 458.21,350.30 458.31,353.15 458.42,354.45 458.52,354.90 458.63,352.31 458.73,352.58 458.84,354.20 458.94,357.66 459.05,354.21 459.15,355.10 459.25,352.75 459.36,349.08 459.46,349.79 459.57,350.85 459.67,352.67 459.78,354.15 459.88,351.94 459.99,354.70 460.09,354.26 460.19,355.97 460.30,353.32 460.40,353.41 460.51,346.94 460.61,351.31 460.72,354.47 460.82,350.59 460.93,356.54 461.03,349.83 461.13,350.63 461.24,343.51 461.34,356.94 461.45,353.55 461.55,353.70 461.66,352.33 461.76,350.95 461.87,360.05 461.97,355.82 462.07,352.37 462.18,350.15 462.28,357.19 462.39,358.65 462.49,345.88 462.60,350.63 462.70,349.83 462.81,356.76 462.91,354.18 463.02,352.76 463.12,352.06 463.22,353.95 463.33,353.73 463.43,350.19 463.54,355.05 463.64,355.44 463.75,355.06 463.85,355.35 463.96,353.21 464.06,354.37 464.16,355.15 464.27,348.94 464.37,352.70 464.48,356.10 464.58,349.52 464.69,355.59 464.79,353.77 464.90,354.09 465.00,355.71 465.10,355.09 465.21,353.55 465.31,358.62 465.42,355.15 465.52,353.04 465.63,352.97 465.73,352.91 465.84,346.13 465.94,351.72 466.04,354.42 466.15,354.36 466.25,353.98 466.36,352.54 466.46,354.99 466.57,344.14 466.67,357.69 466.78,351.95 466.88,350.85 466.98,357.86 467.09,352.01 467.19,352.26 467.30,356.24 467.40,346.48 467.51,351.80 467.61,355.25 467.72,355.76 467.82,356.65 467.92,353.35 468.03,354.02 468.13,358.90 468.24,357.69 468.34,356.63 468.45,357.07 468.55,355.49 468.66,356.51 468.76,352.21 468.86,351.21 468.97,354.11 469.07,368.97 469.18,354.90 469.28,352.55 469.39,354.68 469.49,353.53 469.60,354.10 469.70,359.37 469.80,371.28 469.91,352.44 470.01,356.22 470.12,353.15 470.22,355.53 470.33,355.11 470.43,350.05 470.54,358.52 470.64,354.62 470.74,358.20 470.85,353.98 470.95,353.06 471.06,352.50 471.16,353.80 471.27,359.22 471.37,353.88 471.48,351.76 471.58,351.44 471.68,347.68 471.79,352.89 471.89,358.11 472.00,356.48 472.10,354.51 472.21,351.36 472.31,358.57 472.42,351.82 472.52,352.70 472.62,357.72 472.73,352.87 472.83,357.40 472.94,354.91 473.04,355.91 473.15,354.15 473.25,362.84 473.36,353.22 473.46,369.39 473.56,356.32 473.67,356.86 473.77,349.83 473.88,353.26 473.98,356.64 474.09,357.99 474.19,354.95 474.30,357.15 474.40,347.74 474.50,364.24 474.61,354.91 474.71,363.22 474.82,351.74 474.92,357.81 475.03,349.90 475.13,356.99 475.24,351.65 475.34,354.55 475.44,347.59 475.55,355.17 475.65,365.04 475.76,357.66 475.86,360.41 475.97,352.19 476.07,353.55 476.18,355.31 476.28,353.85 476.38,354.71 476.49,357.25 476.59,348.95 476.70,354.61 476.80,356.82 476.91,360.25 477.01,357.49 477.12,355.42 477.22,356.06 477.32,357.05 477.43,355.96 477.53,359.21 477.64,355.50 477.74,360.63 477.85,358.38 477.95,360.56 478.06,352.72 478.16,353.98 478.26,355.36 478.37,359.41 478.47,356.95 478.58,353.01 478.68,351.54 478.79,360.53 478.89,357.11 479.00,355.35 479.10,354.56 479.20,355.70 479.31,353.54 479.41,360.51 479.52,345.64 479.62,359.55 479.73,355.60 479.83,354.08 479.94,351.97 480.04,352.85 480.14,352.97 480.25,351.64 480.35,356.36 480.46,353.40 480.56,350.81 480.67,358.40 480.77,360.53 480.88,359.24 480.98,351.28 481.08,351.85 481.19,357.14 481.29,355.16 481.40,354.42 481.50,352.53 481.61,362.22 481.71,359.80 481.82,356.89 481.92,354.99 482.02,355.81 482.13,357.11 482.23,355.12 482.34,364.59 482.44,345.94 482.55,353.40 482.65,353.20 482.76,358.31 482.86,354.78 482.96,349.37 483.07,350.16 483.17,355.94 483.28,360.31 483.38,355.68 483.49,357.22 483.59,353.42 483.70,360.49 483.80,356.89 483.91,355.38 484.01,357.84 484.11,352.81 484.22,360.08 484.32,360.42 484.43,357.50 484.53,353.61 484.64,357.37 484.74,360.36 484.85,353.73 484.95,355.66 485.05,358.17 485.16,356.02 485.26,357.24 485.37,354.44 485.47,356.00 485.58,361.84 485.68,358.09 485.79,357.89 485.89,355.30 485.99,355.30 486.10,359.31 486.20,357.20 486.31,355.56 486.41,352.95 486.52,355.78 486.62,343.74 486.73,356.55 486.83,354.21 486.93,357.75 487.04,359.98 487.14,356.34 487.25,355.10 487.35,355.64 487.46,356.25 487.56,357.85 487.67,359.48 487.77,357.77 487.87,355.23 487.98,353.63 488.08,378.71 488.19,354.80 488.29,353.25 488.40,352.66 488.50,355.60 488.61,354.65 488.71,358.37 488.81,357.55 488.92,355.17 489.02,360.57 489.13,359.57 489.23,356.30 489.34,361.40 489.44,356.70 489.55,361.93 489.65,356.36 489.75,356.93 489.86,358.91 489.96,360.18 490.07,358.75 490.17,364.52 490.28,358.41 490.38,356.71 490.49,353.12 490.59,358.82 490.69,357.72 490.80,352.54 490.90,351.40 491.01,360.49 491.11,353.72 491.22,353.30 491.32,355.51 491.43,360.51 491.53,360.38 491.63,355.34 491.74,349.52 491.84,357.88 491.95,352.09 492.05,351.02 492.16,365.69 492.26,359.33 492.37,352.33 492.47,354.12 492.57,355.55 492.68,357.43 492.78,355.31 492.89,359.52 492.99,349.11 493.10,361.28 493.20,363.43 493.31,356.98 493.41,352.68 493.51,359.13 493.62,357.69 493.72,360.92 493.83,357.78 493.93,360.93 494.04,360.90 494.14,362.48 494.25,359.41 494.35,351.40 494.45,358.07 494.56,356.99 494.66,350.20 494.77,359.76 494.87,360.99 494.98,355.94 495.08,361.79 495.19,356.60 495.29,353.87 495.39,361.33 495.50,359.48 495.60,352.10 495.71,361.30 495.81,360.05 495.92,357.00 496.02,358.86 496.13,360.66 496.23,352.51 496.33,356.56 496.44,356.76 496.54,360.68 496.65,358.65 496.75,362.48 496.86,354.82 496.96,359.36 497.07,353.69 497.17,361.83 497.27,359.58 497.38,356.38 497.48,357.32 497.59,360.19 497.69,358.47 497.80,362.35 497.90,357.86 498.01,366.89 498.11,357.49 498.21,353.56 498.32,355.11 498.42,352.49 498.53,359.52 498.63,356.49 498.74,359.48 498.84,358.46 498.95,358.50 499.05,380.71 499.15,352.10 499.26,356.69 499.36,355.41 499.47,361.40 499.57,355.93 499.68,356.65 499.78,365.72 499.89,364.16 499.99,358.12 500.09,360.52 500.20,358.38 500.30,362.67 500.41,353.36 500.51,364.70 500.62,362.92 500.72,361.64 500.83,362.95 500.93,362.34 501.03,358.52 501.14,367.45 501.24,357.23 501.35,354.08 501.45,351.23 501.56,351.79 501.66,354.71 501.77,358.77 501.87,352.57 501.97,356.17 502.08,352.28 502.18,359.19 502.29,365.57 502.39,362.46 502.50,357.98 502.60,356.76 502.71,359.29 502.81,355.27 502.91,366.34 503.02,360.98 503.12,355.35 503.23,358.35 503.33,358.35 503.44,353.98 503.54,355.03 503.65,361.35 503.75,358.04 503.85,364.40 503.96,358.77 504.06,357.44 504.17,364.54 504.27,353.55 504.38,352.11 504.48,357.13 504.59,355.71 504.69,353.80 504.80,359.40 504.90,351.89 505.00,357.56 505.11,363.96 505.21,361.87 505.32,360.76 505.42,355.31 505.53,358.56 505.63,355.61 505.74,360.49 505.84,363.19 505.94,352.05 506.05,340.76 506.15,357.68 506.26,359.64 506.36,355.02 506.47,362.69 506.57,359.71 506.68,363.81 506.78,357.42 506.88,358.22 506.99,360.40 507.09,361.24 507.20,364.15 507.30,361.85 507.41,350.89 507.51,360.30 507.62,354.93 507.72,362.04 507.82,359.43 507.93,362.23 508.03,360.05 508.14,356.62 508.24,366.06 508.35,356.75 508.45,356.91 508.56,359.22 508.66,359.00 508.76,360.00 508.87,356.97 508.97,359.10 509.08,362.13 509.18,358.81 509.29,356.14 509.39,358.10 509.50,359.25 509.60,358.68 509.70,361.03 509.81,360.92 509.91,365.68 510.02,360.02 510.12,356.14 510.23,360.73 510.33,362.47 510.44,356.47 510.54,358.93 510.64,359.01 510.75,357.93 510.85,357.18 510.96,359.66 511.06,362.30 511.17,353.76 511.27,359.37 511.38,362.14 511.48,358.97 511.58,355.63 511.69,364.31 511.79,355.27 511.90,360.52 512.00,346.38 512.11,357.44 512.21,360.02 512.32,351.34 512.42,355.47 512.52,360.86 512.63,358.94 512.73,361.43 512.84,356.69 512.94,364.41 513.05,360.34 513.15,366.83 513.26,357.83 513.36,374.54 513.46,363.31 513.57,358.94 513.67,361.00 513.78,361.31 513.88,363.05 513.99,361.41 514.09,365.68 514.20,358.82 514.30,357.24" fill="none" stroke="#3565c0" stroke-width="1.0" stroke-linejoin="round" opacity="1.0"/>
<polyline points="305.40,371.46 305.50,393.53 305.61,383.30 305.71,405.36 305.82,389.62 305.92,385.16 306.03,399.06 306.13,401.96 306.24,389.28 306.34,383.82 306.44,382.79 306.55,393.95 306.65,387.79 306.76,398.29 306.86,379.44 306.97,393.28 307.07,382.25 307.18,391.48 307.28,391.84 307.38,370.46 307.49,395.08 307.59,382.14 307.70,392.00 307.80,395.13 307.91,394.89 308.01,383.13 308.12,390.36 308.22,392.00 308.32,398.91 308.43,382.85 308.53,383.60 308.64,387.95 308.74,385.23 308.85,409.34 308.95,393.07 309.06,388.92 309.16,389.26 309.26,393.30 309.37,388.47 309.47,394.27 309.58,393.82 309.68,397.36 309.79,389.07 309.89,394.22 310.00,392.91 310.10,381.59 310.20,390.16 310.31,390.33 310.41,399.11 310.52,393.04 310.62,384.01 310.73,383.29 310.83,389.58 310.94,390.96 311.04,389.50 311.14,387.51 311.25,391.85 311.35,404.82 311.46,366.32 311.56,383.09 311.67,390.83 311.77,372.98 311.88,405.57 311.98,382.17 312.08,388.76 312.19,384.57 312.29,391.97 312.40,389.00 312.50,386.40 312.61,377.33 312.71,386.82 312.82,387.24 312.92,393.45 313.02,379.60 313.13,388.65 313.23,391.26 313.34,391.85 313.44,397.12 313.55,394.33 313.65,399.04 313.76,388.68 313.86,390.39 313.96,388.59 314.07,397.40 314.17,392.44 314.28,393.75 314.38,378.02 314.49,398.85 314.59,399.02 314.70,382.20 314.80,387.74 314.90,399.31 315.01,381.81 315.11,380.95 315.22,383.06 315.32,402.28 315.43,389.19 315.53,395.10 315.64,391.50 315.74,399.39 315.84,379.51 315.95,394.06 316.05,388.25 316.16,385.08 316.26,386.23 316.37,387.44 316.47,392.26 316.58,388.59 316.68,391.24 316.79,403.55 316.89,383.91 316.99,393.68 317.10,393.04 317.20,392.39 317.31,398.25 317.41,397.19 317.52,400.74 317.62,387.11 317.73,382.83 317.83,389.47 317.93,396.79 318.04,382.08 318.14,391.84 318.25,399.48 318.35,401.21 318.46,388.83 318.56,372.62 318.67,392.23 318.77,393.73 318.87,391.57 318.98,395.02 319.08,393.21 319.19,388.41 319.29,394.27 319.40,384.34 319.50,395.80 319.61,385.68 319.71,387.86 319.81,392.25 319.92,391.72 320.02,391.89 320.13,379.86 320.23,394.79 320.34,382.81 320.44,383.88 320.55,391.97 320.65,380.23 320.75,404.21 320.86,387.03 320.96,388.43 321.07,389.82 321.17,384.92 321.28,392.34 321.38,391.06 321.49,376.18 321.59,390.63 321.69,396.14 321.80,386.52 321.90,390.44 322.01,393.32 322.11,386.63 322.22,394.57 322.32,395.83 322.43,391.51 322.53,391.08 322.63,389.62 322.74,397.17 322.84,379.62 322.95,385.89 323.05,389.09 323.16,387.23 323.26,404.95 323.37,384.40 323.47,396.08 323.57,386.92 323.68,397.11 323.78,384.03 323.89,393.15 323.99,391.22 324.10,380.77 324.20,384.00 324.31,398.19 324.41,394.13 324.51,388.78 324.62,391.34 324.72,385.10 324.83,394.05 324.93,401.20 325.04,395.41 325.14,391.05 325.25,386.65 325.35,385.48 325.45,375.03 325.56,388.53 325.66,391.16 325.77,385.56 325.87,391.18 325.98,392.75 326.08,392.75 326.19,384.37 326.29,381.03 326.39,382.05 326.50,399.53 326.60,383.39 326.71,396.66 326.81,391.99 326.92,252.00 327.02,259.75 327.13,260.69 327.23,260.36 327.33,253.45 327.44,256.66 327.54,267.40 327.65,262.03 327.75,263.10 327.86,262.52 327.96,267.95 328.07,261.75 328.17,268.75 328.27,265.66 328.38,274.88 328.48,268.81 328.59,270.46 328.69,267.22 328.80,281.18 328.90,269.59 329.01,271.29 329.11,275.60 329.21,266.65 329.32,269.06 329.42,273.78 329.53,274.65 329.63,273.46 329.74,277.09 329.84,275.04 329.95,277.70 330.05,282.52 330.15,284.28 330.26,277.38 330.36,279.80 330.47,284.52 330.57,282.68 330.68,278.35 330.78,295.13 330.89,287.14 330.99,279.92 331.09,282.24 331.20,289.31 331.30,289.12 331.41,285.64 331.51,281.89 331.62,286.91 331.72,295.06 331.83,284.24 331.93,288.10 332.03,289.90 332.14,292.58 332.24,285.05 332.35,288.46 332.45,288.32 332.56,287.65 332.66,288.82 332.77,287.78 332.87,285.15 332.97,294.69 333.08,291.68 333.18,293.21 333.29,280.76 333.39,293.19 333.50,297.87 333.60,292.84 333.71,295.44 333.81,295.71 333.91,294.98 334.02,298.09 334.12,300.41 334.23,287.68 334.33,294.84 334.44,300.90 334.54,292.78 334.65,290.63 334.75,301.12 334.85,296.99 334.96,294.77 335.06,298.73 335.17,294.61 335.27,300.44 335.38,300.97 335.48,297.11 335.59,295.46 335.69,296.95 335.79,301.83 335.90,299.93 336.00,304.69 336.11,290.69 336.21,299.35 336.32,299.15 336.42,297.45 336.53,296.60 336.63,297.53 336.73,301.11 336.84,304.54 336.94,299.76 337.05,302.00 337.15,301.34 337.26,299.67 337.36,299.01 337.47,295.66 337.57,300.62 337.68,306.04 337.78,298.48 337.88,297.49 337.99,306.22 338.09,298.86 338.20,300.40 338.30,302.98 338.41,300.74 338.51,300.16 338.62,299.62 338.72,297.91 338.82,301.92 338.93,302.04 339.03,294.09 339.14,305.86 339.24,303.34 339.35,303.74 339.45,300.12 339.56,295.46 339.66,307.36 339.76,298.97 339.87,307.17 339.97,294.62 340.08,305.70 340.18,299.89 340.29,304.60 340.39,301.46 340.50,306.45 340.60,303.63 340.70,304.12 340.81,304.00 340.91,301.78 341.02,306.02 341.12,305.75 341.23,309.18 341.33,305.37 341.44,306.66 341.54,302.18 341.64,303.01 341.75,307.78 341.85,304.00 341.96,301.20 342.06,306.40 342.17,309.72 342.27,297.70 342.38,304.18 342.48,303.79 342.58,297.88 342.69,309.01 342.79,305.44 342.90,312.89 343.00,305.02 343.11,305.45 343.21,309.49 343.32,309.83 343.42,307.67 343.52,307.96 343.63,302.01 343.73,308.21 343.84,308.02 343.94,308.18 344.05,313.03 344.15,309.42 344.26,312.40 344.36,307.57 344.46,315.41 344.57,311.94 344.67,306.61 344.78,322.42 344.88,313.68 344.99,305.25 345.09,313.11 345.20,308.79 345.30,307.83 345.40,312.49 345.51,314.68 345.61,304.04 345.72,312.98 345.82,307.60 345.93,311.95 346.03,308.29 346.14,313.97 346.24,314.27 346.34,316.78 346.45,311.96 346.55,312.05 346.66,311.14 346.76,307.26 346.87,313.82 346.97,307.18 347.08,312.60 347.18,308.26 347.28,306.18 347.39,304.83 347.49,317.36 347.60,305.05 347.70,316.78 347.81,306.24 347.91,311.10 348.02,309.97 348.12,314.38 348.22,308.19 348.33,309.10 348.43,313.31 348.54,313.61 348.64,308.77 348.75,308.26 348.85,309.22 348.96,313.14 349.06,311.93 349.16,305.78 349.27,309.31 349.37,308.41 349.48,311.78 349.58,314.68 349.69,311.44 349.79,310.97 349.90,314.34 350.00,311.14 350.10,315.51 350.21,311.93 350.31,314.88 350.42,305.88 350.52,309.04 350.63,312.21 350.73,317.54 350.84,315.29 350.94,310.98 351.04,313.88 351.15,310.66 351.25,318.78 351.36,318.61 351.46,313.28 351.57,314.43 351.67,318.25 351.78,316.55 351.88,311.33 351.98,315.47 352.09,312.17 352.19,308.65 352.30,313.10 352.40,313.87 352.51,316.35 352.61,310.37 352.72,324.15 352.82,318.23 352.92,314.78 353.03,319.61 353.13,311.50 353.24,316.92 353.34,313.14 353.45,317.05 353.55,315.87 353.66,315.05 353.76,321.71 353.86,318.86 353.97,316.87 354.07,307.96 354.18,310.02 354.28,313.07 354.39,319.01 354.49,312.64 354.60,311.53 354.70,313.23 354.80,307.05 354.91,320.36 355.01,319.51 355.12,316.87 355.22,319.30 355.33,304.79 355.43,314.44 355.54,316.28 355.64,315.65 355.74,315.01 355.85,313.84 355.95,318.68 356.06,318.77 356.16,312.62 356.27,317.79 356.37,319.49 356.48,315.83 356.58,318.01 356.68,316.50 356.79,317.17 356.89,314.91 357.00,314.02 357.10,319.89 357.21,321.24 357.31,311.92 357.42,319.59 357.52,322.53 357.62,323.74 357.73,317.59 357.83,319.68 357.94,323.69 358.04,320.80 358.15,321.23 358.25,314.44 358.36,317.03 358.46,317.91 358.57,322.16 358.67,318.58 358.77,313.67 358.88,317.56 358.98,314.63 359.09,317.94 359.19,313.69 359.30,316.79 359.40,320.25 359.51,313.96 359.61,317.26 359.71,315.77 359.82,322.12 359.92,322.24 360.03,319.28 360.13,321.41 360.24,316.72 360.34,317.47 360.45,314.80 360.55,316.98 360.65,322.75 360.76,312.77 360.86,321.26 360.97,321.59 361.07,318.98 361.18,319.27 361.28,312.43 361.39,309.92 361.49,317.98 361.59,314.59 361.70,320.19 361.80,318.42 361.91,321.31 362.01,321.05 362.12,311.15 362.22,318.23 362.33,318.30 362.43,322.50 362.53,314.19 362.64,320.52 362.74,322.14 362.85,320.09 362.95,317.83 363.06,317.62 363.16,315.27 363.27,323.74 363.37,321.69 363.47,315.11 363.58,312.78 363.68,322.49 363.79,321.13 363.89,325.63 364.00,323.27 364.10,323.52 364.21,320.97 364.31,324.63 364.41,317.62 364.52,320.95 364.62,321.65 364.73,317.78 364.83,321.78 364.94,325.06 365.04,320.89 365.15,313.81 365.25,320.74 365.35,319.37 365.46,321.81 365.56,321.93 365.67,319.57 365.77,330.09 365.88,325.46 365.98,323.36 366.09,322.32 366.19,316.63 366.29,313.35 366.40,319.45 366.50,320.27 366.61,319.37 366.71,316.67 366.82,324.99 366.92,323.40 367.03,321.29 367.13,320.86 367.23,328.20 367.34,320.50 367.44,327.26 367.55,319.47 367.65,319.25 367.76,329.62 367.86,320.47 367.97,321.53 368.07,326.38 368.17,319.11 368.28,315.65 368.38,320.70 368.49,326.02 368.59,327.22 368.70,326.36 368.80,325.90 368.91,318.82 369.01,321.64 369.11,322.73 369.22,319.78 369.32,322.66 369.43,322.64 369.53,325.59 369.64,324.91 369.74,322.78 369.85,330.73 369.95,317.44 370.05,322.58 370.16,324.86 370.26,319.83 370.37,326.63 370.47,319.64 370.58,322.91 370.68,316.98 370.79,325.09 370.89,324.63 370.99,326.15 371.10,327.53 371.20,322.59 371.31,326.98 371.41,322.44 371.52,325.66 371.62,316.63 371.73,332.09 371.83,322.27 371.93,323.53 372.04,323.73 372.14,325.87 372.25,318.00 372.35,325.21 372.46,322.47 372.56,324.79 372.67,325.15 372.77,323.70 372.87,321.79 372.98,327.77 373.08,327.29 373.19,328.82 373.29,322.85 373.40,327.05 373.50,326.73 373.61,322.13 373.71,324.37 373.81,323.02 373.92,324.86 374.02,323.08 374.13,324.18 374.23,328.21 374.34,323.84 374.44,325.72 374.55,325.41 374.65,323.72 374.75,326.51 374.86,328.24 374.96,320.83 375.07,318.68 375.17,325.97 375.28,321.05 375.38,323.62 375.49,327.06 375.59,330.59 375.69,325.93 375.80,326.46 375.90,326.17 376.01,325.52 376.11,328.90 376.22,322.30 376.32,328.96 376.43,328.79 376.53,322.20 376.63,322.78 376.74,320.51 376.84,324.54 376.95,329.76 377.05,321.64 377.16,325.80 377.26,325.92 377.37,331.25 377.47,322.97 377.57,321.48 377.68,323.90 377.78,332.33 377.89,322.81 377.99,330.92 378.10,323.52 378.20,317.59 378.31,326.77 378.41,333.70 378.51,319.45 378.62,327.41 378.72,329.68 378.83,321.83 378.93,335.51 379.04,331.01 379.14,330.49 379.25,328.45 379.35,332.91 379.46,323.46 379.56,322.83 379.66,326.46 379.77,327.68 379.87,331.54 379.98,324.81 380.08,328.73 380.19,324.38 380.29,323.06 380.40,326.34 380.50,333.57 380.60,329.68 380.71,322.04 380.81,325.70 380.92,321.92 381.02,334.13 381.13,327.09 381.23,327.33 381.34,332.19 381.44,328.95 381.54,323.58 381.65,325.06 381.75,330.53 381.86,325.84 381.96,322.99 382.07,330.59 382.17,326.04 382.28,323.57 382.38,329.38 382.48,322.77 382.59,327.80 382.69,323.47 382.80,324.12 382.90,326.35 383.01,328.23 383.11,329.47 383.22,326.75 383.32,326.00 383.42,322.70 383.53,327.70 383.63,326.26 383.74,321.85 383.84,326.42 383.95,326.00 384.05,322.19 384.16,327.28 384.26,326.28 384.36,325.13 384.47,328.06 384.57,331.41 384.68,332.61 384.78,328.44 384.89,320.35 384.99,324.50 385.10,322.42 385.20,321.89 385.30,330.07 385.41,332.79 385.51,329.69 385.62,328.88 385.72,330.51 385.83,324.99 385.93,330.73 386.04,326.18 386.14,325.54 386.24,339.82 386.35,329.62 386.45,324.05 386.56,325.45 386.66,327.89 386.77,332.01 386.87,330.69 386.98,328.09 387.08,324.21 387.18,326.80 387.29,328.76 387.39,327.72 387.50,325.93 387.60,334.39 387.71,331.88 387.81,328.51 387.92,324.61 388.02,325.07 388.12,331.30 388.23,328.65 388.33,331.22 388.44,330.09 388.54,328.33 388.65,330.05 388.75,330.73 388.86,332.78 388.96,334.21 389.06,329.60 389.17,328.35 389.27,326.96 389.38,331.77 389.48,331.48 389.59,320.76 389.69,322.63 389.80,323.33 389.90,331.08 390.00,331.59 390.11,333.07 390.21,325.97 390.32,333.08 390.42,335.08 390.53,331.84 390.63,325.17 390.74,329.29 390.84,328.66 390.94,329.08 391.05,329.64 391.15,330.08 391.26,334.21 391.36,324.04 391.47,330.11 391.57,325.60 391.68,334.85 391.78,327.88 391.88,333.64 391.99,338.40 392.09,328.88 392.20,326.37 392.30,325.27 392.41,325.42 392.51,330.78 392.62,327.29 392.72,331.92 392.82,333.62 392.93,329.17 393.03,330.40 393.14,327.21 393.24,336.15 393.35,326.31 393.45,332.05 393.56,325.23 393.66,326.36 393.76,334.02 393.87,330.38 393.97,327.99 394.08,332.90 394.18,332.76 394.29,331.33 394.39,327.87 394.50,324.40 394.60,333.26 394.70,327.67 394.81,325.56 394.91,327.42 395.02,332.93 395.12,333.32 395.23,329.61 395.33,327.85 395.44,329.18 395.54,331.91 395.64,333.73 395.75,326.47 395.85,331.74 395.96,324.54 396.06,334.56 396.17,331.88 396.27,332.93 396.38,318.65 396.48,326.75 396.58,332.52 396.69,337.29 396.79,327.11 396.90,330.52 397.00,334.71 397.11,335.98 397.21,329.70 397.32,332.44 397.42,330.60 397.52,329.79 397.63,332.35 397.73,332.05 397.84,328.99 397.94,331.96 398.05,332.14 398.15,329.13 398.26,337.82 398.36,327.18 398.46,329.85 398.57,333.88 398.67,331.96 398.78,327.33 398.88,329.59 398.99,337.33 399.09,334.83 399.20,330.30 399.30,319.71 399.40,329.01 399.51,332.22 399.61,329.68 399.72,331.52 399.82,332.64 399.93,330.40 400.03,338.76 400.14,328.37 400.24,329.96 400.35,333.21 400.45,337.44 400.55,335.80 400.66,330.93 400.76,331.37 400.87,331.30 400.97,326.25 401.08,339.21 401.18,334.34 401.29,334.54 401.39,328.87 401.49,332.86 401.60,335.17 401.70,331.39 401.81,330.76 401.91,326.80 402.02,331.31 402.12,333.63 402.23,333.86 402.33,334.91 402.43,330.64 402.54,329.57 402.64,333.05 402.75,332.77 402.85,327.79 402.96,332.04 403.06,330.75 403.17,336.01 403.27,334.45 403.37,339.53 403.48,337.01 403.58,331.30 403.69,328.42 403.79,333.45 403.90,336.54 404.00,332.31 404.11,328.86 404.21,333.20 404.31,329.65 404.42,332.92 404.52,336.81 404.63,335.76 404.73,333.63 404.84,325.27 404.94,330.90 405.05,333.64 405.15,331.92 405.25,331.50 405.36,334.39 405.46,333.30 405.57,333.82 405.67,330.55 405.78,327.87 405.88,328.66 405.99,335.17 406.09,331.27 406.19,335.51 406.30,336.75 406.40,332.92 406.51,331.18 406.61,333.42 406.72,327.76 406.82,330.52 406.93,330.78 407.03,333.82 407.13,337.83 407.24,327.40 407.34,334.95 407.45,330.98 407.55,331.82 407.66,335.73 407.76,327.44 407.87,331.27 407.97,333.57 408.07,336.29 408.18,336.76 408.28,337.77 408.39,331.73 408.49,335.09 408.60,335.16 408.70,332.02 408.81,334.86 408.91,331.58 409.01,335.87 409.12,335.50 409.22,330.77 409.33,336.08 409.43,331.84 409.54,330.53 409.64,333.87 409.75,339.38 409.85,338.27 409.95,341.18 410.06,338.24 410.16,331.17 410.27,336.91 410.37,338.15 410.48,335.76 410.58,334.43 410.69,339.63 410.79,332.17 410.89,331.80 411.00,336.17 411.10,331.57 411.21,339.37 411.31,336.09 411.42,334.84 411.52,334.09 411.63,330.57 411.73,335.46 411.83,337.72 411.94,333.71 412.04,333.42 412.15,331.52 412.25,335.58 412.36,333.94 412.46,336.41 412.57,332.71 412.67,336.75 412.77,336.64 412.88,330.80 412.98,337.15 413.09,334.66 413.19,332.83 413.30,335.76 413.40,331.77 413.51,336.67 413.61,331.44 413.71,339.92 413.82,339.27 413.92,334.64 414.03,330.19 414.13,329.61 414.24,337.74 414.34,335.15 414.45,336.58 414.55,342.02 414.65,330.27 414.76,336.27 414.86,330.57 414.97,334.17 415.07,336.85 415.18,337.40 415.28,335.77 415.39,333.69 415.49,338.42 415.59,326.03 415.70,334.56 415.80,338.99 415.91,335.02 416.01,328.08 416.12,333.93 416.22,336.44 416.33,337.55 416.43,337.99 416.53,339.31 416.64,337.14 416.74,334.61 416.85,337.35 416.95,324.86 417.06,330.50 417.16,337.01 417.27,335.69 417.37,330.80 417.47,341.21 417.58,334.87 417.68,318.11 417.79,332.41 417.89,338.68 418.00,335.33 418.10,336.53 418.21,326.66 418.31,338.01 418.41,336.72 418.52,336.93 418.62,340.54 418.73,346.71 418.83,337.48 418.94,334.25 419.04,337.38 419.15,334.36 419.25,333.53 419.35,333.74 419.46,341.61 419.56,331.12 419.67,333.27 419.77,333.48 419.88,336.10 419.98,336.17 420.09,337.96 420.19,334.82 420.29,333.20 420.40,338.12 420.50,333.58 420.61,339.35 420.71,334.37 420.82,336.81 420.92,330.72 421.03,330.05 421.13,335.65 421.24,338.03 421.34,339.25 421.44,334.42 421.55,338.11 421.65,333.29 421.76,335.55 421.86,333.58 421.97,326.38 422.07,339.73 422.18,339.05 422.28,335.33 422.38,341.81 422.49,334.40 422.59,343.45 422.70,338.90 422.80,337.28 422.91,342.76 423.01,340.79 423.12,341.72 423.22,337.06 423.32,337.64 423.43,334.43 423.53,339.65 423.64,342.26 423.74,338.72 423.85,336.52 423.95,336.66 424.06,336.44 424.16,333.01 424.26,338.20 424.37,337.75 424.47,339.85 424.58,340.98 424.68,333.69 424.79,335.95 424.89,345.74 425.00,333.22 425.10,343.74 425.20,338.57 425.31,334.05 425.41,336.84 425.52,335.45 425.62,331.59 425.73,336.35 425.83,341.47 425.94,336.16 426.04,339.68 426.14,345.35 426.25,338.39 426.35,335.65 426.46,337.08 426.56,337.42 426.67,331.81 426.77,336.64 426.88,334.55 426.98,336.50 427.08,332.19 427.19,338.83 427.29,333.76 427.40,331.68 427.50,338.90 427.61,334.26 427.71,342.17 427.82,336.70 427.92,335.34 428.02,343.20 428.13,343.68 428.23,337.65 428.34,338.91 428.44,337.24 428.55,336.91 428.65,335.15 428.76,332.78 428.86,336.51 428.96,342.97 429.07,333.49 429.17,335.37 429.28,337.53 429.38,332.82 429.49,337.17 429.59,339.24 429.70,336.55 429.80,343.35 429.90,334.98 430.01,337.94 430.11,332.61 430.22,335.92 430.32,336.96 430.43,337.60 430.53,342.11 430.64,338.51 430.74,337.29 430.84,335.05 430.95,336.89 431.05,336.04 431.16,336.09 431.26,340.09 431.37,337.38 431.47,339.11 431.58,342.53 431.68,343.40 431.78,335.74 431.89,328.95 431.99,333.83 432.10,341.30 432.20,333.61 432.31,333.44 432.41,341.07 432.52,336.99 432.62,333.01 432.72,338.33 432.83,334.76 432.93,340.70 433.04,339.80 433.14,335.83 433.25,339.27 433.35,338.33 433.46,338.46 433.56,342.15 433.66,333.91 433.77,339.28 433.87,340.87 433.98,340.33 434.08,338.68 434.19,341.97 434.29,336.09 434.40,340.07 434.50,336.38 434.60,341.87 434.71,342.36 434.81,342.06 434.92,337.43 435.02,343.42 435.13,336.34 435.23,340.21 435.34,336.20 435.44,340.42 435.54,333.74 435.65,342.58 435.75,342.84 435.86,337.31 435.96,341.08 436.07,335.82 436.17,341.60 436.28,337.66 436.38,342.05 436.48,345.10 436.59,334.70 436.69,340.11 436.80,336.26 436.90,338.89 437.01,345.12 437.11,338.22 437.22,335.98 437.32,335.31 437.42,334.19 437.53,338.31 437.63,339.96 437.74,339.41 437.84,347.22 437.95,337.27 438.05,337.33 438.16,338.58 438.26,342.29 438.36,337.65 438.47,341.60 438.57,335.71 438.68,341.83 438.78,341.58 438.89,340.92 438.99,343.28 439.10,342.86 439.20,341.72 439.30,348.05 439.41,333.41 439.51,338.78 439.62,339.07 439.72,342.95 439.83,339.44 439.93,340.08 440.04,339.79 440.14,345.00 440.24,340.54 440.35,346.39 440.45,341.44 440.56,343.14 440.66,342.24 440.77,341.33 440.87,337.52 440.98,336.28 441.08,340.23 441.18,343.90 441.29,335.47 441.39,349.59 441.50,342.23 441.60,341.14 441.71,342.89 441.81,336.08 441.92,337.80 442.02,336.97 442.13,341.51 442.23,337.69 442.33,341.08 442.44,341.08 442.54,339.63 442.65,339.35 442.75,338.78 442.86,341.39 442.96,350.58 443.07,341.78 443.17,349.60 443.27,341.72 443.38,343.48 443.48,338.11 443.59,349.78 443.69,334.25 443.80,342.01 443.90,346.16 444.01,339.52 444.11,339.33 444.21,338.14 444.32,333.79 444.42,346.48 444.53,340.05 444.63,340.55 444.74,343.31 444.84,340.12 444.95,336.94 445.05,343.93 445.15,339.66 445.26,337.84 445.36,339.03 445.47,346.48 445.57,340.29 445.68,342.52 445.78,337.21 445.89,341.70 445.99,334.81 446.09,349.46 446.20,339.69 446.30,344.25 446.41,335.52 446.51,336.21 446.62,344.47 446.72,338.95 446.83,341.59 446.93,346.84 447.03,344.94 447.14,341.19 447.24,335.67 447.35,342.79 447.45,340.60 447.56,340.56 447.66,340.66 447.77,345.54 447.87,341.19 447.97,339.91 448.08,351.54 448.18,336.62 448.29,336.91 448.39,341.21 448.50,327.96 448.60,344.44 448.71,348.05 448.81,343.88 448.91,344.21 449.02,335.76 449.12,341.72 449.23,342.09 449.33,340.71 449.44,336.68 449.54,341.40 449.65,343.22 449.75,341.09 449.85,333.68 449.96,342.70 450.06,337.38 450.17,341.06 450.27,342.67 450.38,340.48 450.48,335.60 450.59,342.95 450.69,337.61 450.79,340.32 450.90,341.68 451.00,342.05 451.11,339.53 451.21,340.22 451.32,341.05 451.42,340.12 451.53,345.15 451.63,344.48 451.73,345.65 451.84,343.50 451.94,343.08 452.05,343.62 452.15,340.67 452.26,345.56 452.36,343.26 452.47,336.76 452.57,331.39 452.67,342.34 452.78,334.62 452.88,338.04 452.99,345.92 453.09,341.80 453.20,346.06 453.30,343.91 453.41,341.31 453.51,346.84 453.61,339.18 453.72,343.61 453.82,344.31 453.93,340.99 454.03,345.47 454.14,348.35 454.24,342.71 454.35,345.19 454.45,343.50 454.55,346.48 454.66,349.04 454.76,346.29 454.87,347.13 454.97,345.57 455.08,345.55 455.18,342.82 455.29,332.63 455.39,345.06 455.49,348.26 455.60,341.18 455.70,347.14 455.81,348.98 455.91,344.26 456.02,343.02 456.12,342.95 456.23,342.40 456.33,343.61 456.43,339.62 456.54,340.51 456.64,346.87 456.75,344.00 456.85,347.76 456.96,341.18 457.06,344.04 457.17,330.96 457.27,345.62 457.37,338.46 457.48,346.44 457.58,348.96 457.69,346.28 457.79,342.38 457.90,340.20 458.00,346.40 458.11,340.40 458.21,345.29 458.31,345.28 458.42,344.60 458.52,338.25 458.63,343.06 458.73,342.68 458.84,348.63 458.94,343.17 459.05,342.82 459.15,338.43 459.25,346.61 459.36,346.10 459.46,346.81 459.57,345.95 459.67,341.66 459.78,346.47 459.88,339.73 459.99,343.80 460.09,346.91 460.19,346.07 460.30,348.45 460.40,353.52 460.51,340.26 460.61,341.16 460.72,347.25 460.82,345.54 460.93,338.86 461.03,346.48 461.13,343.41 461.24,342.50 461.34,344.82 461.45,345.51 461.55,345.32 461.66,343.85 461.76,349.35 461.87,344.12 461.97,343.70 462.07,348.64 462.18,342.86 462.28,350.53 462.39,352.93 462.49,350.72 462.60,344.10 462.70,340.88 462.81,345.85 462.91,349.22 463.02,345.03 463.12,338.65 463.22,344.69 463.33,349.36 463.43,343.05 463.54,345.25 463.64,345.18 463.75,344.43 463.85,342.82 463.96,345.03 464.06,347.83 464.16,345.07 464.27,344.29 464.37,340.90 464.48,348.76 464.58,345.24 464.69,347.66 464.79,343.95 464.90,346.62 465.00,354.90 465.10,341.77 465.21,347.06 465.31,348.48 465.42,349.85 465.52,348.44 465.63,349.20 465.73,345.47 465.84,344.54 465.94,345.29 466.04,343.88 466.15,347.78 466.25,343.12 466.36,345.44 466.46,343.67 466.57,343.13 466.67,346.36 466.78,341.13 466.88,342.59 466.98,346.54 467.09,339.49 467.19,339.81 467.30,350.26 467.40,352.60 467.51,349.46 467.61,343.79 467.72,342.28 467.82,343.18 467.92,345.40 468.03,342.22 468.13,343.06 468.24,346.83 468.34,344.82 468.45,341.97 468.55,347.53 468.66,347.51 468.76,348.20 468.86,336.10 468.97,343.33 469.07,342.78 469.18,346.76 469.28,345.65 469.39,341.63 469.49,346.50 469.60,341.76 469.70,345.69 469.80,345.72 469.91,343.86 470.01,342.89 470.12,339.99 470.22,346.84 470.33,340.24 470.43,348.21 470.54,348.55 470.64,353.04 470.74,343.06 470.85,341.00 470.95,349.72 471.06,346.89 471.16,346.69 471.27,350.93 471.37,345.66 471.48,344.94 471.58,347.55 471.68,349.26 471.79,345.52 471.89,344.04 472.00,350.59 472.10,346.73 472.21,344.21 472.31,355.15 472.42,345.01 472.52,340.49 472.62,350.27 472.73,341.86 472.83,347.08 472.94,344.18 473.04,346.68 473.15,349.89 473.25,357.39 473.36,338.45 473.46,350.58 473.56,347.13 473.67,341.62 473.77,345.29 473.88,345.73 473.98,352.86 474.09,348.34 474.19,350.68 474.30,352.20 474.40,345.20 474.50,343.69 474.61,348.92 474.71,348.55 474.82,343.69 474.92,340.78 475.03,349.92 475.13,342.69 475.24,343.46 475.34,346.55 475.44,353.84 475.55,344.72 475.65,344.33 475.76,340.87 475.86,348.57 475.97,341.47 476.07,347.80 476.18,344.95 476.28,347.05 476.38,346.43 476.49,341.93 476.59,348.97 476.70,344.05 476.80,347.65 476.91,346.91 477.01,349.14 477.12,346.17 477.22,353.35 477.32,347.70 477.43,343.57 477.53,344.14 477.64,357.55 477.74,350.58 477.85,348.29 477.95,334.75 478.06,348.37 478.16,347.02 478.26,347.81 478.37,346.03 478.47,350.02 478.58,346.21 478.68,343.99 478.79,343.67 478.89,352.90 479.00,344.17 479.10,334.58 479.20,344.57 479.31,344.92 479.41,355.19 479.52,342.81 479.62,340.94 479.73,343.23 479.83,345.59 479.94,344.54 480.04,337.43 480.14,349.63 480.25,348.64 480.35,343.71 480.46,346.50 480.56,354.46 480.67,346.64 480.77,346.25 480.88,350.48 480.98,344.95 481.08,346.64 481.19,353.39 481.29,345.78 481.40,340.42 481.50,341.76 481.61,355.01 481.71,351.90 481.82,347.37 481.92,346.66 482.02,352.01 482.13,350.06 482.23,343.15 482.34,346.85 482.44,344.24 482.55,347.79 482.65,344.31 482.76,351.24 482.86,349.44 482.96,350.89 483.07,354.10 483.17,349.10 483.28,356.78 483.38,349.37 483.49,347.37 483.59,347.29 483.70,346.58 483.80,349.20 483.91,348.10 484.01,344.11 484.11,348.46 484.22,347.88 484.32,356.08 484.43,351.65 484.53,344.40 484.64,350.90 484.74,351.62 484.85,341.71 484.95,352.15 485.05,344.83 485.16,348.46 485.26,350.23 485.37,354.96 485.47,343.79 485.58,354.23 485.68,352.30 485.79,345.63 485.89,352.38 485.99,346.60 486.10,348.42 486.20,349.22 486.31,351.84 486.41,350.54 486.52,347.46 486.62,351.64 486.73,346.31 486.83,347.63 486.93,346.64 487.04,347.69 487.14,346.60 487.25,346.03 487.35,345.76 487.46,347.27 487.56,347.47 487.67,351.60 487.77,354.29 487.87,348.42 487.98,345.43 488.08,351.71 488.19,353.91 488.29,350.47 488.40,347.48 488.50,345.86 488.61,349.77 488.71,352.63 488.81,348.94 488.92,346.50 489.02,348.95 489.13,345.44 489.23,350.48 489.34,345.94 489.44,343.41 489.55,352.16 489.65,351.75 489.75,346.73 489.86,338.56 489.96,347.24 490.07,349.02 490.17,344.61 490.28,349.34 490.38,354.35 490.49,352.16 490.59,344.54 490.69,360.26 490.80,353.77 490.90,346.35 491.01,348.59 491.11,345.09 491.22,352.63 491.32,351.57 491.43,350.30 491.53,353.27 491.63,349.96 491.74,349.77 491.84,346.34 491.95,349.52 492.05,350.57 492.16,347.62 492.26,345.61 492.37,345.85 492.47,348.39 492.57,350.59 492.68,350.91 492.78,353.70 492.89,349.15 492.99,349.47 493.10,343.94 493.20,348.70 493.31,346.96 493.41,345.12 493.51,355.68 493.62,351.63 493.72,350.29 493.83,349.12 493.93,353.30 494.04,343.93 494.14,346.57 494.25,347.92 494.35,345.15 494.45,353.26 494.56,345.86 494.66,351.68 494.77,355.93 494.87,349.27 494.98,348.30 495.08,351.99 495.19,360.81 495.29,353.57 495.39,350.27 495.50,366.71 495.60,346.39 495.71,346.49 495.81,350.43 495.92,346.33 496.02,350.41 496.13,353.65 496.23,347.79 496.33,348.05 496.44,353.01 496.54,359.39 496.65,353.22 496.75,346.09 496.86,351.00 496.96,340.67 497.07,352.21 497.17,348.03 497.27,348.99 497.38,350.81 497.48,347.31 497.59,352.95 497.69,350.30 497.80,354.04 497.90,357.41 498.01,349.94 498.11,353.99 498.21,354.53 498.32,348.28 498.42,350.77 498.53,348.96 498.63,344.51 498.74,349.68 498.84,348.79 498.95,354.27 499.05,347.54 499.15,347.50 499.26,353.84 499.36,348.19 499.47,349.32 499.57,345.72 499.68,350.13 499.78,342.37 499.89,352.60 499.99,351.57 500.09,350.14 500.20,351.09 500.30,356.58 500.41,348.37 500.51,347.47 500.62,344.79 500.72,352.45 500.83,354.78 500.93,348.42 501.03,354.03 501.14,350.64 501.24,351.99 501.35,350.03 501.45,352.17 501.56,348.37 501.66,353.77 501.77,342.79 501.87,348.14 501.97,352.84 502.08,353.98 502.18,351.41 502.29,353.99 502.39,353.57 502.50,341.59 502.60,347.61 502.71,354.47 502.81,349.01 502.91,350.84 503.02,345.83 503.12,353.12 503.23,343.84 503.33,350.69 503.44,337.72 503.54,352.55 503.65,346.50 503.75,351.37 503.85,345.47 503.96,351.64 504.06,354.60 504.17,354.65 504.27,353.20 504.38,349.08 504.48,349.86 504.59,350.73 504.69,347.60 504.80,345.69 504.90,357.90 505.00,344.52 505.11,343.49 505.21,353.27 505.32,353.11 505.42,349.89 505.53,350.49 505.63,353.06 505.74,351.52 505.84,345.93 505.94,348.26 506.05,354.02 506.15,357.03 506.26,358.75 506.36,350.77 506.47,354.00 506.57,354.21 506.68,349.01 506.78,352.38 506.88,352.72 506.99,350.75 507.09,346.64 507.20,350.47 507.30,349.21 507.41,351.25 507.51,346.37 507.62,355.64 507.72,355.30 507.82,353.27 507.93,344.84 508.03,346.47 508.14,355.29 508.24,353.17 508.35,348.00 508.45,351.44 508.56,348.73 508.66,353.33 508.76,357.23 508.87,349.67 508.97,347.57 509.08,356.87 509.18,358.02 509.29,353.29 509.39,358.02 509.50,350.38 509.60,355.69 509.70,349.37 509.81,353.00 509.91,351.43 510.02,349.68 510.12,352.58 510.23,355.30 510.33,348.88 510.44,356.84 510.54,347.27 510.64,354.00 510.75,353.75 510.85,350.69 510.96,350.63 511.06,350.35 511.17,356.94 511.27,355.00 511.38,350.94 511.48,350.86 511.58,352.42 511.69,347.81 511.79,352.73 511.90,349.02 512.00,348.55 512.11,351.02 512.21,352.84 512.32,349.75 512.42,350.73 512.52,350.18 512.63,355.14 512.73,350.71 512.84,346.98 512.94,354.17 513.05,351.85 513.15,353.12 513.26,349.40 513.36,359.21 513.46,347.05 513.57,350.68 513.67,353.15 513.78,351.50 513.88,348.67 513.99,351.20 514.09,350.22 514.20,348.46 514.30,351.91" fill="none" stroke="#36a36a" stroke-width="1.0" stroke-linejoin="round" opacity="1.0"/>
<polyline points="327.02,248.81 327.28,255.65 327.54,260.18 327.80,262.66 328.07,264.80 328.33,266.21 328.59,267.50 328.85,272.22 329.11,274.78 329.37,272.35 329.63,275.33 329.89,279.97 330.15,279.19 330.42,282.21 330.68,284.14 330.94,284.94 331.20,287.38 331.46,289.94 331.72,290.66 331.98,290.72 332.24,290.12 332.50,290.97 332.77,291.20 333.03,294.73 333.29,294.41 333.55,297.49 333.81,297.59 334.07,295.20 334.33,297.79 334.59,295.34 334.85,297.95 335.12,300.46 335.38,301.48 335.64,304.30 335.90,299.58 336.16,300.69 336.42,297.16 336.68,296.88 336.94,303.47 337.21,306.20 337.47,307.89 337.73,306.22 337.99,306.24 338.25,308.97 338.51,306.02 338.77,306.07" fill="none" stroke="#3565c0" stroke-width="1.0" stroke-linejoin="round" opacity="1.0"/>
<polyline points="326.92,272.73 327.96,278.75 329.01,283.65 330.05,287.75 331.09,291.27 332.14,294.35 333.18,297.09 334.23,299.58 335.27,301.84 336.32,303.94 337.36,305.88 338.41,307.69 339.45,309.38 340.50,310.97 341.54,312.47 342.58,313.88 343.63,315.21 344.67,316.47 345.72,317.66 346.76,318.79 347.81,319.85 348.85,320.86 349.90,321.82 350.94,322.74 351.98,323.60 353.03,324.43 354.07,325.21 355.12,325.96 356.16,326.68 357.21,327.36 358.25,328.01 359.30,328.63 360.34,329.23 361.39,329.80 362.43,330.35 363.47,330.87 364.52,331.38 365.56,331.86 366.61,332.33 367.65,332.78 368.70,333.21 369.74,333.63 370.79,334.04 371.83,334.43 372.87,334.81 373.92,335.18 374.96,335.53 376.01,335.88 377.05,336.21 378.10,336.54 379.14,336.86 380.19,337.17 381.23,337.47 382.28,337.77 383.32,338.06 384.36,338.34 385.41,338.62 386.45,338.89 387.50,339.16 388.54,339.42 389.59,339.67 390.63,339.92 391.68,340.17 392.72,340.41 393.76,340.65 394.81,340.89 395.85,341.12 396.90,341.35 397.94,341.57 398.99,341.80 400.03,342.02 401.08,342.23 402.12,342.45 403.17,342.66 404.21,342.87 405.25,343.08 406.30,343.28 407.34,343.49 408.39,343.69 409.43,343.89 410.48,344.09 411.52,344.28 412.57,344.48 413.61,344.67 414.65,344.86 415.70,345.05 416.74,345.24 417.79,345.43 418.83,345.62 419.88,345.80 420.92,345.98 421.97,346.17 423.01,346.35 424.06,346.53 425.10,346.71 426.14,346.88 427.19,347.06 428.23,347.24 429.28,347.41 430.32,347.58 431.37,347.76 432.41,347.93 433.46,348.10 434.50,348.27 435.54,348.44 436.59,348.61 437.63,348.77 438.68,348.94 439.72,349.11 440.77,349.27 441.81,349.43 442.86,349.60 443.90,349.76 444.95,349.92 445.99,350.08 447.03,350.24 448.08,350.40 449.12,350.56 450.17,350.72 451.21,350.88 452.26,351.03 453.30,351.19 454.35,351.35 455.39,351.50 456.43,351.65 457.48,351.81 458.52,351.96 459.57,352.11 460.61,352.26 461.66,352.42 462.70,352.57 463.75,352.72 464.79,352.86 465.84,353.01 466.88,353.16 467.92,353.31 468.97,353.45 470.01,353.60 471.06,353.74 472.10,353.89 473.15,354.03 474.19,354.18 475.24,354.32 476.28,354.46 477.32,354.60 478.37,354.74 479.41,354.88 480.46,355.02 481.50,355.16 482.55,355.30 483.59,355.44 484.64,355.58 485.68,355.72 486.73,355.85 487.77,355.99 488.81,356.12 489.86,356.26 490.90,356.39 491.95,356.53 492.99,356.66 494.04,356.79 495.08,356.93 496.13,357.06 497.17,357.19 498.21,357.32 499.26,357.45 500.30,357.58 501.35,357.71 502.39,357.84 503.44,357.96 504.48,358.09 505.53,358.22 506.57,358.35 507.62,358.47 508.66,358.60 509.70,358.72 510.75,358.85 511.79,358.97 512.84,359.09 513.88,359.22" fill="none" stroke="#e8393f" stroke-width="1.0" stroke-linejoin="round" opacity="1.0"/>
</g>
<line x1="412.2" y1="248.6" x2="433" y2="248.6" stroke="#4d4d4d" stroke-width="1.8" stroke-opacity="0.9"/>
<text x="436.20" y="252.30" font-size="9.6" text-anchor="start" fill="#262626" stroke="#262626" stroke-width="0.4" font-weight="bold" >CeO<tspan font-size="6.2" dy="3">2</tspan></text>
<line x1="412.2" y1="263.2" x2="433" y2="263.2" stroke="#e8393f" stroke-width="1.8" stroke-opacity="0.9"/>
<text x="436.20" y="267.00" font-size="9.6" text-anchor="start" fill="#e63a40" stroke="#e63a40" stroke-width="0.4" font-weight="bold" >ZIS</text>
<line x1="412.2" y1="275.5" x2="433" y2="275.5" stroke="#3565c0" stroke-width="1.8" stroke-opacity="0.9"/>
<text x="436.20" y="278.90" font-size="9.6" text-anchor="start" fill="#2f5fc4" stroke="#2f5fc4" stroke-width="0.4" font-weight="bold" >ZCIS</text>
<line x1="412.2" y1="289.0" x2="433" y2="289.0" stroke="#36a36a" stroke-width="1.8" stroke-opacity="0.9"/>
<text x="436.20" y="292.10" font-size="9.6" text-anchor="start" fill="#2c9e62" stroke="#2c9e62" stroke-width="0.4" font-weight="bold" >CeO<tspan font-size="6.2" dy="3">2</tspan><tspan dy="-3">/ZCIS</tspan></text>
</svg></body></html>
